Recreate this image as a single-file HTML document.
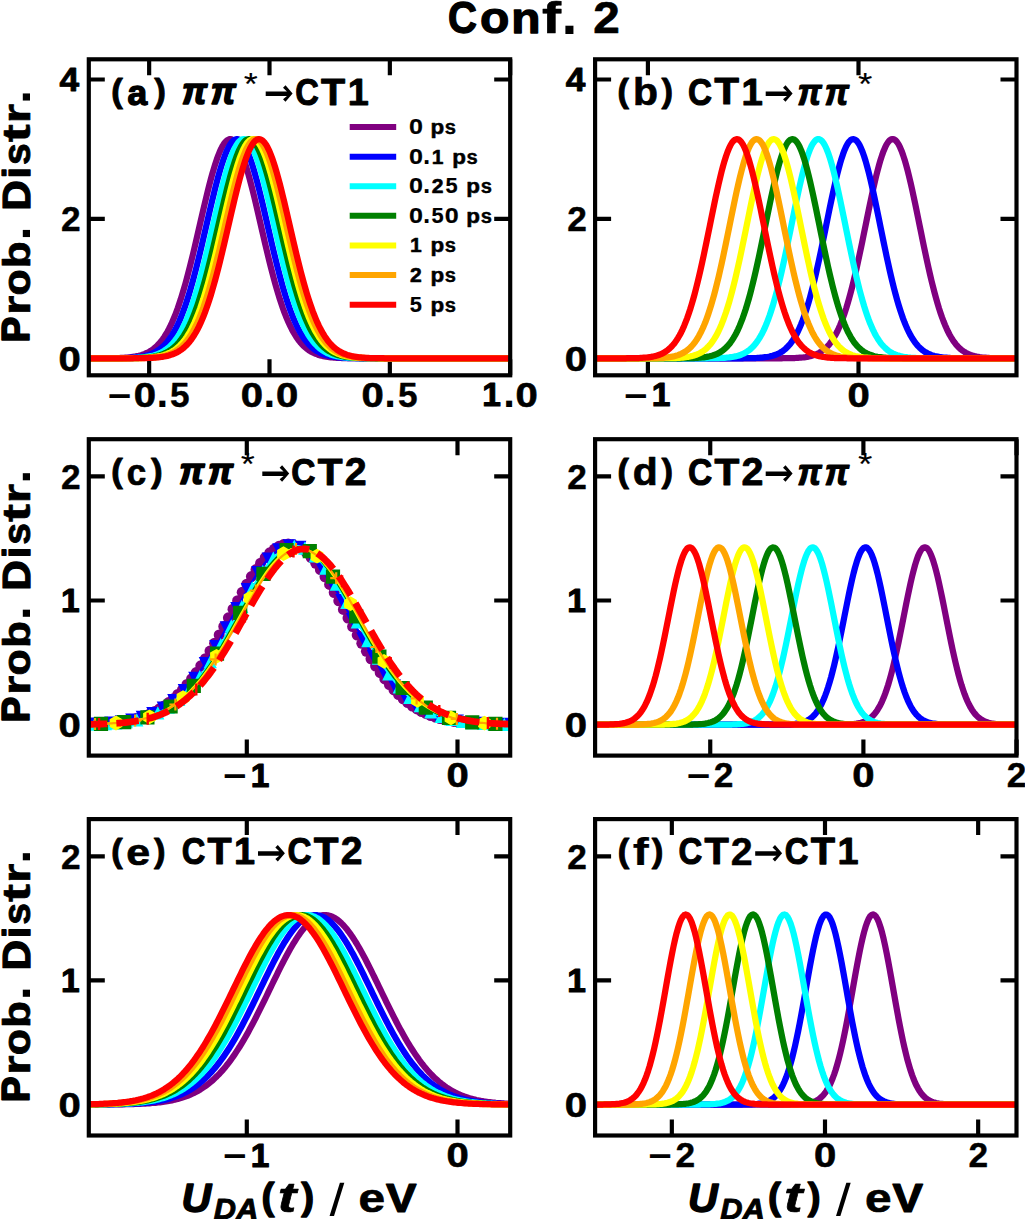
<!DOCTYPE html>
<html><head><meta charset="utf-8"><style>
html,body{margin:0;padding:0;background:#fff;}
svg{display:block;}
text{font-family:"Liberation Sans",sans-serif;font-weight:bold;fill:#000;}
</style></head><body>
<svg width="1025" height="1219" viewBox="0 0 1025 1219">
<defs><clipPath id="clipa"><rect x="88.8" y="59.3" width="421.40" height="316.00"/></clipPath><clipPath id="clipb"><rect x="595.1" y="59.3" width="421.40" height="316.00"/></clipPath><clipPath id="clipc"><rect x="88.8" y="439.2" width="421.40" height="316.40"/></clipPath><clipPath id="clipd"><rect x="595.1" y="439.2" width="421.40" height="316.40"/></clipPath><clipPath id="clipe"><rect x="88.8" y="819.1" width="421.40" height="316.40"/></clipPath><clipPath id="clipf"><rect x="595.1" y="819.1" width="421.40" height="316.40"/></clipPath></defs>
<rect width="1025" height="1219" fill="#fff"/>
<path d="M149.15,375.3 v-16 M149.15,59.3 v16 M269.50,375.3 v-16 M269.50,59.3 v16 M389.85,375.3 v-16 M389.85,59.3 v16 M510.20,375.3 v-16 M510.20,59.3 v16 M88.8,358.30 h16 M510.2,358.30 h-16 M88.8,218.90 h16 M510.2,218.90 h-16 M88.8,79.50 h16 M510.2,79.50 h-16" stroke="#000" stroke-width="4.17" fill="none"/>
<g clip-path="url(#clipa)" fill="none" stroke-linejoin="round">
<path d="M84.8,358.3 L90.8,358.3 L96.8,358.3 L98.3,358.3 L99.8,358.3 L101.3,358.3 L102.8,358.3 L104.3,358.3 L105.8,358.2 L107.3,358.2 L108.8,358.2 L110.3,358.2 L111.8,358.2 L113.3,358.2 L114.8,358.1 L116.3,358.1 L117.8,358.0 L119.3,358.0 L120.8,357.9 L122.3,357.9 L123.8,357.8 L125.3,357.7 L126.8,357.6 L128.3,357.5 L129.8,357.3 L131.3,357.1 L132.8,356.9 L134.3,356.7 L135.8,356.4 L137.3,356.1 L138.8,355.8 L140.3,355.4 L141.8,355.0 L143.3,354.4 L144.8,353.9 L146.3,353.2 L147.8,352.5 L149.3,351.7 L150.8,350.8 L152.3,349.8 L153.8,348.7 L155.3,347.4 L156.8,346.1 L158.3,344.5 L159.8,342.9 L161.3,341.1 L162.8,339.1 L164.3,336.9 L165.8,334.5 L167.3,332.0 L168.8,329.2 L170.3,326.2 L171.8,323.0 L173.3,319.6 L174.8,316.0 L176.3,312.1 L177.8,308.0 L179.3,303.6 L180.8,299.1 L182.3,294.2 L183.8,289.2 L185.3,284.0 L186.8,278.5 L188.3,272.8 L189.8,267.0 L191.3,261.0 L192.8,254.9 L194.3,248.6 L195.8,242.2 L197.3,235.8 L198.8,229.3 L200.3,222.7 L201.8,216.2 L203.3,209.8 L204.8,203.4 L206.3,197.1 L207.8,191.0 L209.3,185.1 L210.8,179.4 L212.3,173.9 L213.8,168.8 L215.3,163.9 L216.8,159.4 L218.3,155.3 L219.8,151.6 L221.3,148.4 L222.8,145.6 L224.3,143.3 L225.8,141.5 L227.3,140.2 L228.8,139.4 L230.3,139.1 L231.8,139.4 L233.3,140.2 L234.8,141.5 L236.3,143.3 L237.8,145.6 L239.3,148.4 L240.8,151.6 L242.3,155.3 L243.8,159.4 L245.3,163.9 L246.8,168.8 L248.3,173.9 L249.8,179.4 L251.3,185.1 L252.8,191.0 L254.3,197.1 L255.8,203.4 L257.3,209.8 L258.8,216.2 L260.3,222.7 L261.8,229.3 L263.3,235.8 L264.8,242.2 L266.3,248.6 L267.8,254.9 L269.3,261.0 L270.8,267.0 L272.3,272.8 L273.8,278.5 L275.3,284.0 L276.8,289.2 L278.3,294.2 L279.8,299.1 L281.3,303.6 L282.8,308.0 L284.3,312.1 L285.8,316.0 L287.3,319.6 L288.8,323.0 L290.3,326.2 L291.8,329.2 L293.3,332.0 L294.8,334.5 L296.3,336.9 L297.8,339.1 L299.3,341.1 L300.8,342.9 L302.3,344.5 L303.8,346.1 L305.3,347.4 L306.8,348.7 L308.3,349.8 L309.8,350.8 L311.3,351.7 L312.8,352.5 L314.3,353.2 L315.8,353.9 L317.3,354.4 L318.8,355.0 L320.3,355.4 L321.8,355.8 L323.3,356.1 L324.8,356.4 L326.3,356.7 L327.8,356.9 L329.3,357.1 L330.8,357.3 L332.3,357.5 L333.8,357.6 L335.3,357.7 L336.8,357.8 L338.3,357.9 L339.8,357.9 L341.3,358.0 L342.8,358.0 L344.3,358.1 L345.8,358.1 L347.3,358.2 L348.8,358.2 L350.3,358.2 L351.8,358.2 L353.3,358.2 L354.8,358.2 L356.3,358.3 L357.8,358.3 L359.3,358.3 L360.8,358.3 L362.3,358.3 L363.8,358.3 L365.3,358.3 L366.8,358.3 L368.3,358.3 L374.3,358.3 L380.3,358.3 L386.3,358.3 L392.3,358.3 L398.3,358.3 L404.3,358.3 L410.3,358.3 L416.3,358.3 L422.3,358.3 L428.3,358.3 L434.3,358.3 L440.3,358.3 L446.3,358.3 L452.3,358.3 L458.3,358.3 L464.3,358.3 L470.3,358.3 L476.3,358.3 L482.3,358.3 L488.3,358.3 L494.3,358.3 L500.3,358.3 L506.3,358.3 L512.3,358.3" stroke="#800080" stroke-width="6.25"/>
<path d="M84.8,358.3 L90.8,358.3 L96.8,358.3 L102.8,358.3 L104.3,358.3 L105.8,358.3 L107.3,358.3 L108.8,358.3 L110.3,358.3 L111.8,358.2 L113.3,358.2 L114.8,358.2 L116.3,358.2 L117.8,358.2 L119.3,358.2 L120.8,358.1 L122.3,358.1 L123.8,358.1 L125.3,358.0 L126.8,358.0 L128.3,357.9 L129.8,357.8 L131.3,357.7 L132.8,357.6 L134.3,357.5 L135.8,357.4 L137.3,357.2 L138.8,357.0 L140.3,356.8 L141.8,356.6 L143.3,356.3 L144.8,356.0 L146.3,355.6 L147.8,355.2 L149.3,354.7 L150.8,354.2 L152.3,353.5 L153.8,352.9 L155.3,352.1 L156.8,351.2 L158.3,350.3 L159.8,349.2 L161.3,348.0 L162.8,346.7 L164.3,345.3 L165.8,343.7 L167.3,341.9 L168.8,340.0 L170.3,337.9 L171.8,335.7 L173.3,333.2 L174.8,330.5 L176.3,327.7 L177.8,324.6 L179.3,321.3 L180.8,317.7 L182.3,313.9 L183.8,309.9 L185.3,305.7 L186.8,301.2 L188.3,296.5 L189.8,291.6 L191.3,286.4 L192.8,281.1 L194.3,275.5 L195.8,269.7 L197.3,263.8 L198.8,257.7 L200.3,251.5 L201.8,245.2 L203.3,238.8 L204.8,232.3 L206.3,225.8 L207.8,219.3 L209.3,212.8 L210.8,206.4 L212.3,200.0 L213.8,193.9 L215.3,187.8 L216.8,182.0 L218.3,176.4 L219.8,171.1 L221.3,166.1 L222.8,161.5 L224.3,157.2 L225.8,153.3 L227.3,149.8 L228.8,146.8 L230.3,144.3 L231.8,142.2 L233.3,140.7 L234.8,139.7 L236.3,139.2 L237.8,139.2 L239.3,139.7 L240.8,140.8 L242.3,142.4 L243.8,144.4 L245.3,147.0 L246.8,150.1 L248.3,153.5 L249.8,157.5 L251.3,161.8 L252.8,166.5 L254.3,171.5 L255.8,176.8 L257.3,182.4 L258.8,188.2 L260.3,194.3 L261.8,200.5 L263.3,206.8 L264.8,213.2 L266.3,219.7 L267.8,226.2 L269.3,232.7 L270.8,239.2 L272.3,245.6 L273.8,251.9 L275.3,258.1 L276.8,264.2 L278.3,270.1 L279.8,275.9 L281.3,281.4 L282.8,286.8 L284.3,291.9 L285.8,296.8 L287.3,301.5 L288.8,306.0 L290.3,310.2 L291.8,314.2 L293.3,318.0 L294.8,321.5 L296.3,324.8 L297.8,327.9 L299.3,330.7 L300.8,333.4 L302.3,335.8 L303.8,338.1 L305.3,340.1 L306.8,342.0 L308.3,343.8 L309.8,345.4 L311.3,346.8 L312.8,348.1 L314.3,349.3 L315.8,350.3 L317.3,351.3 L318.8,352.1 L320.3,352.9 L321.8,353.6 L323.3,354.2 L324.8,354.7 L326.3,355.2 L327.8,355.6 L329.3,356.0 L330.8,356.3 L332.3,356.6 L333.8,356.8 L335.3,357.0 L336.8,357.2 L338.3,357.4 L339.8,357.5 L341.3,357.6 L342.8,357.7 L344.3,357.8 L345.8,357.9 L347.3,358.0 L348.8,358.0 L350.3,358.1 L351.8,358.1 L353.3,358.1 L354.8,358.2 L356.3,358.2 L357.8,358.2 L359.3,358.2 L360.8,358.2 L362.3,358.2 L363.8,358.3 L365.3,358.3 L366.8,358.3 L368.3,358.3 L369.8,358.3 L371.3,358.3 L372.8,358.3 L374.3,358.3 L375.8,358.3 L381.8,358.3 L387.8,358.3 L393.8,358.3 L399.8,358.3 L405.8,358.3 L411.8,358.3 L417.8,358.3 L423.8,358.3 L429.8,358.3 L435.8,358.3 L441.8,358.3 L447.8,358.3 L453.8,358.3 L459.8,358.3 L465.8,358.3 L471.8,358.3 L477.8,358.3 L483.8,358.3 L489.8,358.3 L495.8,358.3 L501.8,358.3 L507.8,358.3 L513.8,358.3" stroke="#0000ff" stroke-width="6.25"/>
<path d="M84.8,358.3 L90.8,358.3 L96.8,358.3 L102.8,358.3 L108.8,358.3 L110.3,358.3 L111.8,358.3 L113.3,358.3 L114.8,358.3 L116.3,358.3 L117.8,358.3 L119.3,358.2 L120.8,358.2 L122.3,358.2 L123.8,358.2 L125.3,358.2 L126.8,358.2 L128.3,358.1 L129.8,358.1 L131.3,358.0 L132.8,358.0 L134.3,357.9 L135.8,357.9 L137.3,357.8 L138.8,357.7 L140.3,357.6 L141.8,357.4 L143.3,357.3 L144.8,357.1 L146.3,356.9 L147.8,356.7 L149.3,356.4 L150.8,356.1 L152.3,355.8 L153.8,355.4 L155.3,354.9 L156.8,354.4 L158.3,353.8 L159.8,353.2 L161.3,352.5 L162.8,351.6 L164.3,350.7 L165.8,349.7 L167.3,348.6 L168.8,347.3 L170.3,346.0 L171.8,344.4 L173.3,342.8 L174.8,340.9 L176.3,338.9 L177.8,336.7 L179.3,334.4 L180.8,331.8 L182.3,329.0 L183.8,326.0 L185.3,322.8 L186.8,319.4 L188.3,315.7 L189.8,311.8 L191.3,307.7 L192.8,303.3 L194.3,298.7 L195.8,293.9 L197.3,288.9 L198.8,283.6 L200.3,278.1 L201.8,272.5 L203.3,266.6 L204.8,260.6 L206.3,254.4 L207.8,248.2 L209.3,241.8 L210.8,235.3 L212.3,228.8 L213.8,222.3 L215.3,215.8 L216.8,209.4 L218.3,203.0 L219.8,196.7 L221.3,190.6 L222.8,184.7 L224.3,179.0 L225.8,173.6 L227.3,168.4 L228.8,163.6 L230.3,159.1 L231.8,155.1 L233.3,151.4 L234.8,148.2 L236.3,145.4 L237.8,143.1 L239.3,141.4 L240.8,140.1 L242.3,139.3 L243.8,139.1 L245.3,139.4 L246.8,140.2 L248.3,141.6 L249.8,143.4 L251.3,145.8 L252.8,148.6 L254.3,151.9 L255.8,155.6 L257.3,159.7 L258.8,164.2 L260.3,169.1 L261.8,174.3 L263.3,179.8 L264.8,185.5 L266.3,191.4 L267.8,197.6 L269.3,203.8 L270.8,210.2 L272.3,216.7 L273.8,223.2 L275.3,229.7 L276.8,236.2 L278.3,242.6 L279.8,249.0 L281.3,255.3 L282.8,261.4 L284.3,267.4 L285.8,273.2 L287.3,278.9 L288.8,284.3 L290.3,289.6 L291.8,294.6 L293.3,299.4 L294.8,303.9 L296.3,308.3 L297.8,312.4 L299.3,316.2 L300.8,319.9 L302.3,323.3 L303.8,326.4 L305.3,329.4 L306.8,332.1 L308.3,334.7 L309.8,337.0 L311.3,339.2 L312.8,341.2 L314.3,343.0 L315.8,344.6 L317.3,346.1 L318.8,347.5 L320.3,348.7 L321.8,349.9 L323.3,350.9 L324.8,351.8 L326.3,352.6 L327.8,353.3 L329.3,353.9 L330.8,354.5 L332.3,355.0 L333.8,355.4 L335.3,355.8 L336.8,356.2 L338.3,356.5 L339.8,356.7 L341.3,356.9 L342.8,357.1 L344.3,357.3 L345.8,357.5 L347.3,357.6 L348.8,357.7 L350.3,357.8 L351.8,357.9 L353.3,357.9 L354.8,358.0 L356.3,358.0 L357.8,358.1 L359.3,358.1 L360.8,358.2 L362.3,358.2 L363.8,358.2 L365.3,358.2 L366.8,358.2 L368.3,358.2 L369.8,358.3 L371.3,358.3 L372.8,358.3 L374.3,358.3 L375.8,358.3 L377.3,358.3 L378.8,358.3 L380.3,358.3 L381.8,358.3 L387.8,358.3 L393.8,358.3 L399.8,358.3 L405.8,358.3 L411.8,358.3 L417.8,358.3 L423.8,358.3 L429.8,358.3 L435.8,358.3 L441.8,358.3 L447.8,358.3 L453.8,358.3 L459.8,358.3 L465.8,358.3 L471.8,358.3 L477.8,358.3 L483.8,358.3 L489.8,358.3 L495.8,358.3 L501.8,358.3 L507.8,358.3 L513.8,358.3" stroke="#00ffff" stroke-width="6.25"/>
<path d="M84.8,358.3 L90.8,358.3 L96.8,358.3 L102.8,358.3 L108.8,358.3 L114.8,358.3 L116.3,358.3 L117.8,358.3 L119.3,358.3 L120.8,358.3 L122.3,358.3 L123.8,358.2 L125.3,358.2 L126.8,358.2 L128.3,358.2 L129.8,358.2 L131.3,358.2 L132.8,358.1 L134.3,358.1 L135.8,358.1 L137.3,358.0 L138.8,358.0 L140.3,357.9 L141.8,357.8 L143.3,357.7 L144.8,357.6 L146.3,357.5 L147.8,357.4 L149.3,357.2 L150.8,357.0 L152.3,356.8 L153.8,356.6 L155.3,356.3 L156.8,356.0 L158.3,355.6 L159.8,355.2 L161.3,354.7 L162.8,354.2 L164.3,353.5 L165.8,352.9 L167.3,352.1 L168.8,351.2 L170.3,350.3 L171.8,349.2 L173.3,348.0 L174.8,346.7 L176.3,345.3 L177.8,343.7 L179.3,341.9 L180.8,340.0 L182.3,337.9 L183.8,335.7 L185.3,333.2 L186.8,330.5 L188.3,327.7 L189.8,324.6 L191.3,321.3 L192.8,317.7 L194.3,313.9 L195.8,309.9 L197.3,305.7 L198.8,301.2 L200.3,296.5 L201.8,291.6 L203.3,286.4 L204.8,281.1 L206.3,275.5 L207.8,269.7 L209.3,263.8 L210.8,257.7 L212.3,251.5 L213.8,245.2 L215.3,238.8 L216.8,232.3 L218.3,225.8 L219.8,219.3 L221.3,212.8 L222.8,206.4 L224.3,200.0 L225.8,193.9 L227.3,187.8 L228.8,182.0 L230.3,176.4 L231.8,171.1 L233.3,166.1 L234.8,161.5 L236.3,157.2 L237.8,153.3 L239.3,149.8 L240.8,146.8 L242.3,144.3 L243.8,142.2 L245.3,140.7 L246.8,139.7 L248.3,139.2 L249.8,139.2 L251.3,139.7 L252.8,140.8 L254.3,142.4 L255.8,144.4 L257.3,147.0 L258.8,150.1 L260.3,153.5 L261.8,157.5 L263.3,161.8 L264.8,166.5 L266.3,171.5 L267.8,176.8 L269.3,182.4 L270.8,188.2 L272.3,194.3 L273.8,200.5 L275.3,206.8 L276.8,213.2 L278.3,219.7 L279.8,226.2 L281.3,232.7 L282.8,239.2 L284.3,245.6 L285.8,251.9 L287.3,258.1 L288.8,264.2 L290.3,270.1 L291.8,275.9 L293.3,281.4 L294.8,286.8 L296.3,291.9 L297.8,296.8 L299.3,301.5 L300.8,306.0 L302.3,310.2 L303.8,314.2 L305.3,318.0 L306.8,321.5 L308.3,324.8 L309.8,327.9 L311.3,330.7 L312.8,333.4 L314.3,335.8 L315.8,338.1 L317.3,340.1 L318.8,342.0 L320.3,343.8 L321.8,345.4 L323.3,346.8 L324.8,348.1 L326.3,349.3 L327.8,350.3 L329.3,351.3 L330.8,352.1 L332.3,352.9 L333.8,353.6 L335.3,354.2 L336.8,354.7 L338.3,355.2 L339.8,355.6 L341.3,356.0 L342.8,356.3 L344.3,356.6 L345.8,356.8 L347.3,357.0 L348.8,357.2 L350.3,357.4 L351.8,357.5 L353.3,357.6 L354.8,357.7 L356.3,357.8 L357.8,357.9 L359.3,358.0 L360.8,358.0 L362.3,358.1 L363.8,358.1 L365.3,358.1 L366.8,358.2 L368.3,358.2 L369.8,358.2 L371.3,358.2 L372.8,358.2 L374.3,358.2 L375.8,358.3 L377.3,358.3 L378.8,358.3 L380.3,358.3 L381.8,358.3 L383.3,358.3 L384.8,358.3 L386.3,358.3 L387.8,358.3 L393.8,358.3 L399.8,358.3 L405.8,358.3 L411.8,358.3 L417.8,358.3 L423.8,358.3 L429.8,358.3 L435.8,358.3 L441.8,358.3 L447.8,358.3 L453.8,358.3 L459.8,358.3 L465.8,358.3 L471.8,358.3 L477.8,358.3 L483.8,358.3 L489.8,358.3 L495.8,358.3 L501.8,358.3 L507.8,358.3 L513.8,358.3" stroke="#008000" stroke-width="6.25"/>
<path d="M84.8,358.3 L90.8,358.3 L96.8,358.3 L102.8,358.3 L108.8,358.3 L114.8,358.3 L120.8,358.3 L122.3,358.3 L123.8,358.3 L125.3,358.3 L126.8,358.3 L128.3,358.2 L129.8,358.2 L131.3,358.2 L132.8,358.2 L134.3,358.2 L135.8,358.2 L137.3,358.1 L138.8,358.1 L140.3,358.0 L141.8,358.0 L143.3,357.9 L144.8,357.9 L146.3,357.8 L147.8,357.7 L149.3,357.6 L150.8,357.5 L152.3,357.3 L153.8,357.1 L155.3,356.9 L156.8,356.7 L158.3,356.4 L159.8,356.1 L161.3,355.8 L162.8,355.4 L164.3,355.0 L165.8,354.4 L167.3,353.9 L168.8,353.2 L170.3,352.5 L171.8,351.7 L173.3,350.8 L174.8,349.8 L176.3,348.7 L177.8,347.4 L179.3,346.1 L180.8,344.5 L182.3,342.9 L183.8,341.1 L185.3,339.1 L186.8,336.9 L188.3,334.5 L189.8,332.0 L191.3,329.2 L192.8,326.2 L194.3,323.0 L195.8,319.6 L197.3,316.0 L198.8,312.1 L200.3,308.0 L201.8,303.6 L203.3,299.1 L204.8,294.2 L206.3,289.2 L207.8,284.0 L209.3,278.5 L210.8,272.8 L212.3,267.0 L213.8,261.0 L215.3,254.9 L216.8,248.6 L218.3,242.2 L219.8,235.8 L221.3,229.3 L222.8,222.7 L224.3,216.2 L225.8,209.8 L227.3,203.4 L228.8,197.1 L230.3,191.0 L231.8,185.1 L233.3,179.4 L234.8,173.9 L236.3,168.8 L237.8,163.9 L239.3,159.4 L240.8,155.3 L242.3,151.6 L243.8,148.4 L245.3,145.6 L246.8,143.3 L248.3,141.5 L249.8,140.2 L251.3,139.4 L252.8,139.1 L254.3,139.4 L255.8,140.2 L257.3,141.5 L258.8,143.3 L260.3,145.6 L261.8,148.4 L263.3,151.6 L264.8,155.3 L266.3,159.4 L267.8,163.9 L269.3,168.8 L270.8,173.9 L272.3,179.4 L273.8,185.1 L275.3,191.0 L276.8,197.1 L278.3,203.4 L279.8,209.8 L281.3,216.2 L282.8,222.7 L284.3,229.3 L285.8,235.8 L287.3,242.2 L288.8,248.6 L290.3,254.9 L291.8,261.0 L293.3,267.0 L294.8,272.8 L296.3,278.5 L297.8,284.0 L299.3,289.2 L300.8,294.2 L302.3,299.1 L303.8,303.6 L305.3,308.0 L306.8,312.1 L308.3,316.0 L309.8,319.6 L311.3,323.0 L312.8,326.2 L314.3,329.2 L315.8,332.0 L317.3,334.5 L318.8,336.9 L320.3,339.1 L321.8,341.1 L323.3,342.9 L324.8,344.5 L326.3,346.1 L327.8,347.4 L329.3,348.7 L330.8,349.8 L332.3,350.8 L333.8,351.7 L335.3,352.5 L336.8,353.2 L338.3,353.9 L339.8,354.4 L341.3,355.0 L342.8,355.4 L344.3,355.8 L345.8,356.1 L347.3,356.4 L348.8,356.7 L350.3,356.9 L351.8,357.1 L353.3,357.3 L354.8,357.5 L356.3,357.6 L357.8,357.7 L359.3,357.8 L360.8,357.9 L362.3,357.9 L363.8,358.0 L365.3,358.0 L366.8,358.1 L368.3,358.1 L369.8,358.2 L371.3,358.2 L372.8,358.2 L374.3,358.2 L375.8,358.2 L377.3,358.2 L378.8,358.3 L380.3,358.3 L381.8,358.3 L383.3,358.3 L384.8,358.3 L386.3,358.3 L387.8,358.3 L389.3,358.3 L390.8,358.3 L396.8,358.3 L402.8,358.3 L408.8,358.3 L414.8,358.3 L420.8,358.3 L426.8,358.3 L432.8,358.3 L438.8,358.3 L444.8,358.3 L450.8,358.3 L456.8,358.3 L462.8,358.3 L468.8,358.3 L474.8,358.3 L480.8,358.3 L486.8,358.3 L492.8,358.3 L498.8,358.3 L504.8,358.3 L510.8,358.3" stroke="#ffff00" stroke-width="6.25"/>
<path d="M84.8,358.3 L90.8,358.3 L96.8,358.3 L102.8,358.3 L108.8,358.3 L114.8,358.3 L120.8,358.3 L122.3,358.3 L123.8,358.3 L125.3,358.3 L126.8,358.3 L128.3,358.3 L129.8,358.3 L131.3,358.2 L132.8,358.2 L134.3,358.2 L135.8,358.2 L137.3,358.2 L138.8,358.2 L140.3,358.1 L141.8,358.1 L143.3,358.0 L144.8,358.0 L146.3,357.9 L147.8,357.9 L149.3,357.8 L150.8,357.7 L152.3,357.6 L153.8,357.4 L155.3,357.3 L156.8,357.1 L158.3,356.9 L159.8,356.7 L161.3,356.4 L162.8,356.1 L164.3,355.8 L165.8,355.4 L167.3,354.9 L168.8,354.4 L170.3,353.8 L171.8,353.2 L173.3,352.5 L174.8,351.6 L176.3,350.7 L177.8,349.7 L179.3,348.6 L180.8,347.3 L182.3,346.0 L183.8,344.4 L185.3,342.8 L186.8,340.9 L188.3,338.9 L189.8,336.7 L191.3,334.4 L192.8,331.8 L194.3,329.0 L195.8,326.0 L197.3,322.8 L198.8,319.4 L200.3,315.7 L201.8,311.8 L203.3,307.7 L204.8,303.3 L206.3,298.7 L207.8,293.9 L209.3,288.9 L210.8,283.6 L212.3,278.1 L213.8,272.5 L215.3,266.6 L216.8,260.6 L218.3,254.4 L219.8,248.2 L221.3,241.8 L222.8,235.3 L224.3,228.8 L225.8,222.3 L227.3,215.8 L228.8,209.4 L230.3,203.0 L231.8,196.7 L233.3,190.6 L234.8,184.7 L236.3,179.0 L237.8,173.6 L239.3,168.4 L240.8,163.6 L242.3,159.1 L243.8,155.1 L245.3,151.4 L246.8,148.2 L248.3,145.4 L249.8,143.1 L251.3,141.4 L252.8,140.1 L254.3,139.3 L255.8,139.1 L257.3,139.4 L258.8,140.2 L260.3,141.6 L261.8,143.4 L263.3,145.8 L264.8,148.6 L266.3,151.9 L267.8,155.6 L269.3,159.7 L270.8,164.2 L272.3,169.1 L273.8,174.3 L275.3,179.8 L276.8,185.5 L278.3,191.4 L279.8,197.6 L281.3,203.8 L282.8,210.2 L284.3,216.7 L285.8,223.2 L287.3,229.7 L288.8,236.2 L290.3,242.6 L291.8,249.0 L293.3,255.3 L294.8,261.4 L296.3,267.4 L297.8,273.2 L299.3,278.9 L300.8,284.3 L302.3,289.6 L303.8,294.6 L305.3,299.4 L306.8,303.9 L308.3,308.3 L309.8,312.4 L311.3,316.2 L312.8,319.9 L314.3,323.3 L315.8,326.4 L317.3,329.4 L318.8,332.1 L320.3,334.7 L321.8,337.0 L323.3,339.2 L324.8,341.2 L326.3,343.0 L327.8,344.6 L329.3,346.1 L330.8,347.5 L332.3,348.7 L333.8,349.9 L335.3,350.9 L336.8,351.8 L338.3,352.6 L339.8,353.3 L341.3,353.9 L342.8,354.5 L344.3,355.0 L345.8,355.4 L347.3,355.8 L348.8,356.2 L350.3,356.5 L351.8,356.7 L353.3,356.9 L354.8,357.1 L356.3,357.3 L357.8,357.5 L359.3,357.6 L360.8,357.7 L362.3,357.8 L363.8,357.9 L365.3,357.9 L366.8,358.0 L368.3,358.0 L369.8,358.1 L371.3,358.1 L372.8,358.2 L374.3,358.2 L375.8,358.2 L377.3,358.2 L378.8,358.2 L380.3,358.2 L381.8,358.3 L383.3,358.3 L384.8,358.3 L386.3,358.3 L387.8,358.3 L389.3,358.3 L390.8,358.3 L392.3,358.3 L393.8,358.3 L399.8,358.3 L405.8,358.3 L411.8,358.3 L417.8,358.3 L423.8,358.3 L429.8,358.3 L435.8,358.3 L441.8,358.3 L447.8,358.3 L453.8,358.3 L459.8,358.3 L465.8,358.3 L471.8,358.3 L477.8,358.3 L483.8,358.3 L489.8,358.3 L495.8,358.3 L501.8,358.3 L507.8,358.3 L513.8,358.3" stroke="#ffa500" stroke-width="6.25"/>
<path d="M84.8,358.3 L90.8,358.3 L96.8,358.3 L102.8,358.3 L108.8,358.3 L114.8,358.3 L120.8,358.3 L126.8,358.3 L128.3,358.3 L129.8,358.3 L131.3,358.3 L132.8,358.3 L134.3,358.2 L135.8,358.2 L137.3,358.2 L138.8,358.2 L140.3,358.2 L141.8,358.2 L143.3,358.1 L144.8,358.1 L146.3,358.1 L147.8,358.0 L149.3,357.9 L150.8,357.9 L152.3,357.8 L153.8,357.7 L155.3,357.6 L156.8,357.5 L158.3,357.3 L159.8,357.2 L161.3,357.0 L162.8,356.8 L164.3,356.5 L165.8,356.2 L167.3,355.9 L168.8,355.5 L170.3,355.0 L171.8,354.6 L173.3,354.0 L174.8,353.4 L176.3,352.7 L177.8,351.9 L179.3,351.0 L180.8,350.0 L182.3,348.9 L183.8,347.7 L185.3,346.3 L186.8,344.9 L188.3,343.2 L189.8,341.4 L191.3,339.5 L192.8,337.3 L194.3,335.0 L195.8,332.5 L197.3,329.8 L198.8,326.9 L200.3,323.7 L201.8,320.3 L203.3,316.7 L204.8,312.9 L206.3,308.8 L207.8,304.5 L209.3,300.0 L210.8,295.2 L212.3,290.2 L213.8,285.0 L215.3,279.6 L216.8,274.0 L218.3,268.2 L219.8,262.2 L221.3,256.1 L222.8,249.8 L224.3,243.5 L225.8,237.0 L227.3,230.6 L228.8,224.0 L230.3,217.5 L231.8,211.1 L233.3,204.7 L234.8,198.4 L236.3,192.2 L237.8,186.3 L239.3,180.5 L240.8,175.0 L242.3,169.8 L243.8,164.9 L245.3,160.3 L246.8,156.1 L248.3,152.3 L249.8,149.0 L251.3,146.1 L252.8,143.7 L254.3,141.8 L255.8,140.4 L257.3,139.5 L258.8,139.1 L260.3,139.3 L261.8,140.0 L263.3,141.2 L264.8,142.9 L266.3,145.1 L267.8,147.8 L269.3,150.9 L270.8,154.6 L272.3,158.6 L273.8,163.0 L275.3,167.8 L276.8,172.9 L278.3,178.3 L279.8,183.9 L281.3,189.8 L282.8,195.9 L284.3,202.1 L285.8,208.5 L287.3,214.9 L288.8,221.4 L290.3,228.0 L291.8,234.5 L293.3,240.9 L294.8,247.3 L296.3,253.6 L297.8,259.8 L299.3,265.8 L300.8,271.7 L302.3,277.4 L303.8,282.9 L305.3,288.2 L306.8,293.3 L308.3,298.1 L309.8,302.7 L311.3,307.1 L312.8,311.3 L314.3,315.2 L315.8,318.9 L317.3,322.4 L318.8,325.6 L320.3,328.6 L321.8,331.4 L323.3,334.0 L324.8,336.4 L326.3,338.6 L327.8,340.7 L329.3,342.5 L330.8,344.2 L332.3,345.8 L333.8,347.2 L335.3,348.4 L336.8,349.6 L338.3,350.6 L339.8,351.5 L341.3,352.4 L342.8,353.1 L344.3,353.8 L345.8,354.3 L347.3,354.9 L348.8,355.3 L350.3,355.7 L351.8,356.1 L353.3,356.4 L354.8,356.7 L356.3,356.9 L357.8,357.1 L359.3,357.3 L360.8,357.4 L362.3,357.6 L363.8,357.7 L365.3,357.8 L366.8,357.9 L368.3,357.9 L369.8,358.0 L371.3,358.0 L372.8,358.1 L374.3,358.1 L375.8,358.1 L377.3,358.2 L378.8,358.2 L380.3,358.2 L381.8,358.2 L383.3,358.2 L384.8,358.3 L386.3,358.3 L387.8,358.3 L389.3,358.3 L390.8,358.3 L392.3,358.3 L393.8,358.3 L395.3,358.3 L396.8,358.3 L398.3,358.3 L404.3,358.3 L410.3,358.3 L416.3,358.3 L422.3,358.3 L428.3,358.3 L434.3,358.3 L440.3,358.3 L446.3,358.3 L452.3,358.3 L458.3,358.3 L464.3,358.3 L470.3,358.3 L476.3,358.3 L482.3,358.3 L488.3,358.3 L494.3,358.3 L500.3,358.3 L506.3,358.3 L512.3,358.3" stroke="#ff0000" stroke-width="6.25"/>
</g>
<rect x="88.8" y="59.3" width="421.40" height="316.00" stroke="#000" stroke-width="4.17" fill="none"/>
<text transform="translate(107.74,408.10) scale(1.1590,1)" font-size="34.92" style="">−</text><text transform="translate(133.66,406.87) scale(1.1549,1)" font-size="34.67" style="stroke:#000;stroke-width:0.60px;stroke-linejoin:round;">0</text><text transform="translate(156.41,407.02) scale(0.9938,1)" font-size="42.31" style="">.</text><text transform="translate(170.10,406.97) scale(1.0056,1)" font-size="34.98" style="stroke:#000;stroke-width:0.40px;stroke-linejoin:round;">5</text>
<text transform="translate(240.80,406.87) scale(1.1549,1)" font-size="34.67" style="stroke:#000;stroke-width:0.60px;stroke-linejoin:round;">0</text><text transform="translate(263.55,407.02) scale(0.9938,1)" font-size="42.31" style="">.</text><text transform="translate(275.98,406.87) scale(1.1549,1)" font-size="34.67" style="stroke:#000;stroke-width:0.60px;stroke-linejoin:round;">0</text>
<text transform="translate(361.56,406.87) scale(1.1549,1)" font-size="34.67" style="stroke:#000;stroke-width:0.60px;stroke-linejoin:round;">0</text><text transform="translate(384.31,407.02) scale(0.9938,1)" font-size="42.31" style="">.</text><text transform="translate(398.00,406.97) scale(1.0056,1)" font-size="34.98" style="stroke:#000;stroke-width:0.40px;stroke-linejoin:round;">5</text>
<text transform="translate(482.24,406.47) scale(0.9928,1)" font-size="33.74" style="stroke:#000;stroke-width:1.10px;stroke-linejoin:round;">1</text><text transform="translate(503.18,407.02) scale(0.9938,1)" font-size="42.31" style="">.</text><text transform="translate(515.61,406.87) scale(1.1549,1)" font-size="34.67" style="stroke:#000;stroke-width:0.60px;stroke-linejoin:round;">0</text>
<text transform="translate(58.38,370.56) scale(1.1549,1)" font-size="34.67" style="stroke:#000;stroke-width:0.60px;stroke-linejoin:round;">0</text>
<text transform="translate(60.93,231.11) scale(1.0154,1)" font-size="34.74" style="stroke:#000;stroke-width:0.40px;stroke-linejoin:round;">2</text>
<text transform="translate(59.44,91.46) scale(1.0372,1)" font-size="34.03" style="stroke:#000;stroke-width:0.90px;stroke-linejoin:round;">4</text>
<path d="M647.90,375.3 v-16 M647.90,59.3 v16 M858.50,375.3 v-16 M858.50,59.3 v16 M595.1,358.30 h16 M1016.5,358.30 h-16 M595.1,218.90 h16 M1016.5,218.90 h-16 M595.1,79.50 h16 M1016.5,79.50 h-16" stroke="#000" stroke-width="4.17" fill="none"/>
<g clip-path="url(#clipb)" fill="none" stroke-linejoin="round">
<path d="M591.1,358.3 L597.1,358.3 L603.1,358.3 L609.1,358.3 L615.1,358.3 L621.1,358.3 L627.1,358.3 L633.1,358.3 L639.1,358.3 L645.1,358.3 L651.1,358.3 L657.1,358.3 L663.1,358.3 L669.1,358.3 L675.1,358.3 L681.1,358.3 L687.1,358.3 L693.1,358.3 L699.1,358.3 L705.1,358.3 L711.1,358.3 L717.1,358.3 L723.1,358.3 L729.1,358.3 L735.1,358.3 L741.1,358.3 L747.1,358.3 L753.1,358.3 L759.1,358.3 L765.1,358.3 L771.1,358.3 L772.6,358.3 L774.1,358.3 L775.6,358.3 L777.1,358.3 L778.6,358.3 L780.1,358.3 L781.6,358.3 L783.1,358.2 L784.6,358.2 L786.1,358.2 L787.6,358.2 L789.1,358.2 L790.6,358.1 L792.1,358.1 L793.6,358.0 L795.1,358.0 L796.6,357.9 L798.1,357.8 L799.6,357.7 L801.1,357.6 L802.6,357.5 L804.1,357.3 L805.6,357.1 L807.1,356.8 L808.6,356.6 L810.1,356.2 L811.6,355.9 L813.1,355.4 L814.6,354.9 L816.1,354.3 L817.6,353.7 L819.1,352.9 L820.6,352.0 L822.1,351.0 L823.6,349.9 L825.1,348.7 L826.6,347.3 L828.1,345.7 L829.6,343.9 L831.1,341.9 L832.6,339.7 L834.1,337.3 L835.6,334.7 L837.1,331.8 L838.6,328.6 L840.1,325.2 L841.6,321.5 L843.1,317.5 L844.6,313.2 L846.1,308.6 L847.6,303.6 L849.1,298.4 L850.6,292.9 L852.1,287.1 L853.6,281.1 L855.1,274.7 L856.6,268.2 L858.1,261.4 L859.6,254.4 L861.1,247.3 L862.6,240.1 L864.1,232.7 L865.6,225.3 L867.1,218.0 L868.6,210.6 L870.1,203.4 L871.6,196.3 L873.1,189.4 L874.6,182.8 L876.1,176.4 L877.6,170.4 L879.1,164.9 L880.6,159.7 L882.1,155.1 L883.6,150.9 L885.1,147.4 L886.6,144.4 L888.1,142.1 L889.6,140.4 L891.1,139.4 L892.6,139.1 L894.1,139.4 L895.6,140.4 L897.1,142.1 L898.6,144.4 L900.1,147.4 L901.6,150.9 L903.1,155.1 L904.6,159.7 L906.1,164.9 L907.6,170.4 L909.1,176.4 L910.6,182.8 L912.1,189.4 L913.6,196.3 L915.1,203.4 L916.6,210.6 L918.1,218.0 L919.6,225.3 L921.1,232.7 L922.6,240.1 L924.1,247.3 L925.6,254.4 L927.1,261.4 L928.6,268.2 L930.1,274.7 L931.6,281.1 L933.1,287.1 L934.6,292.9 L936.1,298.4 L937.6,303.6 L939.1,308.6 L940.6,313.2 L942.1,317.5 L943.6,321.5 L945.1,325.2 L946.6,328.6 L948.1,331.8 L949.6,334.7 L951.1,337.3 L952.6,339.7 L954.1,341.9 L955.6,343.9 L957.1,345.7 L958.6,347.3 L960.1,348.7 L961.6,349.9 L963.1,351.0 L964.6,352.0 L966.1,352.9 L967.6,353.7 L969.1,354.3 L970.6,354.9 L972.1,355.4 L973.6,355.9 L975.1,356.2 L976.6,356.6 L978.1,356.8 L979.6,357.1 L981.1,357.3 L982.6,357.5 L984.1,357.6 L985.6,357.7 L987.1,357.8 L988.6,357.9 L990.1,358.0 L991.6,358.0 L993.1,358.1 L994.6,358.1 L996.1,358.2 L997.6,358.2 L999.1,358.2 L1000.6,358.2 L1002.1,358.2 L1003.6,358.3 L1005.1,358.3 L1006.6,358.3 L1008.1,358.3 L1009.6,358.3 L1011.1,358.3 L1012.6,358.3 L1014.1,358.3 L1015.6,358.3" stroke="#800080" stroke-width="6.25"/>
<path d="M591.1,358.3 L597.1,358.3 L603.1,358.3 L609.1,358.3 L615.1,358.3 L621.1,358.3 L627.1,358.3 L633.1,358.3 L639.1,358.3 L645.1,358.3 L651.1,358.3 L657.1,358.3 L663.1,358.3 L669.1,358.3 L675.1,358.3 L681.1,358.3 L687.1,358.3 L693.1,358.3 L699.1,358.3 L705.1,358.3 L711.1,358.3 L717.1,358.3 L723.1,358.3 L729.1,358.3 L735.1,358.3 L736.6,358.3 L738.1,358.3 L739.6,358.3 L741.1,358.3 L742.6,358.3 L744.1,358.2 L745.6,358.2 L747.1,358.2 L748.6,358.2 L750.1,358.2 L751.6,358.1 L753.1,358.1 L754.6,358.0 L756.1,358.0 L757.6,357.9 L759.1,357.8 L760.6,357.7 L762.1,357.6 L763.6,357.4 L765.1,357.2 L766.6,357.0 L768.1,356.8 L769.6,356.5 L771.1,356.1 L772.6,355.8 L774.1,355.3 L775.6,354.8 L777.1,354.2 L778.6,353.5 L780.1,352.7 L781.6,351.8 L783.1,350.8 L784.6,349.6 L786.1,348.3 L787.6,346.8 L789.1,345.2 L790.6,343.4 L792.1,341.4 L793.6,339.1 L795.1,336.7 L796.6,333.9 L798.1,331.0 L799.6,327.7 L801.1,324.2 L802.6,320.4 L804.1,316.3 L805.6,312.0 L807.1,307.3 L808.6,302.3 L810.1,297.0 L811.6,291.4 L813.1,285.5 L814.6,279.4 L816.1,273.0 L817.6,266.4 L819.1,259.6 L820.6,252.6 L822.1,245.4 L823.6,238.1 L825.1,230.8 L826.6,223.4 L828.1,216.0 L829.6,208.7 L831.1,201.5 L832.6,194.5 L834.1,187.6 L835.6,181.1 L837.1,174.8 L838.6,168.9 L840.1,163.4 L841.6,158.4 L843.1,153.9 L844.6,149.9 L846.1,146.5 L847.6,143.8 L849.1,141.6 L850.6,140.1 L852.1,139.3 L853.6,139.1 L855.1,139.6 L856.6,140.8 L858.1,142.7 L859.6,145.2 L861.1,148.3 L862.6,152.0 L864.1,156.3 L865.6,161.0 L867.1,166.3 L868.6,172.0 L870.1,178.1 L871.6,184.5 L873.1,191.2 L874.6,198.2 L876.1,205.3 L877.6,212.6 L879.1,219.9 L880.6,227.3 L882.1,234.7 L883.6,242.0 L885.1,249.2 L886.6,256.3 L888.1,263.2 L889.6,270.0 L891.1,276.5 L892.6,282.7 L894.1,288.7 L895.6,294.4 L897.1,299.9 L898.6,305.0 L900.1,309.8 L901.6,314.3 L903.1,318.6 L904.6,322.5 L906.1,326.1 L907.6,329.5 L909.1,332.6 L910.6,335.4 L912.1,338.0 L913.6,340.3 L915.1,342.5 L916.6,344.4 L918.1,346.1 L919.6,347.6 L921.1,349.0 L922.6,350.2 L924.1,351.3 L925.6,352.3 L927.1,353.1 L928.6,353.9 L930.1,354.5 L931.6,355.1 L933.1,355.6 L934.6,356.0 L936.1,356.3 L937.6,356.6 L939.1,356.9 L940.6,357.1 L942.1,357.3 L943.6,357.5 L945.1,357.6 L946.6,357.7 L948.1,357.8 L949.6,357.9 L951.1,358.0 L952.6,358.1 L954.1,358.1 L955.6,358.1 L957.1,358.2 L958.6,358.2 L960.1,358.2 L961.6,358.2 L963.1,358.2 L964.6,358.3 L966.1,358.3 L967.6,358.3 L969.1,358.3 L970.6,358.3 L972.1,358.3 L973.6,358.3 L975.1,358.3 L981.1,358.3 L987.1,358.3 L993.1,358.3 L999.1,358.3 L1005.1,358.3 L1011.1,358.3 L1017.1,358.3" stroke="#0000ff" stroke-width="6.25"/>
<path d="M591.1,358.3 L597.1,358.3 L603.1,358.3 L609.1,358.3 L615.1,358.3 L621.1,358.3 L627.1,358.3 L633.1,358.3 L639.1,358.3 L645.1,358.3 L651.1,358.3 L657.1,358.3 L663.1,358.3 L669.1,358.3 L675.1,358.3 L681.1,358.3 L687.1,358.3 L693.1,358.3 L699.1,358.3 L700.6,358.3 L702.1,358.3 L703.6,358.3 L705.1,358.3 L706.6,358.3 L708.1,358.2 L709.6,358.2 L711.1,358.2 L712.6,358.2 L714.1,358.2 L715.6,358.1 L717.1,358.1 L718.6,358.1 L720.1,358.0 L721.6,357.9 L723.1,357.9 L724.6,357.8 L726.1,357.7 L727.6,357.5 L729.1,357.4 L730.6,357.2 L732.1,357.0 L733.6,356.7 L735.1,356.4 L736.6,356.1 L738.1,355.7 L739.6,355.2 L741.1,354.7 L742.6,354.0 L744.1,353.3 L745.6,352.5 L747.1,351.6 L748.6,350.5 L750.1,349.4 L751.6,348.0 L753.1,346.5 L754.6,344.9 L756.1,343.0 L757.6,340.9 L759.1,338.6 L760.6,336.1 L762.1,333.4 L763.6,330.4 L765.1,327.1 L766.6,323.5 L768.1,319.6 L769.6,315.5 L771.1,311.0 L772.6,306.3 L774.1,301.2 L775.6,295.9 L777.1,290.3 L778.6,284.3 L780.1,278.2 L781.6,271.7 L783.1,265.0 L784.6,258.2 L786.1,251.1 L787.6,243.9 L789.1,236.6 L790.6,229.3 L792.1,221.9 L793.6,214.5 L795.1,207.2 L796.6,200.1 L798.1,193.1 L799.6,186.3 L801.1,179.8 L802.6,173.6 L804.1,167.8 L805.6,162.4 L807.1,157.5 L808.6,153.1 L810.1,149.2 L811.6,145.9 L813.1,143.3 L814.6,141.3 L816.1,139.9 L817.6,139.2 L819.1,139.2 L820.6,139.8 L822.1,141.1 L823.6,143.1 L825.1,145.7 L826.6,149.0 L828.1,152.8 L829.6,157.2 L831.1,162.1 L832.6,167.4 L834.1,173.2 L835.6,179.4 L837.1,185.8 L838.6,192.6 L840.1,199.6 L841.6,206.8 L843.1,214.1 L844.6,221.4 L846.1,228.8 L847.6,236.2 L849.1,243.5 L850.6,250.7 L852.1,257.7 L853.6,264.6 L855.1,271.3 L856.6,277.7 L858.1,283.9 L859.6,289.9 L861.1,295.5 L862.6,300.9 L864.1,306.0 L865.6,310.7 L867.1,315.2 L868.6,319.4 L870.1,323.3 L871.6,326.8 L873.1,330.1 L874.6,333.2 L876.1,336.0 L877.6,338.5 L879.1,340.8 L880.6,342.9 L882.1,344.7 L883.6,346.4 L885.1,347.9 L886.6,349.3 L888.1,350.5 L889.6,351.5 L891.1,352.5 L892.6,353.3 L894.1,354.0 L895.6,354.6 L897.1,355.2 L898.6,355.6 L900.1,356.0 L901.6,356.4 L903.1,356.7 L904.6,357.0 L906.1,357.2 L907.6,357.4 L909.1,357.5 L910.6,357.7 L912.1,357.8 L913.6,357.9 L915.1,357.9 L916.6,358.0 L918.1,358.1 L919.6,358.1 L921.1,358.1 L922.6,358.2 L924.1,358.2 L925.6,358.2 L927.1,358.2 L928.6,358.2 L930.1,358.3 L931.6,358.3 L933.1,358.3 L934.6,358.3 L936.1,358.3 L937.6,358.3 L939.1,358.3 L940.6,358.3 L946.6,358.3 L952.6,358.3 L958.6,358.3 L964.6,358.3 L970.6,358.3 L976.6,358.3 L982.6,358.3 L988.6,358.3 L994.6,358.3 L1000.6,358.3 L1006.6,358.3 L1012.6,358.3 L1018.6,358.3" stroke="#00ffff" stroke-width="6.25"/>
<path d="M591.1,358.3 L597.1,358.3 L603.1,358.3 L609.1,358.3 L615.1,358.3 L621.1,358.3 L627.1,358.3 L633.1,358.3 L639.1,358.3 L645.1,358.3 L651.1,358.3 L657.1,358.3 L663.1,358.3 L669.1,358.3 L675.1,358.3 L676.6,358.3 L678.1,358.3 L679.6,358.3 L681.1,358.3 L682.6,358.2 L684.1,358.2 L685.6,358.2 L687.1,358.2 L688.6,358.2 L690.1,358.1 L691.6,358.1 L693.1,358.0 L694.6,358.0 L696.1,357.9 L697.6,357.8 L699.1,357.7 L700.6,357.6 L702.1,357.5 L703.6,357.3 L705.1,357.1 L706.6,356.9 L708.1,356.6 L709.6,356.3 L711.1,355.9 L712.6,355.5 L714.1,355.0 L715.6,354.5 L717.1,353.8 L718.6,353.1 L720.1,352.2 L721.6,351.3 L723.1,350.2 L724.6,348.9 L726.1,347.5 L727.6,346.0 L729.1,344.3 L730.6,342.3 L732.1,340.2 L733.6,337.8 L735.1,335.2 L736.6,332.4 L738.1,329.3 L739.6,325.9 L741.1,322.2 L742.6,318.3 L744.1,314.0 L745.6,309.5 L747.1,304.6 L748.6,299.5 L750.1,294.1 L751.6,288.3 L753.1,282.3 L754.6,276.0 L756.1,269.5 L757.6,262.8 L759.1,255.8 L760.6,248.7 L762.1,241.5 L763.6,234.2 L765.1,226.8 L766.6,219.4 L768.1,212.1 L769.6,204.8 L771.1,197.7 L772.6,190.8 L774.1,184.1 L775.6,177.7 L777.1,171.6 L778.6,165.9 L780.1,160.7 L781.6,156.0 L783.1,151.7 L784.6,148.1 L786.1,145.0 L787.6,142.5 L789.1,140.7 L790.6,139.6 L792.1,139.1 L793.6,139.3 L795.1,140.2 L796.6,141.7 L798.1,143.9 L799.6,146.8 L801.1,150.2 L802.6,154.2 L804.1,158.7 L805.6,163.8 L807.1,169.3 L808.6,175.2 L810.1,181.5 L811.6,188.1 L813.1,194.9 L814.6,202.0 L816.1,209.2 L817.6,216.5 L819.1,223.9 L820.6,231.3 L822.1,238.6 L823.6,245.9 L825.1,253.0 L826.6,260.0 L828.1,266.8 L829.6,273.5 L831.1,279.8 L832.6,285.9 L834.1,291.8 L835.6,297.4 L837.1,302.6 L838.6,307.6 L840.1,312.3 L841.6,316.6 L843.1,320.7 L844.6,324.5 L846.1,328.0 L847.6,331.2 L849.1,334.1 L850.6,336.8 L852.1,339.3 L853.6,341.5 L855.1,343.5 L856.6,345.3 L858.1,346.9 L859.6,348.4 L861.1,349.7 L862.6,350.8 L864.1,351.9 L865.6,352.7 L867.1,353.5 L868.6,354.2 L870.1,354.8 L871.6,355.3 L873.1,355.8 L874.6,356.2 L876.1,356.5 L877.6,356.8 L879.1,357.0 L880.6,357.2 L882.1,357.4 L883.6,357.6 L885.1,357.7 L886.6,357.8 L888.1,357.9 L889.6,358.0 L891.1,358.0 L892.6,358.1 L894.1,358.1 L895.6,358.2 L897.1,358.2 L898.6,358.2 L900.1,358.2 L901.6,358.2 L903.1,358.3 L904.6,358.3 L906.1,358.3 L907.6,358.3 L909.1,358.3 L910.6,358.3 L912.1,358.3 L913.6,358.3 L915.1,358.3 L921.1,358.3 L927.1,358.3 L933.1,358.3 L939.1,358.3 L945.1,358.3 L951.1,358.3 L957.1,358.3 L963.1,358.3 L969.1,358.3 L975.1,358.3 L981.1,358.3 L987.1,358.3 L993.1,358.3 L999.1,358.3 L1005.1,358.3 L1011.1,358.3 L1017.1,358.3" stroke="#008000" stroke-width="6.25"/>
<path d="M591.1,358.3 L597.1,358.3 L603.1,358.3 L609.1,358.3 L615.1,358.3 L621.1,358.3 L627.1,358.3 L633.1,358.3 L639.1,358.3 L645.1,358.3 L651.1,358.3 L657.1,358.3 L658.6,358.3 L660.1,358.3 L661.6,358.3 L663.1,358.3 L664.6,358.2 L666.1,358.2 L667.6,358.2 L669.1,358.2 L670.6,358.2 L672.1,358.1 L673.6,358.1 L675.1,358.0 L676.6,358.0 L678.1,357.9 L679.6,357.8 L681.1,357.7 L682.6,357.6 L684.1,357.4 L685.6,357.2 L687.1,357.0 L688.6,356.8 L690.1,356.5 L691.6,356.1 L693.1,355.8 L694.6,355.3 L696.1,354.8 L697.6,354.2 L699.1,353.5 L700.6,352.7 L702.1,351.8 L703.6,350.8 L705.1,349.6 L706.6,348.3 L708.1,346.8 L709.6,345.2 L711.1,343.4 L712.6,341.4 L714.1,339.1 L715.6,336.7 L717.1,333.9 L718.6,331.0 L720.1,327.7 L721.6,324.2 L723.1,320.4 L724.6,316.3 L726.1,312.0 L727.6,307.3 L729.1,302.3 L730.6,297.0 L732.1,291.4 L733.6,285.5 L735.1,279.4 L736.6,273.0 L738.1,266.4 L739.6,259.6 L741.1,252.6 L742.6,245.4 L744.1,238.1 L745.6,230.8 L747.1,223.4 L748.6,216.0 L750.1,208.7 L751.6,201.5 L753.1,194.5 L754.6,187.6 L756.1,181.1 L757.6,174.8 L759.1,168.9 L760.6,163.4 L762.1,158.4 L763.6,153.9 L765.1,149.9 L766.6,146.5 L768.1,143.8 L769.6,141.6 L771.1,140.1 L772.6,139.3 L774.1,139.1 L775.6,139.6 L777.1,140.8 L778.6,142.7 L780.1,145.2 L781.6,148.3 L783.1,152.0 L784.6,156.3 L786.1,161.0 L787.6,166.3 L789.1,172.0 L790.6,178.1 L792.1,184.5 L793.6,191.2 L795.1,198.2 L796.6,205.3 L798.1,212.6 L799.6,219.9 L801.1,227.3 L802.6,234.7 L804.1,242.0 L805.6,249.2 L807.1,256.3 L808.6,263.2 L810.1,270.0 L811.6,276.5 L813.1,282.7 L814.6,288.7 L816.1,294.4 L817.6,299.9 L819.1,305.0 L820.6,309.8 L822.1,314.3 L823.6,318.6 L825.1,322.5 L826.6,326.1 L828.1,329.5 L829.6,332.6 L831.1,335.4 L832.6,338.0 L834.1,340.3 L835.6,342.5 L837.1,344.4 L838.6,346.1 L840.1,347.6 L841.6,349.0 L843.1,350.2 L844.6,351.3 L846.1,352.3 L847.6,353.1 L849.1,353.9 L850.6,354.5 L852.1,355.1 L853.6,355.6 L855.1,356.0 L856.6,356.3 L858.1,356.6 L859.6,356.9 L861.1,357.1 L862.6,357.3 L864.1,357.5 L865.6,357.6 L867.1,357.7 L868.6,357.8 L870.1,357.9 L871.6,358.0 L873.1,358.1 L874.6,358.1 L876.1,358.1 L877.6,358.2 L879.1,358.2 L880.6,358.2 L882.1,358.2 L883.6,358.2 L885.1,358.3 L886.6,358.3 L888.1,358.3 L889.6,358.3 L891.1,358.3 L892.6,358.3 L894.1,358.3 L895.6,358.3 L901.6,358.3 L907.6,358.3 L913.6,358.3 L919.6,358.3 L925.6,358.3 L931.6,358.3 L937.6,358.3 L943.6,358.3 L949.6,358.3 L955.6,358.3 L961.6,358.3 L967.6,358.3 L973.6,358.3 L979.6,358.3 L985.6,358.3 L991.6,358.3 L997.6,358.3 L1003.6,358.3 L1009.6,358.3 L1015.6,358.3" stroke="#ffff00" stroke-width="6.25"/>
<path d="M591.1,358.3 L597.1,358.3 L603.1,358.3 L609.1,358.3 L615.1,358.3 L621.1,358.3 L627.1,358.3 L633.1,358.3 L639.1,358.3 L640.6,358.3 L642.1,358.3 L643.6,358.3 L645.1,358.3 L646.6,358.2 L648.1,358.2 L649.6,358.2 L651.1,358.2 L652.6,358.2 L654.1,358.1 L655.6,358.1 L657.1,358.1 L658.6,358.0 L660.1,357.9 L661.6,357.9 L663.1,357.8 L664.6,357.6 L666.1,357.5 L667.6,357.3 L669.1,357.2 L670.6,356.9 L672.1,356.7 L673.6,356.4 L675.1,356.0 L676.6,355.6 L678.1,355.1 L679.6,354.5 L681.1,353.9 L682.6,353.2 L684.1,352.3 L685.6,351.4 L687.1,350.3 L688.6,349.1 L690.1,347.7 L691.6,346.2 L693.1,344.5 L694.6,342.6 L696.1,340.5 L697.6,338.2 L699.1,335.6 L700.6,332.8 L702.1,329.7 L703.6,326.4 L705.1,322.8 L706.6,318.8 L708.1,314.6 L709.6,310.1 L711.1,305.3 L712.6,300.2 L714.1,294.8 L715.6,289.1 L717.1,283.1 L718.6,276.9 L720.1,270.4 L721.6,263.7 L723.1,256.8 L724.6,249.7 L726.1,242.5 L727.6,235.2 L729.1,227.8 L730.6,220.4 L732.1,213.1 L733.6,205.8 L735.1,198.7 L736.6,191.7 L738.1,185.0 L739.6,178.5 L741.1,172.4 L742.6,166.7 L744.1,161.4 L745.6,156.6 L747.1,152.3 L748.6,148.5 L750.1,145.4 L751.6,142.8 L753.1,140.9 L754.6,139.7 L756.1,139.1 L757.6,139.3 L759.1,140.0 L760.6,141.5 L762.1,143.6 L763.6,146.3 L765.1,149.7 L766.6,153.6 L768.1,158.1 L769.6,163.1 L771.1,168.5 L772.6,174.4 L774.1,180.6 L775.6,187.2 L777.1,194.0 L778.6,201.0 L780.1,208.2 L781.6,215.5 L783.1,222.9 L784.6,230.3 L786.1,237.6 L787.6,244.9 L789.1,252.1 L790.6,259.1 L792.1,265.9 L793.6,272.6 L795.1,279.0 L796.6,285.1 L798.1,291.0 L799.6,296.6 L801.1,301.9 L802.6,306.9 L804.1,311.7 L805.6,316.1 L807.1,320.2 L808.6,324.0 L810.1,327.5 L811.6,330.8 L813.1,333.8 L814.6,336.5 L816.1,339.0 L817.6,341.2 L819.1,343.3 L820.6,345.1 L822.1,346.7 L823.6,348.2 L825.1,349.5 L826.6,350.7 L828.1,351.7 L829.6,352.6 L831.1,353.4 L832.6,354.1 L834.1,354.7 L835.6,355.3 L837.1,355.7 L838.6,356.1 L840.1,356.5 L841.6,356.8 L843.1,357.0 L844.6,357.2 L846.1,357.4 L847.6,357.6 L849.1,357.7 L850.6,357.8 L852.1,357.9 L853.6,358.0 L855.1,358.0 L856.6,358.1 L858.1,358.1 L859.6,358.1 L861.1,358.2 L862.6,358.2 L864.1,358.2 L865.6,358.2 L867.1,358.2 L868.6,358.3 L870.1,358.3 L871.6,358.3 L873.1,358.3 L874.6,358.3 L876.1,358.3 L877.6,358.3 L879.1,358.3 L885.1,358.3 L891.1,358.3 L897.1,358.3 L903.1,358.3 L909.1,358.3 L915.1,358.3 L921.1,358.3 L927.1,358.3 L933.1,358.3 L939.1,358.3 L945.1,358.3 L951.1,358.3 L957.1,358.3 L963.1,358.3 L969.1,358.3 L975.1,358.3 L981.1,358.3 L987.1,358.3 L993.1,358.3 L999.1,358.3 L1005.1,358.3 L1011.1,358.3 L1017.1,358.3" stroke="#ffa500" stroke-width="6.25"/>
<path d="M591.1,358.3 L597.1,358.3 L603.1,358.3 L609.1,358.3 L615.1,358.3 L621.1,358.3 L622.6,358.3 L624.1,358.3 L625.6,358.3 L627.1,358.2 L628.6,358.2 L630.1,358.2 L631.6,358.2 L633.1,358.2 L634.6,358.1 L636.1,358.1 L637.6,358.0 L639.1,358.0 L640.6,357.9 L642.1,357.8 L643.6,357.7 L645.1,357.6 L646.6,357.5 L648.1,357.3 L649.6,357.1 L651.1,356.9 L652.6,356.6 L654.1,356.3 L655.6,355.9 L657.1,355.5 L658.6,355.0 L660.1,354.5 L661.6,353.8 L663.1,353.1 L664.6,352.2 L666.1,351.3 L667.6,350.2 L669.1,348.9 L670.6,347.5 L672.1,346.0 L673.6,344.3 L675.1,342.3 L676.6,340.2 L678.1,337.8 L679.6,335.2 L681.1,332.4 L682.6,329.3 L684.1,325.9 L685.6,322.2 L687.1,318.3 L688.6,314.0 L690.1,309.5 L691.6,304.6 L693.1,299.5 L694.6,294.1 L696.1,288.3 L697.6,282.3 L699.1,276.0 L700.6,269.5 L702.1,262.8 L703.6,255.8 L705.1,248.7 L706.6,241.5 L708.1,234.2 L709.6,226.8 L711.1,219.4 L712.6,212.1 L714.1,204.8 L715.6,197.7 L717.1,190.8 L718.6,184.1 L720.1,177.7 L721.6,171.6 L723.1,165.9 L724.6,160.7 L726.1,156.0 L727.6,151.7 L729.1,148.1 L730.6,145.0 L732.1,142.5 L733.6,140.7 L735.1,139.6 L736.6,139.1 L738.1,139.3 L739.6,140.2 L741.1,141.7 L742.6,143.9 L744.1,146.8 L745.6,150.2 L747.1,154.2 L748.6,158.7 L750.1,163.8 L751.6,169.3 L753.1,175.2 L754.6,181.5 L756.1,188.1 L757.6,194.9 L759.1,202.0 L760.6,209.2 L762.1,216.5 L763.6,223.9 L765.1,231.3 L766.6,238.6 L768.1,245.9 L769.6,253.0 L771.1,260.0 L772.6,266.8 L774.1,273.5 L775.6,279.8 L777.1,285.9 L778.6,291.8 L780.1,297.4 L781.6,302.6 L783.1,307.6 L784.6,312.3 L786.1,316.6 L787.6,320.7 L789.1,324.5 L790.6,328.0 L792.1,331.2 L793.6,334.1 L795.1,336.8 L796.6,339.3 L798.1,341.5 L799.6,343.5 L801.1,345.3 L802.6,346.9 L804.1,348.4 L805.6,349.7 L807.1,350.8 L808.6,351.9 L810.1,352.7 L811.6,353.5 L813.1,354.2 L814.6,354.8 L816.1,355.3 L817.6,355.8 L819.1,356.2 L820.6,356.5 L822.1,356.8 L823.6,357.0 L825.1,357.2 L826.6,357.4 L828.1,357.6 L829.6,357.7 L831.1,357.8 L832.6,357.9 L834.1,358.0 L835.6,358.0 L837.1,358.1 L838.6,358.1 L840.1,358.2 L841.6,358.2 L843.1,358.2 L844.6,358.2 L846.1,358.2 L847.6,358.3 L849.1,358.3 L850.6,358.3 L852.1,358.3 L853.6,358.3 L855.1,358.3 L856.6,358.3 L858.1,358.3 L859.6,358.3 L865.6,358.3 L871.6,358.3 L877.6,358.3 L883.6,358.3 L889.6,358.3 L895.6,358.3 L901.6,358.3 L907.6,358.3 L913.6,358.3 L919.6,358.3 L925.6,358.3 L931.6,358.3 L937.6,358.3 L943.6,358.3 L949.6,358.3 L955.6,358.3 L961.6,358.3 L967.6,358.3 L973.6,358.3 L979.6,358.3 L985.6,358.3 L991.6,358.3 L997.6,358.3 L1003.6,358.3 L1009.6,358.3 L1015.6,358.3" stroke="#ff0000" stroke-width="6.25"/>
</g>
<rect x="595.1" y="59.3" width="421.40" height="316.00" stroke="#000" stroke-width="4.17" fill="none"/>
<text transform="translate(624.08,408.10) scale(1.1590,1)" font-size="34.92" style="">−</text><text transform="translate(651.80,406.47) scale(0.9928,1)" font-size="33.74" style="stroke:#000;stroke-width:1.10px;stroke-linejoin:round;">1</text>
<text transform="translate(847.39,406.87) scale(1.1549,1)" font-size="34.67" style="stroke:#000;stroke-width:0.60px;stroke-linejoin:round;">0</text>
<text transform="translate(564.68,370.56) scale(1.1549,1)" font-size="34.67" style="stroke:#000;stroke-width:0.60px;stroke-linejoin:round;">0</text>
<text transform="translate(567.23,231.11) scale(1.0154,1)" font-size="34.74" style="stroke:#000;stroke-width:0.40px;stroke-linejoin:round;">2</text>
<text transform="translate(565.74,91.46) scale(1.0372,1)" font-size="34.03" style="stroke:#000;stroke-width:0.90px;stroke-linejoin:round;">4</text>
<path d="M246.80,755.6 v-16 M246.80,439.2 v16 M457.50,755.6 v-16 M457.50,439.2 v16 M88.8,724.60 h16 M510.2,724.60 h-16 M88.8,600.50 h16 M510.2,600.50 h-16 M88.8,476.40 h16 M510.2,476.40 h-16" stroke="#000" stroke-width="4.17" fill="none"/>
<g clip-path="url(#clipc)" fill="none" stroke-linejoin="round">
<path d="M84.8,724.2 L86.3,724.1 L87.8,724.1 L89.3,724.1 L90.8,724.0 L92.3,724.0 L93.8,723.9 L95.3,723.8 L96.8,723.8 L98.3,723.7 L99.8,723.6 L101.3,723.5 L102.8,723.4 L104.3,723.3 L105.8,723.2 L107.3,723.1 L108.8,723.0 L110.3,722.9 L111.8,722.7 L113.3,722.6 L114.8,722.4 L116.3,722.3 L117.8,722.1 L119.3,721.9 L120.8,721.7 L122.3,721.4 L123.8,721.2 L125.3,721.0 L126.8,720.7 L128.3,720.4 L129.8,720.1 L131.3,719.8 L132.8,719.4 L134.3,719.1 L135.8,718.7 L137.3,718.3 L138.8,717.8 L140.3,717.4 L141.8,716.9 L143.3,716.4 L144.8,715.8 L146.3,715.2 L147.8,714.6 L149.3,714.0 L150.8,713.3 L152.3,712.6 L153.8,711.9 L155.3,711.1 L156.8,710.3 L158.3,709.5 L159.8,708.6 L161.3,707.7 L162.8,706.7 L164.3,705.7 L165.8,704.6 L167.3,703.5 L168.8,702.4 L170.3,701.2 L171.8,700.0 L173.3,698.7 L174.8,697.3 L176.3,695.9 L177.8,694.5 L179.3,693.0 L180.8,691.5 L182.3,689.9 L183.8,688.2 L185.3,686.5 L186.8,684.8 L188.3,683.0 L189.8,681.1 L191.3,679.2 L192.8,677.2 L194.3,675.2 L195.8,673.1 L197.3,671.0 L198.8,668.8 L200.3,666.6 L201.8,664.3 L203.3,662.0 L204.8,659.6 L206.3,657.2 L207.8,654.8 L209.3,652.3 L210.8,649.7 L212.3,647.2 L213.8,644.6 L215.3,641.9 L216.8,639.2 L218.3,636.5 L219.8,633.8 L221.3,631.1 L222.8,628.3 L224.3,625.5 L225.8,622.7 L227.3,619.9 L228.8,617.1 L230.3,614.3 L231.8,611.5 L233.3,608.7 L234.8,605.8 L236.3,603.1 L237.8,600.3 L239.3,597.5 L240.8,594.8 L242.3,592.1 L243.8,589.5 L245.3,586.8 L246.8,584.2 L248.3,581.7 L249.8,579.2 L251.3,576.8 L252.8,574.4 L254.3,572.1 L255.8,569.9 L257.3,567.7 L258.8,565.6 L260.3,563.6 L261.8,561.6 L263.3,559.8 L264.8,558.0 L266.3,556.3 L267.8,554.8 L269.3,553.3 L270.8,551.9 L272.3,550.6 L273.8,549.5 L275.3,548.4 L276.8,547.5 L278.3,546.7 L279.8,545.9 L281.3,545.3 L282.8,544.9 L284.3,544.5 L285.8,544.2 L287.3,544.1 L288.8,544.1 L290.3,544.2 L291.8,544.5 L293.3,544.8 L294.8,545.3 L296.3,545.9 L297.8,546.6 L299.3,547.4 L300.8,548.3 L302.3,549.3 L303.8,550.5 L305.3,551.7 L306.8,553.1 L308.3,554.6 L309.8,556.1 L311.3,557.8 L312.8,559.5 L314.3,561.4 L315.8,563.3 L317.3,565.3 L318.8,567.4 L320.3,569.6 L321.8,571.8 L323.3,574.1 L324.8,576.5 L326.3,578.9 L327.8,581.4 L329.3,583.9 L330.8,586.5 L332.3,589.1 L333.8,591.8 L335.3,594.4 L336.8,597.2 L338.3,599.9 L339.8,602.7 L341.3,605.5 L342.8,608.3 L344.3,611.1 L345.8,613.9 L347.3,616.7 L348.8,619.5 L350.3,622.3 L351.8,625.1 L353.3,627.9 L354.8,630.7 L356.3,633.5 L357.8,636.2 L359.3,638.9 L360.8,641.6 L362.3,644.2 L363.8,646.8 L365.3,649.4 L366.8,651.9 L368.3,654.4 L369.8,656.9 L371.3,659.3 L372.8,661.7 L374.3,664.0 L375.8,666.3 L377.3,668.5 L378.8,670.7 L380.3,672.8 L381.8,674.9 L383.3,676.9 L384.8,678.9 L386.3,680.8 L387.8,682.7 L389.3,684.5 L390.8,686.3 L392.3,688.0 L393.8,689.7 L395.3,691.3 L396.8,692.8 L398.3,694.3 L399.8,695.8 L401.3,697.2 L402.8,698.5 L404.3,699.8 L405.8,701.0 L407.3,702.2 L408.8,703.4 L410.3,704.5 L411.8,705.6 L413.3,706.6 L414.8,707.6 L416.3,708.5 L417.8,709.4 L419.3,710.2 L420.8,711.0 L422.3,711.8 L423.8,712.6 L425.3,713.3 L426.8,713.9 L428.3,714.6 L429.8,715.2 L431.3,715.7 L432.8,716.3 L434.3,716.8 L435.8,717.3 L437.3,717.8 L438.8,718.2 L440.3,718.6 L441.8,719.0 L443.3,719.4 L444.8,719.7 L446.3,720.0 L447.8,720.4 L449.3,720.6 L450.8,720.9 L452.3,721.2 L453.8,721.4 L455.3,721.6 L456.8,721.9 L458.3,722.0 L459.8,722.2 L461.3,722.4 L462.8,722.6 L464.3,722.7 L465.8,722.9 L467.3,723.0 L468.8,723.1 L470.3,723.2 L471.8,723.3 L473.3,723.4 L474.8,723.5 L476.3,723.6 L477.8,723.7 L479.3,723.8 L480.8,723.8 L482.3,723.9 L483.8,724.0 L485.3,724.0 L486.8,724.1 L488.3,724.1 L489.8,724.1 L491.3,724.2 L492.8,724.2 L494.3,724.3 L495.8,724.3 L497.3,724.3 L498.8,724.3 L500.3,724.4 L501.8,724.4 L503.3,724.4 L504.8,724.4 L506.3,724.4 L507.8,724.5 L509.3,724.5 L510.8,724.5 L512.3,724.5 L513.8,724.5" stroke="#800080" stroke-width="2.2"/>
<g fill="#800080" stroke="none"><circle cx="85.8" cy="724.2" r="5.5"/><circle cx="90.4" cy="724.0" r="5.5"/><circle cx="95.0" cy="723.9" r="5.5"/><circle cx="99.6" cy="723.6" r="5.5"/><circle cx="104.2" cy="723.4" r="5.5"/><circle cx="108.8" cy="723.0" r="5.5"/><circle cx="113.4" cy="722.6" r="5.5"/><circle cx="118.0" cy="722.0" r="5.5"/><circle cx="122.6" cy="721.4" r="5.5"/><circle cx="127.2" cy="720.6" r="5.5"/><circle cx="131.8" cy="719.6" r="5.5"/><circle cx="136.4" cy="718.5" r="5.5"/><circle cx="141.0" cy="717.1" r="5.5"/><circle cx="145.6" cy="715.5" r="5.5"/><circle cx="150.2" cy="713.6" r="5.5"/><circle cx="154.8" cy="711.4" r="5.5"/><circle cx="159.4" cy="708.8" r="5.5"/><circle cx="164.0" cy="705.9" r="5.5"/><circle cx="168.6" cy="702.6" r="5.5"/><circle cx="173.2" cy="698.8" r="5.5"/><circle cx="177.8" cy="694.5" r="5.5"/><circle cx="182.4" cy="689.8" r="5.5"/><circle cx="187.0" cy="684.5" r="5.5"/><circle cx="191.6" cy="678.8" r="5.5"/><circle cx="196.2" cy="672.6" r="5.5"/><circle cx="200.8" cy="665.8" r="5.5"/><circle cx="205.4" cy="658.7" r="5.5"/><circle cx="210.0" cy="651.1" r="5.5"/><circle cx="214.6" cy="643.2" r="5.5"/><circle cx="219.2" cy="634.9" r="5.5"/><circle cx="223.8" cy="626.4" r="5.5"/><circle cx="228.4" cy="617.8" r="5.5"/><circle cx="233.0" cy="609.2" r="5.5"/><circle cx="237.6" cy="600.7" r="5.5"/><circle cx="242.2" cy="592.3" r="5.5"/><circle cx="246.8" cy="584.2" r="5.5"/><circle cx="251.4" cy="576.6" r="5.5"/><circle cx="256.0" cy="569.6" r="5.5"/><circle cx="260.6" cy="563.2" r="5.5"/><circle cx="265.2" cy="557.6" r="5.5"/><circle cx="269.8" cy="552.8" r="5.5"/><circle cx="274.4" cy="549.1" r="5.5"/><circle cx="279.0" cy="546.3" r="5.5"/><circle cx="283.6" cy="544.6" r="5.5"/><circle cx="288.2" cy="544.1" r="5.5"/><circle cx="292.8" cy="544.7" r="5.5"/><circle cx="297.4" cy="546.4" r="5.5"/><circle cx="302.0" cy="549.1" r="5.5"/><circle cx="306.6" cy="552.9" r="5.5"/><circle cx="311.2" cy="557.7" r="5.5"/><circle cx="315.8" cy="563.3" r="5.5"/><circle cx="320.4" cy="569.7" r="5.5"/><circle cx="325.0" cy="576.8" r="5.5"/><circle cx="329.6" cy="584.4" r="5.5"/><circle cx="334.2" cy="592.5" r="5.5"/><circle cx="338.8" cy="600.8" r="5.5"/><circle cx="343.4" cy="609.4" r="5.5"/><circle cx="348.0" cy="618.0" r="5.5"/><circle cx="352.6" cy="626.6" r="5.5"/><circle cx="357.2" cy="635.1" r="5.5"/><circle cx="361.8" cy="643.3" r="5.5"/><circle cx="366.4" cy="651.3" r="5.5"/><circle cx="371.0" cy="658.8" r="5.5"/><circle cx="375.6" cy="666.0" r="5.5"/><circle cx="380.2" cy="672.7" r="5.5"/><circle cx="384.8" cy="678.9" r="5.5"/><circle cx="389.4" cy="684.6" r="5.5"/><circle cx="394.0" cy="689.9" r="5.5"/><circle cx="398.6" cy="694.6" r="5.5"/><circle cx="403.2" cy="698.8" r="5.5"/><circle cx="407.8" cy="702.6" r="5.5"/><circle cx="412.4" cy="706.0" r="5.5"/><circle cx="417.0" cy="708.9" r="5.5"/><circle cx="421.6" cy="711.5" r="5.5"/><circle cx="426.2" cy="713.7" r="5.5"/><circle cx="430.8" cy="715.6" r="5.5"/><circle cx="435.4" cy="717.2" r="5.5"/><circle cx="440.0" cy="718.5" r="5.5"/><circle cx="444.6" cy="719.7" r="5.5"/><circle cx="449.2" cy="720.6" r="5.5"/><circle cx="453.8" cy="721.4" r="5.5"/><circle cx="458.4" cy="722.1" r="5.5"/><circle cx="463.0" cy="722.6" r="5.5"/><circle cx="467.6" cy="723.0" r="5.5"/><circle cx="472.2" cy="723.4" r="5.5"/><circle cx="476.8" cy="723.6" r="5.5"/><circle cx="481.4" cy="723.9" r="5.5"/><circle cx="486.0" cy="724.0" r="5.5"/><circle cx="490.6" cy="724.2" r="5.5"/><circle cx="495.2" cy="724.3" r="5.5"/><circle cx="499.8" cy="724.4" r="5.5"/><circle cx="504.4" cy="724.4" r="5.5"/><circle cx="509.0" cy="724.5" r="5.5"/><circle cx="513.6" cy="724.5" r="5.5"/></g>
<path d="M84.8,724.2 L86.3,724.2 L87.8,724.2 L89.3,724.1 L90.8,724.1 L92.3,724.0 L93.8,724.0 L95.3,723.9 L96.8,723.9 L98.3,723.8 L99.8,723.7 L101.3,723.6 L102.8,723.6 L104.3,723.5 L105.8,723.4 L107.3,723.3 L108.8,723.2 L110.3,723.0 L111.8,722.9 L113.3,722.8 L114.8,722.6 L116.3,722.5 L117.8,722.3 L119.3,722.1 L120.8,722.0 L122.3,721.8 L123.8,721.5 L125.3,721.3 L126.8,721.1 L128.3,720.8 L129.8,720.5 L131.3,720.2 L132.8,719.9 L134.3,719.6 L135.8,719.2 L137.3,718.9 L138.8,718.5 L140.3,718.0 L141.8,717.6 L143.3,717.1 L144.8,716.6 L146.3,716.1 L147.8,715.6 L149.3,715.0 L150.8,714.4 L152.3,713.7 L153.8,713.1 L155.3,712.4 L156.8,711.6 L158.3,710.8 L159.8,710.0 L161.3,709.2 L162.8,708.3 L164.3,707.4 L165.8,706.4 L167.3,705.4 L168.8,704.3 L170.3,703.2 L171.8,702.1 L173.3,700.9 L174.8,699.6 L176.3,698.3 L177.8,697.0 L179.3,695.6 L180.8,694.2 L182.3,692.7 L183.8,691.2 L185.3,689.6 L186.8,687.9 L188.3,686.2 L189.8,684.5 L191.3,682.7 L192.8,680.9 L194.3,679.0 L195.8,677.0 L197.3,675.0 L198.8,673.0 L200.3,670.8 L201.8,668.7 L203.3,666.5 L204.8,664.3 L206.3,662.0 L207.8,659.6 L209.3,657.2 L210.8,654.8 L212.3,652.4 L213.8,649.9 L215.3,647.3 L216.8,644.7 L218.3,642.1 L219.8,639.5 L221.3,636.8 L222.8,634.2 L224.3,631.5 L225.8,628.7 L227.3,626.0 L228.8,623.2 L230.3,620.5 L231.8,617.7 L233.3,614.9 L234.8,612.2 L236.3,609.4 L237.8,606.7 L239.3,603.9 L240.8,601.2 L242.3,598.5 L243.8,595.8 L245.3,593.2 L246.8,590.5 L248.3,588.0 L249.8,585.4 L251.3,582.9 L252.8,580.5 L254.3,578.1 L255.8,575.8 L257.3,573.5 L258.8,571.3 L260.3,569.1 L261.8,567.1 L263.3,565.1 L264.8,563.2 L266.3,561.3 L267.8,559.6 L269.3,557.9 L270.8,556.4 L272.3,554.9 L273.8,553.6 L275.3,552.3 L276.8,551.1 L278.3,550.1 L279.8,549.1 L281.3,548.3 L282.8,547.6 L284.3,547.0 L285.8,546.5 L287.3,546.1 L288.8,545.8 L290.3,545.7 L291.8,545.6 L293.3,545.7 L294.8,545.9 L296.3,546.2 L297.8,546.7 L299.3,547.2 L300.8,547.9 L302.3,548.6 L303.8,549.5 L305.3,550.5 L306.8,551.6 L308.3,552.8 L309.8,554.1 L311.3,555.5 L312.8,557.0 L314.3,558.6 L315.8,560.3 L317.3,562.1 L318.8,563.9 L320.3,565.9 L321.8,567.9 L323.3,570.0 L324.8,572.2 L326.3,574.4 L327.8,576.7 L329.3,579.0 L330.8,581.5 L332.3,583.9 L333.8,586.4 L335.3,589.0 L336.8,591.6 L338.3,594.2 L339.8,596.9 L341.3,599.6 L342.8,602.3 L344.3,605.0 L345.8,607.8 L347.3,610.5 L348.8,613.3 L350.3,616.1 L351.8,618.8 L353.3,621.6 L354.8,624.3 L356.3,627.1 L357.8,629.8 L359.3,632.5 L360.8,635.2 L362.3,637.9 L363.8,640.6 L365.3,643.2 L366.8,645.8 L368.3,648.3 L369.8,650.9 L371.3,653.3 L372.8,655.8 L374.3,658.2 L375.8,660.6 L377.3,662.9 L378.8,665.2 L380.3,667.4 L381.8,669.6 L383.3,671.7 L384.8,673.8 L386.3,675.8 L387.8,677.8 L389.3,679.7 L390.8,681.6 L392.3,683.4 L393.8,685.2 L395.3,686.9 L396.8,688.6 L398.3,690.2 L399.8,691.8 L401.3,693.3 L402.8,694.8 L404.3,696.2 L405.8,697.5 L407.3,698.9 L408.8,700.1 L410.3,701.4 L411.8,702.5 L413.3,703.7 L414.8,704.7 L416.3,705.8 L417.8,706.8 L419.3,707.7 L420.8,708.7 L422.3,709.5 L423.8,710.4 L425.3,711.2 L426.8,711.9 L428.3,712.6 L429.8,713.3 L431.3,714.0 L432.8,714.6 L434.3,715.2 L435.8,715.8 L437.3,716.3 L438.8,716.8 L440.3,717.3 L441.8,717.8 L443.3,718.2 L444.8,718.6 L446.3,719.0 L447.8,719.4 L449.3,719.7 L450.8,720.0 L452.3,720.3 L453.8,720.6 L455.3,720.9 L456.8,721.2 L458.3,721.4 L459.8,721.6 L461.3,721.8 L462.8,722.0 L464.3,722.2 L465.8,722.4 L467.3,722.6 L468.8,722.7 L470.3,722.8 L471.8,723.0 L473.3,723.1 L474.8,723.2 L476.3,723.3 L477.8,723.4 L479.3,723.5 L480.8,723.6 L482.3,723.7 L483.8,723.7 L485.3,723.8 L486.8,723.9 L488.3,723.9 L489.8,724.0 L491.3,724.0 L492.8,724.1 L494.3,724.1 L495.8,724.2 L497.3,724.2 L498.8,724.2 L500.3,724.3 L501.8,724.3 L503.3,724.3 L504.8,724.4 L506.3,724.4 L507.8,724.4 L509.3,724.4 L510.8,724.4 L512.3,724.4 L513.8,724.5" stroke="#0000ff" stroke-width="2.2"/>
<path fill="#0000ff" stroke="none" d="M83.2,717.5 h13.2 l-6.6,13.2z M93.7,717.1 h13.2 l-6.6,13.2z M104.2,716.4 h13.2 l-6.6,13.2z M114.7,715.3 h13.2 l-6.6,13.2z M125.2,713.5 h13.2 l-6.6,13.2z M135.7,710.8 h13.2 l-6.6,13.2z M146.2,706.9 h13.2 l-6.6,13.2z M156.7,701.4 h13.2 l-6.6,13.2z M167.2,693.9 h13.2 l-6.6,13.2z M177.7,684.0 h13.2 l-6.6,13.2z M188.2,671.7 h13.2 l-6.6,13.2z M198.7,656.9 h13.2 l-6.6,13.2z M209.2,639.9 h13.2 l-6.6,13.2z M219.7,621.2 h13.2 l-6.6,13.2z M230.2,601.9 h13.2 l-6.6,13.2z M240.7,583.1 h13.2 l-6.6,13.2z M251.2,566.1 h13.2 l-6.6,13.2z M261.7,552.4 h13.2 l-6.6,13.2z M272.2,543.2 h13.2 l-6.6,13.2z M282.7,539.2 h13.2 l-6.6,13.2z M293.2,540.8 h13.2 l-6.6,13.2z M303.7,548.0 h13.2 l-6.6,13.2z M314.2,559.9 h13.2 l-6.6,13.2z M324.7,575.7 h13.2 l-6.6,13.2z M335.2,593.9 h13.2 l-6.6,13.2z M345.7,613.1 h13.2 l-6.6,13.2z M356.2,632.2 h13.2 l-6.6,13.2z M366.7,650.0 h13.2 l-6.6,13.2z M377.2,665.8 h13.2 l-6.6,13.2z M387.7,679.2 h13.2 l-6.6,13.2z M398.2,690.0 h13.2 l-6.6,13.2z M408.7,698.5 h13.2 l-6.6,13.2z M419.2,704.8 h13.2 l-6.6,13.2z M429.7,709.4 h13.2 l-6.6,13.2z M440.2,712.5 h13.2 l-6.6,13.2z M450.7,714.6 h13.2 l-6.6,13.2z M461.2,716.0 h13.2 l-6.6,13.2z M471.7,716.8 h13.2 l-6.6,13.2z M482.2,717.4 h13.2 l-6.6,13.2z M492.7,717.7 h13.2 l-6.6,13.2z M503.2,717.8 h13.2 l-6.6,13.2z"/>
<path d="M84.8,724.3 L86.3,724.3 L87.8,724.2 L89.3,724.2 L90.8,724.2 L92.3,724.1 L93.8,724.1 L95.3,724.0 L96.8,724.0 L98.3,723.9 L99.8,723.9 L101.3,723.8 L102.8,723.7 L104.3,723.7 L105.8,723.6 L107.3,723.5 L108.8,723.4 L110.3,723.3 L111.8,723.2 L113.3,723.1 L114.8,723.0 L116.3,722.8 L117.8,722.7 L119.3,722.6 L120.8,722.4 L122.3,722.2 L123.8,722.0 L125.3,721.8 L126.8,721.6 L128.3,721.4 L129.8,721.2 L131.3,720.9 L132.8,720.6 L134.3,720.4 L135.8,720.1 L137.3,719.7 L138.8,719.4 L140.3,719.0 L141.8,718.6 L143.3,718.2 L144.8,717.8 L146.3,717.3 L147.8,716.9 L149.3,716.4 L150.8,715.8 L152.3,715.3 L153.8,714.7 L155.3,714.0 L156.8,713.4 L158.3,712.7 L159.8,712.0 L161.3,711.2 L162.8,710.4 L164.3,709.6 L165.8,708.7 L167.3,707.8 L168.8,706.9 L170.3,705.9 L171.8,704.8 L173.3,703.8 L174.8,702.6 L176.3,701.5 L177.8,700.3 L179.3,699.0 L180.8,697.7 L182.3,696.3 L183.8,694.9 L185.3,693.5 L186.8,692.0 L188.3,690.4 L189.8,688.8 L191.3,687.1 L192.8,685.4 L194.3,683.6 L195.8,681.8 L197.3,680.0 L198.8,678.0 L200.3,676.1 L201.8,674.1 L203.3,672.0 L204.8,669.9 L206.3,667.7 L207.8,665.5 L209.3,663.2 L210.8,660.9 L212.3,658.6 L213.8,656.2 L215.3,653.7 L216.8,651.3 L218.3,648.8 L219.8,646.2 L221.3,643.6 L222.8,641.0 L224.3,638.4 L225.8,635.7 L227.3,633.0 L228.8,630.3 L230.3,627.6 L231.8,624.9 L233.3,622.1 L234.8,619.4 L236.3,616.6 L237.8,613.8 L239.3,611.1 L240.8,608.3 L242.3,605.6 L243.8,602.9 L245.3,600.2 L246.8,597.5 L248.3,594.8 L249.8,592.2 L251.3,589.6 L252.8,587.1 L254.3,584.5 L255.8,582.1 L257.3,579.7 L258.8,577.3 L260.3,575.0 L261.8,572.8 L263.3,570.6 L264.8,568.5 L266.3,566.5 L267.8,564.5 L269.3,562.6 L270.8,560.9 L272.3,559.2 L273.8,557.6 L275.3,556.0 L276.8,554.6 L278.3,553.3 L279.8,552.1 L281.3,551.0 L282.8,550.0 L284.3,549.1 L285.8,548.3 L287.3,547.6 L288.8,547.1 L290.3,546.6 L291.8,546.3 L293.3,546.1 L294.8,545.9 L296.3,546.0 L297.8,546.1 L299.3,546.3 L300.8,546.7 L302.3,547.2 L303.8,547.7 L305.3,548.4 L306.8,549.3 L308.3,550.2 L309.8,551.2 L311.3,552.3 L312.8,553.6 L314.3,554.9 L315.8,556.3 L317.3,557.9 L318.8,559.5 L320.3,561.2 L321.8,563.0 L323.3,564.9 L324.8,566.9 L326.3,568.9 L327.8,571.0 L329.3,573.2 L330.8,575.5 L332.3,577.8 L333.8,580.1 L335.3,582.6 L336.8,585.0 L338.3,587.6 L339.8,590.1 L341.3,592.7 L342.8,595.4 L344.3,598.0 L345.8,600.7 L347.3,603.4 L348.8,606.1 L350.3,608.9 L351.8,611.6 L353.3,614.4 L354.8,617.2 L356.3,619.9 L357.8,622.7 L359.3,625.4 L360.8,628.1 L362.3,630.9 L363.8,633.6 L365.3,636.3 L366.8,638.9 L368.3,641.5 L369.8,644.1 L371.3,646.7 L372.8,649.3 L374.3,651.8 L375.8,654.2 L377.3,656.7 L378.8,659.0 L380.3,661.4 L381.8,663.7 L383.3,665.9 L384.8,668.1 L386.3,670.3 L387.8,672.4 L389.3,674.5 L390.8,676.5 L392.3,678.4 L393.8,680.3 L395.3,682.2 L396.8,684.0 L398.3,685.8 L399.8,687.5 L401.3,689.1 L402.8,690.7 L404.3,692.3 L405.8,693.8 L407.3,695.2 L408.8,696.6 L410.3,698.0 L411.8,699.3 L413.3,700.5 L414.8,701.7 L416.3,702.9 L417.8,704.0 L419.3,705.0 L420.8,706.1 L422.3,707.1 L423.8,708.0 L425.3,708.9 L426.8,709.8 L428.3,710.6 L429.8,711.4 L431.3,712.1 L432.8,712.8 L434.3,713.5 L435.8,714.2 L437.3,714.8 L438.8,715.4 L440.3,715.9 L441.8,716.5 L443.3,717.0 L444.8,717.4 L446.3,717.9 L447.8,718.3 L449.3,718.7 L450.8,719.1 L452.3,719.5 L453.8,719.8 L455.3,720.1 L456.8,720.4 L458.3,720.7 L459.8,721.0 L461.3,721.2 L462.8,721.5 L464.3,721.7 L465.8,721.9 L467.3,722.1 L468.8,722.3 L470.3,722.4 L471.8,722.6 L473.3,722.7 L474.8,722.9 L476.3,723.0 L477.8,723.1 L479.3,723.2 L480.8,723.3 L482.3,723.4 L483.8,723.5 L485.3,723.6 L486.8,723.7 L488.3,723.8 L489.8,723.8 L491.3,723.9 L492.8,723.9 L494.3,724.0 L495.8,724.1 L497.3,724.1 L498.8,724.1 L500.3,724.2 L501.8,724.2 L503.3,724.2 L504.8,724.3 L506.3,724.3 L507.8,724.3 L509.3,724.4 L510.8,724.4 L512.3,724.4 L513.8,724.4" stroke="#00ffff" stroke-width="2.2"/>
<path fill="#00ffff" stroke="none" d="M88.2,730.7 h13.2 l-6.6,-13.2z M98.7,730.2 h13.2 l-6.6,-13.2z M109.2,729.5 h13.2 l-6.6,-13.2z M119.7,728.3 h13.2 l-6.6,-13.2z M130.2,726.4 h13.2 l-6.6,-13.2z M140.7,723.6 h13.2 l-6.6,-13.2z M151.2,719.5 h13.2 l-6.6,-13.2z M161.7,713.8 h13.2 l-6.6,-13.2z M172.2,706.0 h13.2 l-6.6,-13.2z M182.7,695.9 h13.2 l-6.6,-13.2z M193.2,683.3 h13.2 l-6.6,-13.2z M203.7,668.3 h13.2 l-6.6,-13.2z M214.2,651.1 h13.2 l-6.6,-13.2z M224.7,632.4 h13.2 l-6.6,-13.2z M235.2,613.1 h13.2 l-6.6,-13.2z M245.7,594.5 h13.2 l-6.6,-13.2z M256.2,577.9 h13.2 l-6.6,-13.2z M266.7,564.7 h13.2 l-6.6,-13.2z M277.2,556.0 h13.2 l-6.6,-13.2z M287.7,552.6 h13.2 l-6.6,-13.2z M298.2,554.8 h13.2 l-6.6,-13.2z M308.7,562.5 h13.2 l-6.6,-13.2z M319.2,574.8 h13.2 l-6.6,-13.2z M329.7,590.8 h13.2 l-6.6,-13.2z M340.2,609.1 h13.2 l-6.6,-13.2z M350.7,628.4 h13.2 l-6.6,-13.2z M361.2,647.3 h13.2 l-6.6,-13.2z M371.7,664.8 h13.2 l-6.6,-13.2z M382.2,680.4 h13.2 l-6.6,-13.2z M392.7,693.5 h13.2 l-6.6,-13.2z M403.2,704.1 h13.2 l-6.6,-13.2z M413.7,712.3 h13.2 l-6.6,-13.2z M424.2,718.5 h13.2 l-6.6,-13.2z M434.7,722.9 h13.2 l-6.6,-13.2z M445.2,725.9 h13.2 l-6.6,-13.2z M455.7,728.0 h13.2 l-6.6,-13.2z M466.2,729.3 h13.2 l-6.6,-13.2z M476.7,730.1 h13.2 l-6.6,-13.2z M487.2,730.6 h13.2 l-6.6,-13.2z M497.7,730.9 h13.2 l-6.6,-13.2z M508.2,731.0 h13.2 l-6.6,-13.2z"/>
<path d="M84.8,724.3 L86.3,724.3 L87.8,724.3 L89.3,724.2 L90.8,724.2 L92.3,724.1 L93.8,724.1 L95.3,724.1 L96.8,724.0 L98.3,724.0 L99.8,723.9 L101.3,723.8 L102.8,723.8 L104.3,723.7 L105.8,723.6 L107.3,723.6 L108.8,723.5 L110.3,723.4 L111.8,723.3 L113.3,723.2 L114.8,723.0 L116.3,722.9 L117.8,722.8 L119.3,722.6 L120.8,722.5 L122.3,722.3 L123.8,722.1 L125.3,721.9 L126.8,721.7 L128.3,721.5 L129.8,721.3 L131.3,721.1 L132.8,720.8 L134.3,720.5 L135.8,720.2 L137.3,719.9 L138.8,719.6 L140.3,719.3 L141.8,718.9 L143.3,718.5 L144.8,718.1 L146.3,717.6 L147.8,717.2 L149.3,716.7 L150.8,716.2 L152.3,715.7 L153.8,715.1 L155.3,714.5 L156.8,713.9 L158.3,713.2 L159.8,712.5 L161.3,711.8 L162.8,711.0 L164.3,710.2 L165.8,709.4 L167.3,708.5 L168.8,707.6 L170.3,706.7 L171.8,705.7 L173.3,704.6 L174.8,703.6 L176.3,702.4 L177.8,701.3 L179.3,700.1 L180.8,698.8 L182.3,697.5 L183.8,696.1 L185.3,694.7 L186.8,693.3 L188.3,691.8 L189.8,690.2 L191.3,688.6 L192.8,687.0 L194.3,685.3 L195.8,683.5 L197.3,681.7 L198.8,679.9 L200.3,678.0 L201.8,676.0 L203.3,674.0 L204.8,672.0 L206.3,669.9 L207.8,667.7 L209.3,665.5 L210.8,663.3 L212.3,661.0 L213.8,658.7 L215.3,656.3 L216.8,653.9 L218.3,651.5 L219.8,649.0 L221.3,646.5 L222.8,643.9 L224.3,641.3 L225.8,638.7 L227.3,636.1 L228.8,633.4 L230.3,630.8 L231.8,628.1 L233.3,625.4 L234.8,622.7 L236.3,620.0 L237.8,617.2 L239.3,614.5 L240.8,611.8 L242.3,609.1 L243.8,606.4 L245.3,603.7 L246.8,601.0 L248.3,598.4 L249.8,595.8 L251.3,593.2 L252.8,590.6 L254.3,588.1 L255.8,585.6 L257.3,583.2 L258.8,580.8 L260.3,578.5 L261.8,576.2 L263.3,574.0 L264.8,571.8 L266.3,569.7 L267.8,567.7 L269.3,565.8 L270.8,563.9 L272.3,562.2 L273.8,560.5 L275.3,558.9 L276.8,557.4 L278.3,556.0 L279.8,554.7 L281.3,553.4 L282.8,552.3 L284.3,551.3 L285.8,550.4 L287.3,549.6 L288.8,548.9 L290.3,548.4 L291.8,547.9 L293.3,547.5 L294.8,547.3 L296.3,547.2 L297.8,547.2 L299.3,547.2 L300.8,547.5 L302.3,547.8 L303.8,548.2 L305.3,548.8 L306.8,549.4 L308.3,550.2 L309.8,551.1 L311.3,552.1 L312.8,553.1 L314.3,554.3 L315.8,555.6 L317.3,557.0 L318.8,558.5 L320.3,560.1 L321.8,561.7 L323.3,563.5 L324.8,565.3 L326.3,567.2 L327.8,569.2 L329.3,571.3 L330.8,573.4 L332.3,575.6 L333.8,577.8 L335.3,580.2 L336.8,582.5 L338.3,585.0 L339.8,587.4 L341.3,589.9 L342.8,592.5 L344.3,595.1 L345.8,597.7 L347.3,600.3 L348.8,603.0 L350.3,605.7 L351.8,608.4 L353.3,611.1 L354.8,613.8 L356.3,616.5 L357.8,619.2 L359.3,622.0 L360.8,624.7 L362.3,627.4 L363.8,630.1 L365.3,632.7 L366.8,635.4 L368.3,638.0 L369.8,640.6 L371.3,643.2 L372.8,645.8 L374.3,648.3 L375.8,650.8 L377.3,653.3 L378.8,655.7 L380.3,658.0 L381.8,660.4 L383.3,662.7 L384.8,664.9 L386.3,667.1 L387.8,669.3 L389.3,671.4 L390.8,673.5 L392.3,675.5 L393.8,677.5 L395.3,679.4 L396.8,681.2 L398.3,683.1 L399.8,684.8 L401.3,686.5 L402.8,688.2 L404.3,689.8 L405.8,691.4 L407.3,692.9 L408.8,694.4 L410.3,695.8 L411.8,697.1 L413.3,698.5 L414.8,699.7 L416.3,700.9 L417.8,702.1 L419.3,703.3 L420.8,704.3 L422.3,705.4 L423.8,706.4 L425.3,707.4 L426.8,708.3 L428.3,709.2 L429.8,710.0 L431.3,710.8 L432.8,711.6 L434.3,712.3 L435.8,713.0 L437.3,713.7 L438.8,714.3 L440.3,714.9 L441.8,715.5 L443.3,716.1 L444.8,716.6 L446.3,717.1 L447.8,717.5 L449.3,718.0 L450.8,718.4 L452.3,718.8 L453.8,719.2 L455.3,719.5 L456.8,719.8 L458.3,720.2 L459.8,720.5 L461.3,720.7 L462.8,721.0 L464.3,721.2 L465.8,721.5 L467.3,721.7 L468.8,721.9 L470.3,722.1 L471.8,722.3 L473.3,722.4 L474.8,722.6 L476.3,722.7 L477.8,722.9 L479.3,723.0 L480.8,723.1 L482.3,723.2 L483.8,723.3 L485.3,723.4 L486.8,723.5 L488.3,723.6 L489.8,723.7 L491.3,723.8 L492.8,723.8 L494.3,723.9 L495.8,723.9 L497.3,724.0 L498.8,724.0 L500.3,724.1 L501.8,724.1 L503.3,724.2 L504.8,724.2 L506.3,724.2 L507.8,724.3 L509.3,724.3 L510.8,724.3 L512.3,724.4 L513.8,724.4" stroke="#008000" stroke-width="2.2"/>
<path fill="#008000" stroke="none" d="M93.9,716.8 h14.2 v14.2 h-14.2z M117.1,715.0 h14.2 v14.2 h-14.2z M140.3,710.2 h14.2 v14.2 h-14.2z M163.5,699.4 h14.2 v14.2 h-14.2z M186.7,678.8 h14.2 v14.2 h-14.2z M209.9,646.5 h14.2 v14.2 h-14.2z M233.1,605.8 h14.2 v14.2 h-14.2z M256.3,566.7 h14.2 v14.2 h-14.2z M279.5,542.9 h14.2 v14.2 h-14.2z M302.7,544.0 h14.2 v14.2 h-14.2z M325.9,569.5 h14.2 v14.2 h-14.2z M349.1,609.2 h14.2 v14.2 h-14.2z M372.3,649.5 h14.2 v14.2 h-14.2z M395.5,680.9 h14.2 v14.2 h-14.2z M418.7,700.6 h14.2 v14.2 h-14.2z M441.9,710.8 h14.2 v14.2 h-14.2z M465.1,715.2 h14.2 v14.2 h-14.2z M488.3,716.8 h14.2 v14.2 h-14.2z"/>
<path d="M84.8,724.3 L86.3,724.3 L87.8,724.3 L89.3,724.2 L90.8,724.2 L92.3,724.2 L93.8,724.1 L95.3,724.1 L96.8,724.0 L98.3,724.0 L99.8,723.9 L101.3,723.9 L102.8,723.8 L104.3,723.7 L105.8,723.7 L107.3,723.6 L108.8,723.5 L110.3,723.4 L111.8,723.3 L113.3,723.2 L114.8,723.1 L116.3,723.0 L117.8,722.8 L119.3,722.7 L120.8,722.5 L122.3,722.4 L123.8,722.2 L125.3,722.0 L126.8,721.8 L128.3,721.6 L129.8,721.4 L131.3,721.2 L132.8,720.9 L134.3,720.7 L135.8,720.4 L137.3,720.1 L138.8,719.8 L140.3,719.4 L141.8,719.1 L143.3,718.7 L144.8,718.3 L146.3,717.9 L147.8,717.4 L149.3,717.0 L150.8,716.5 L152.3,715.9 L153.8,715.4 L155.3,714.8 L156.8,714.2 L158.3,713.6 L159.8,712.9 L161.3,712.2 L162.8,711.5 L164.3,710.7 L165.8,709.9 L167.3,709.0 L168.8,708.1 L170.3,707.2 L171.8,706.3 L173.3,705.3 L174.8,704.2 L176.3,703.1 L177.8,702.0 L179.3,700.8 L180.8,699.6 L182.3,698.3 L183.8,697.0 L185.3,695.7 L186.8,694.3 L188.3,692.8 L189.8,691.3 L191.3,689.7 L192.8,688.1 L194.3,686.5 L195.8,684.8 L197.3,683.0 L198.8,681.2 L200.3,679.4 L201.8,677.4 L203.3,675.5 L204.8,673.5 L206.3,671.4 L207.8,669.3 L209.3,667.2 L210.8,665.0 L212.3,662.8 L213.8,660.5 L215.3,658.2 L216.8,655.8 L218.3,653.4 L219.8,651.0 L221.3,648.5 L222.8,646.0 L224.3,643.5 L225.8,640.9 L227.3,638.4 L228.8,635.8 L230.3,633.1 L231.8,630.5 L233.3,627.8 L234.8,625.1 L236.3,622.4 L237.8,619.8 L239.3,617.1 L240.8,614.4 L242.3,611.7 L243.8,609.0 L245.3,606.3 L246.8,603.7 L248.3,601.0 L249.8,598.4 L251.3,595.8 L252.8,593.3 L254.3,590.7 L255.8,588.2 L257.3,585.8 L258.8,583.4 L260.3,581.1 L261.8,578.8 L263.3,576.5 L264.8,574.3 L266.3,572.2 L267.8,570.2 L269.3,568.2 L270.8,566.3 L272.3,564.5 L273.8,562.7 L275.3,561.1 L276.8,559.5 L278.3,558.0 L279.8,556.7 L281.3,555.4 L282.8,554.2 L284.3,553.1 L285.8,552.1 L287.3,551.2 L288.8,550.4 L290.3,549.8 L291.8,549.2 L293.3,548.7 L294.8,548.4 L296.3,548.2 L297.8,548.1 L299.3,548.0 L300.8,548.2 L302.3,548.4 L303.8,548.7 L305.3,549.1 L306.8,549.7 L308.3,550.3 L309.8,551.1 L311.3,552.0 L312.8,552.9 L314.3,554.0 L315.8,555.2 L317.3,556.5 L318.8,557.8 L320.3,559.3 L321.8,560.9 L323.3,562.5 L324.8,564.2 L326.3,566.1 L327.8,567.9 L329.3,569.9 L330.8,571.9 L332.3,574.1 L333.8,576.2 L335.3,578.5 L336.8,580.7 L338.3,583.1 L339.8,585.5 L341.3,587.9 L342.8,590.4 L344.3,592.9 L345.8,595.5 L347.3,598.1 L348.8,600.7 L350.3,603.3 L351.8,606.0 L353.3,608.6 L354.8,611.3 L356.3,614.0 L357.8,616.7 L359.3,619.4 L360.8,622.1 L362.3,624.8 L363.8,627.5 L365.3,630.1 L366.8,632.8 L368.3,635.4 L369.8,638.0 L371.3,640.6 L372.8,643.2 L374.3,645.7 L375.8,648.2 L377.3,650.7 L378.8,653.1 L380.3,655.5 L381.8,657.9 L383.3,660.2 L384.8,662.5 L386.3,664.7 L387.8,666.9 L389.3,669.1 L390.8,671.2 L392.3,673.2 L393.8,675.2 L395.3,677.2 L396.8,679.1 L398.3,681.0 L399.8,682.8 L401.3,684.5 L402.8,686.2 L404.3,687.9 L405.8,689.5 L407.3,691.1 L408.8,692.6 L410.3,694.1 L411.8,695.5 L413.3,696.8 L414.8,698.2 L416.3,699.4 L417.8,700.7 L419.3,701.8 L420.8,703.0 L422.3,704.1 L423.8,705.1 L425.3,706.1 L426.8,707.1 L428.3,708.0 L429.8,708.9 L431.3,709.8 L432.8,710.6 L434.3,711.4 L435.8,712.1 L437.3,712.8 L438.8,713.5 L440.3,714.1 L441.8,714.7 L443.3,715.3 L444.8,715.9 L446.3,716.4 L447.8,716.9 L449.3,717.4 L450.8,717.8 L452.3,718.2 L453.8,718.6 L455.3,719.0 L456.8,719.4 L458.3,719.7 L459.8,720.0 L461.3,720.3 L462.8,720.6 L464.3,720.9 L465.8,721.1 L467.3,721.4 L468.8,721.6 L470.3,721.8 L471.8,722.0 L473.3,722.2 L474.8,722.4 L476.3,722.5 L477.8,722.7 L479.3,722.8 L480.8,722.9 L482.3,723.1 L483.8,723.2 L485.3,723.3 L486.8,723.4 L488.3,723.5 L489.8,723.6 L491.3,723.6 L492.8,723.7 L494.3,723.8 L495.8,723.9 L497.3,723.9 L498.8,724.0 L500.3,724.0 L501.8,724.1 L503.3,724.1 L504.8,724.2 L506.3,724.2 L507.8,724.2 L509.3,724.3 L510.8,724.3 L512.3,724.3 L513.8,724.3" stroke="#ffff00" stroke-width="2.2"/>
<path fill="#ffff00" stroke="none" d="M116.0,715.6 122.4,719.3 122.4,726.7 116.0,730.4 109.6,726.7 109.6,719.3z M149.5,709.5 155.9,713.2 155.9,720.6 149.5,724.3 143.1,720.6 143.1,713.2z M183.0,690.3 189.4,694.0 189.4,701.4 183.0,705.1 176.6,701.4 176.6,694.0z M216.5,648.9 222.9,652.6 222.9,660.0 216.5,663.7 210.1,660.0 210.1,652.6z M250.0,590.7 256.4,594.4 256.4,601.8 250.0,605.5 243.6,601.8 243.6,594.4z M283.5,546.3 289.9,550.0 289.9,557.4 283.5,561.1 277.1,557.4 277.1,550.0z M317.0,548.8 323.4,552.5 323.4,559.9 317.0,563.6 310.6,559.9 310.6,552.5z M350.5,596.3 356.9,600.0 356.9,607.4 350.5,611.1 344.1,607.4 344.1,600.0z M384.0,653.9 390.4,657.6 390.4,665.0 384.0,668.7 377.6,665.0 377.6,657.6z M417.5,693.0 423.9,696.7 423.9,704.1 417.5,707.8 411.1,704.1 411.1,696.7z M451.0,710.5 457.4,714.2 457.4,721.6 451.0,725.3 444.6,721.6 444.6,714.2z M484.5,715.8 490.9,719.5 490.9,726.9 484.5,730.6 478.1,726.9 478.1,719.5z M518.0,717.0 524.4,720.7 524.4,728.1 518.0,731.8 511.6,728.1 511.6,720.7z"/>
<path d="M84.8,724.3 L86.3,724.3 L87.8,724.3 L89.3,724.2 L90.8,724.2 L92.3,724.2 L93.8,724.1 L95.3,724.1 L96.8,724.0 L98.3,724.0 L99.8,723.9 L101.3,723.9 L102.8,723.8 L104.3,723.8 L105.8,723.7 L107.3,723.6 L108.8,723.5 L110.3,723.4 L111.8,723.3 L113.3,723.2 L114.8,723.1 L116.3,723.0 L117.8,722.9 L119.3,722.8 L120.8,722.6 L122.3,722.5 L123.8,722.3 L125.3,722.1 L126.8,721.9 L128.3,721.7 L129.8,721.5 L131.3,721.3 L132.8,721.1 L134.3,720.8 L135.8,720.5 L137.3,720.2 L138.8,719.9 L140.3,719.6 L141.8,719.3 L143.3,718.9 L144.8,718.5 L146.3,718.1 L147.8,717.7 L149.3,717.2 L150.8,716.7 L152.3,716.2 L153.8,715.7 L155.3,715.1 L156.8,714.6 L158.3,713.9 L159.8,713.3 L161.3,712.6 L162.8,711.9 L164.3,711.1 L165.8,710.4 L167.3,709.5 L168.8,708.7 L170.3,707.8 L171.8,706.9 L173.3,705.9 L174.8,704.9 L176.3,703.8 L177.8,702.7 L179.3,701.6 L180.8,700.4 L182.3,699.2 L183.8,697.9 L185.3,696.5 L186.8,695.2 L188.3,693.8 L189.8,692.3 L191.3,690.8 L192.8,689.2 L194.3,687.6 L195.8,685.9 L197.3,684.2 L198.8,682.5 L200.3,680.6 L201.8,678.8 L203.3,676.9 L204.8,674.9 L206.3,672.9 L207.8,670.9 L209.3,668.8 L210.8,666.6 L212.3,664.4 L213.8,662.2 L215.3,659.9 L216.8,657.6 L218.3,655.2 L219.8,652.8 L221.3,650.4 L222.8,648.0 L224.3,645.5 L225.8,642.9 L227.3,640.4 L228.8,637.8 L230.3,635.2 L231.8,632.6 L233.3,630.0 L234.8,627.3 L236.3,624.6 L237.8,622.0 L239.3,619.3 L240.8,616.6 L242.3,613.9 L243.8,611.3 L245.3,608.6 L246.8,606.0 L248.3,603.3 L249.8,600.7 L251.3,598.1 L252.8,595.6 L254.3,593.0 L255.8,590.5 L257.3,588.1 L258.8,585.6 L260.3,583.3 L261.8,581.0 L263.3,578.7 L264.8,576.5 L266.3,574.3 L267.8,572.2 L269.3,570.2 L270.8,568.3 L272.3,566.4 L273.8,564.6 L275.3,562.9 L276.8,561.3 L278.3,559.7 L279.8,558.3 L281.3,556.9 L282.8,555.7 L284.3,554.5 L285.8,553.5 L287.3,552.5 L288.8,551.6 L290.3,550.9 L291.8,550.2 L293.3,549.7 L294.8,549.3 L296.3,548.9 L297.8,548.7 L299.3,548.6 L300.8,548.6 L302.3,548.8 L303.8,549.0 L305.3,549.3 L306.8,549.8 L308.3,550.4 L309.8,551.0 L311.3,551.8 L312.8,552.7 L314.3,553.7 L315.8,554.7 L317.3,555.9 L318.8,557.2 L320.3,558.6 L321.8,560.0 L323.3,561.6 L324.8,563.2 L326.3,565.0 L327.8,566.8 L329.3,568.7 L330.8,570.6 L332.3,572.7 L333.8,574.7 L335.3,576.9 L336.8,579.1 L338.3,581.4 L339.8,583.7 L341.3,586.1 L342.8,588.6 L344.3,591.0 L345.8,593.5 L347.3,596.1 L348.8,598.6 L350.3,601.2 L351.8,603.9 L353.3,606.5 L354.8,609.1 L356.3,611.8 L357.8,614.5 L359.3,617.2 L360.8,619.8 L362.3,622.5 L363.8,625.2 L365.3,627.8 L366.8,630.5 L368.3,633.1 L369.8,635.7 L371.3,638.3 L372.8,640.9 L374.3,643.4 L375.8,646.0 L377.3,648.5 L378.8,650.9 L380.3,653.3 L381.8,655.7 L383.3,658.1 L384.8,660.4 L386.3,662.6 L387.8,664.9 L389.3,667.0 L390.8,669.2 L392.3,671.3 L393.8,673.3 L395.3,675.3 L396.8,677.3 L398.3,679.2 L399.8,681.0 L401.3,682.8 L402.8,684.6 L404.3,686.3 L405.8,687.9 L407.3,689.5 L408.8,691.1 L410.3,692.6 L411.8,694.0 L413.3,695.5 L414.8,696.8 L416.3,698.1 L417.8,699.4 L419.3,700.6 L420.8,701.8 L422.3,702.9 L423.8,704.0 L425.3,705.1 L426.8,706.1 L428.3,707.0 L429.8,708.0 L431.3,708.9 L432.8,709.7 L434.3,710.5 L435.8,711.3 L437.3,712.0 L438.8,712.7 L440.3,713.4 L441.8,714.1 L443.3,714.7 L444.8,715.3 L446.3,715.8 L447.8,716.3 L449.3,716.8 L450.8,717.3 L452.3,717.8 L453.8,718.2 L455.3,718.6 L456.8,719.0 L458.3,719.3 L459.8,719.7 L461.3,720.0 L462.8,720.3 L464.3,720.6 L465.8,720.8 L467.3,721.1 L468.8,721.3 L470.3,721.6 L471.8,721.8 L473.3,722.0 L474.8,722.2 L476.3,722.3 L477.8,722.5 L479.3,722.6 L480.8,722.8 L482.3,722.9 L483.8,723.0 L485.3,723.2 L486.8,723.3 L488.3,723.4 L489.8,723.5 L491.3,723.6 L492.8,723.6 L494.3,723.7 L495.8,723.8 L497.3,723.8 L498.8,723.9 L500.3,724.0 L501.8,724.0 L503.3,724.1 L504.8,724.1 L506.3,724.1 L507.8,724.2 L509.3,724.2 L510.8,724.2 L512.3,724.3 L513.8,724.3" stroke="#ffa500" stroke-width="2.2"/>
<path stroke="#ffa500" stroke-width="2.2" d="M89.0,724.1 h12 M95.0,718.1 v12 M129.2,720.6 h12 M135.2,714.6 v12 M169.4,704.5 h12 M175.4,698.5 v12 M209.6,659.4 h12 M215.6,653.4 v12 M249.8,590.5 h12 M255.8,584.5 v12 M290.0,549.0 h12 M296.0,543.0 v12 M330.2,578.2 h12 M336.2,572.2 v12 M370.4,647.0 h12 M376.4,641.0 v12 M410.6,698.4 h12 M416.6,692.4 v12 M450.8,719.0 h12 M456.8,713.0 v12 M491.0,723.8 h12 M497.0,717.8 v12"/>
<path d="M84.8,724.4 L86.3,724.4 L87.8,724.3 L89.3,724.3 L90.8,724.3 L92.3,724.3 L93.8,724.2 L95.3,724.2 L96.8,724.2 L98.3,724.1 L99.8,724.1 L101.3,724.0 L102.8,724.0 L104.3,723.9 L105.8,723.9 L107.3,723.8 L108.8,723.7 L110.3,723.7 L111.8,723.6 L113.3,723.5 L114.8,723.4 L116.3,723.3 L117.8,723.2 L119.3,723.1 L120.8,723.0 L122.3,722.8 L123.8,722.7 L125.3,722.5 L126.8,722.4 L128.3,722.2 L129.8,722.0 L131.3,721.8 L132.8,721.6 L134.3,721.4 L135.8,721.2 L137.3,720.9 L138.8,720.7 L140.3,720.4 L141.8,720.1 L143.3,719.8 L144.8,719.4 L146.3,719.1 L147.8,718.7 L149.3,718.3 L150.8,717.9 L152.3,717.5 L153.8,717.0 L155.3,716.5 L156.8,716.0 L158.3,715.4 L159.8,714.9 L161.3,714.3 L162.8,713.6 L164.3,713.0 L165.8,712.3 L167.3,711.6 L168.8,710.8 L170.3,710.0 L171.8,709.2 L173.3,708.3 L174.8,707.4 L176.3,706.4 L177.8,705.4 L179.3,704.4 L180.8,703.3 L182.3,702.2 L183.8,701.1 L185.3,699.9 L186.8,698.6 L188.3,697.3 L189.8,696.0 L191.3,694.6 L192.8,693.1 L194.3,691.7 L195.8,690.1 L197.3,688.5 L198.8,686.9 L200.3,685.2 L201.8,683.5 L203.3,681.7 L204.8,679.9 L206.3,678.0 L207.8,676.1 L209.3,674.1 L210.8,672.1 L212.3,670.0 L213.8,667.9 L215.3,665.8 L216.8,663.6 L218.3,661.3 L219.8,659.0 L221.3,656.7 L222.8,654.3 L224.3,651.9 L225.8,649.5 L227.3,647.0 L228.8,644.5 L230.3,642.0 L231.8,639.5 L233.3,636.9 L234.8,634.3 L236.3,631.7 L237.8,629.0 L239.3,626.4 L240.8,623.7 L242.3,621.1 L243.8,618.4 L245.3,615.7 L246.8,613.1 L248.3,610.4 L249.8,607.8 L251.3,605.1 L252.8,602.5 L254.3,599.9 L255.8,597.3 L257.3,594.8 L258.8,592.3 L260.3,589.8 L261.8,587.4 L263.3,585.0 L264.8,582.6 L266.3,580.3 L267.8,578.1 L269.3,575.9 L270.8,573.8 L272.3,571.7 L273.8,569.8 L275.3,567.8 L276.8,566.0 L278.3,564.3 L279.8,562.6 L281.3,561.0 L282.8,559.5 L284.3,558.1 L285.8,556.8 L287.3,555.5 L288.8,554.4 L290.3,553.4 L291.8,552.5 L293.3,551.7 L294.8,550.9 L296.3,550.3 L297.8,549.8 L299.3,549.4 L300.8,549.2 L302.3,549.0 L303.8,548.9 L305.3,549.0 L306.8,549.1 L308.3,549.4 L309.8,549.8 L311.3,550.3 L312.8,550.8 L314.3,551.5 L315.8,552.4 L317.3,553.3 L318.8,554.3 L320.3,555.4 L321.8,556.6 L323.3,557.9 L324.8,559.3 L326.3,560.8 L327.8,562.4 L329.3,564.0 L330.8,565.8 L332.3,567.6 L333.8,569.5 L335.3,571.5 L336.8,573.5 L338.3,575.6 L339.8,577.8 L341.3,580.0 L342.8,582.3 L344.3,584.7 L345.8,587.0 L347.3,589.5 L348.8,591.9 L350.3,594.5 L351.8,597.0 L353.3,599.6 L354.8,602.2 L356.3,604.8 L357.8,607.4 L359.3,610.1 L360.8,612.7 L362.3,615.4 L363.8,618.0 L365.3,620.7 L366.8,623.4 L368.3,626.0 L369.8,628.7 L371.3,631.3 L372.8,633.9 L374.3,636.5 L375.8,639.1 L377.3,641.7 L378.8,644.2 L380.3,646.7 L381.8,649.2 L383.3,651.6 L384.8,654.0 L386.3,656.4 L387.8,658.7 L389.3,661.0 L390.8,663.3 L392.3,665.5 L393.8,667.6 L395.3,669.8 L396.8,671.8 L398.3,673.9 L399.8,675.8 L401.3,677.8 L402.8,679.6 L404.3,681.5 L405.8,683.3 L407.3,685.0 L408.8,686.7 L410.3,688.3 L411.8,689.9 L413.3,691.5 L414.8,692.9 L416.3,694.4 L417.8,695.8 L419.3,697.1 L420.8,698.4 L422.3,699.7 L423.8,700.9 L425.3,702.1 L426.8,703.2 L428.3,704.3 L429.8,705.3 L431.3,706.3 L432.8,707.3 L434.3,708.2 L435.8,709.0 L437.3,709.9 L438.8,710.7 L440.3,711.5 L441.8,712.2 L443.3,712.9 L444.8,713.6 L446.3,714.2 L447.8,714.8 L449.3,715.4 L450.8,715.9 L452.3,716.4 L453.8,716.9 L455.3,717.4 L456.8,717.8 L458.3,718.3 L459.8,718.7 L461.3,719.0 L462.8,719.4 L464.3,719.7 L465.8,720.0 L467.3,720.3 L468.8,720.6 L470.3,720.9 L471.8,721.1 L473.3,721.4 L474.8,721.6 L476.3,721.8 L477.8,722.0 L479.3,722.2 L480.8,722.4 L482.3,722.5 L483.8,722.7 L485.3,722.8 L486.8,722.9 L488.3,723.1 L489.8,723.2 L491.3,723.3 L492.8,723.4 L494.3,723.5 L495.8,723.6 L497.3,723.6 L498.8,723.7 L500.3,723.8 L501.8,723.9 L503.3,723.9 L504.8,724.0 L506.3,724.0 L507.8,724.1 L509.3,724.1 L510.8,724.1 L512.3,724.2 L513.8,724.2" stroke="#ff0000" stroke-width="6.8" stroke-dasharray="22.5 9.1" stroke-linecap="butt"/>
<path stroke="#ff0000" stroke-width="2.4" d="M99.1,718.1 v12 M147.7,712.7 v12 M196.3,683.6 v12 M244.9,610.4 v12 M293.5,545.5 v12 M342.1,575.2 v12 M390.7,657.1 v12 M439.3,704.9 v12 M487.9,717.0 v12"/>
</g>
<rect x="88.8" y="439.2" width="421.40" height="316.40" stroke="#000" stroke-width="4.17" fill="none"/>
<text transform="translate(222.98,788.40) scale(1.1590,1)" font-size="34.92" style="">−</text><text transform="translate(250.70,786.77) scale(0.9928,1)" font-size="33.74" style="stroke:#000;stroke-width:1.10px;stroke-linejoin:round;">1</text>
<text transform="translate(446.39,787.17) scale(1.1549,1)" font-size="34.67" style="stroke:#000;stroke-width:0.60px;stroke-linejoin:round;">0</text>
<text transform="translate(58.38,736.86) scale(1.1549,1)" font-size="34.67" style="stroke:#000;stroke-width:0.60px;stroke-linejoin:round;">0</text>
<text transform="translate(61.00,612.36) scale(0.9928,1)" font-size="33.74" style="stroke:#000;stroke-width:1.10px;stroke-linejoin:round;">1</text>
<text transform="translate(60.93,488.61) scale(1.0154,1)" font-size="34.74" style="stroke:#000;stroke-width:0.40px;stroke-linejoin:round;">2</text>
<path d="M710.24,755.6 v-16 M710.24,439.2 v16 M863.40,755.6 v-16 M863.40,439.2 v16 M1016.56,755.6 v-16 M1016.56,439.2 v16 M595.1,724.60 h16 M1016.5,724.60 h-16 M595.1,600.50 h16 M1016.5,600.50 h-16 M595.1,476.40 h16 M1016.5,476.40 h-16" stroke="#000" stroke-width="4.17" fill="none"/>
<g clip-path="url(#clipd)" fill="none" stroke-linejoin="round">
<path d="M591.1,724.6 L597.1,724.6 L603.1,724.6 L609.1,724.6 L615.1,724.6 L621.1,724.6 L627.1,724.6 L633.1,724.6 L639.1,724.6 L645.1,724.6 L651.1,724.6 L657.1,724.6 L663.1,724.6 L669.1,724.6 L675.1,724.6 L681.1,724.6 L687.1,724.6 L693.1,724.6 L699.1,724.6 L705.1,724.6 L711.1,724.6 L717.1,724.6 L723.1,724.6 L729.1,724.6 L735.1,724.6 L741.1,724.6 L747.1,724.6 L753.1,724.6 L759.1,724.6 L765.1,724.6 L771.1,724.6 L777.1,724.6 L783.1,724.6 L789.1,724.6 L795.1,724.6 L801.1,724.6 L807.1,724.6 L813.1,724.6 L819.1,724.6 L825.1,724.6 L831.1,724.6 L832.6,724.6 L834.1,724.6 L835.6,724.6 L837.1,724.6 L838.6,724.6 L840.1,724.5 L841.6,724.5 L843.1,724.5 L844.6,724.5 L846.1,724.4 L847.6,724.4 L849.1,724.3 L850.6,724.2 L852.1,724.1 L853.6,724.0 L855.1,723.8 L856.6,723.6 L858.1,723.3 L859.6,723.0 L861.1,722.7 L862.6,722.2 L864.1,721.7 L865.6,721.0 L867.1,720.2 L868.6,719.3 L870.1,718.2 L871.6,717.0 L873.1,715.5 L874.6,713.9 L876.1,711.9 L877.6,709.7 L879.1,707.2 L880.6,704.4 L882.1,701.3 L883.6,697.8 L885.1,693.9 L886.6,689.6 L888.1,685.0 L889.6,679.9 L891.1,674.5 L892.6,668.7 L894.1,662.5 L895.6,655.9 L897.1,649.1 L898.6,642.0 L900.1,634.7 L901.6,627.2 L903.1,619.6 L904.6,612.0 L906.1,604.4 L907.6,597.0 L909.1,589.8 L910.6,582.9 L912.1,576.4 L913.6,570.4 L915.1,564.9 L916.6,560.1 L918.1,555.9 L919.6,552.6 L921.1,550.0 L922.6,548.3 L924.1,547.4 L925.6,547.4 L927.1,548.3 L928.6,550.1 L930.1,552.8 L931.6,556.2 L933.1,560.4 L934.6,565.3 L936.1,570.8 L937.6,576.8 L939.1,583.4 L940.6,590.3 L942.1,597.5 L943.6,604.9 L945.1,612.5 L946.6,620.1 L948.1,627.7 L949.6,635.2 L951.1,642.5 L952.6,649.6 L954.1,656.4 L955.6,662.9 L957.1,669.1 L958.6,674.9 L960.1,680.3 L961.6,685.3 L963.1,689.9 L964.6,694.2 L966.1,698.0 L967.6,701.5 L969.1,704.6 L970.6,707.4 L972.1,709.9 L973.6,712.1 L975.1,714.0 L976.6,715.6 L978.1,717.1 L979.6,718.3 L981.1,719.4 L982.6,720.3 L984.1,721.1 L985.6,721.7 L987.1,722.2 L988.6,722.7 L990.1,723.1 L991.6,723.4 L993.1,723.6 L994.6,723.8 L996.1,724.0 L997.6,724.1 L999.1,724.2 L1000.6,724.3 L1002.1,724.4 L1003.6,724.4 L1005.1,724.5 L1006.6,724.5 L1008.1,724.5 L1009.6,724.5 L1011.1,724.6 L1012.6,724.6 L1014.1,724.6 L1015.6,724.6 L1017.1,724.6 L1018.6,724.6 L1020.1,724.6" stroke="#800080" stroke-width="6.25"/>
<path d="M591.1,724.6 L597.1,724.6 L603.1,724.6 L609.1,724.6 L615.1,724.6 L621.1,724.6 L627.1,724.6 L633.1,724.6 L639.1,724.6 L645.1,724.6 L651.1,724.6 L657.1,724.6 L663.1,724.6 L669.1,724.6 L675.1,724.6 L681.1,724.6 L687.1,724.6 L693.1,724.6 L699.1,724.6 L705.1,724.6 L711.1,724.6 L717.1,724.6 L723.1,724.6 L729.1,724.6 L735.1,724.6 L741.1,724.6 L747.1,724.6 L753.1,724.6 L759.1,724.6 L765.1,724.6 L771.1,724.6 L772.6,724.6 L774.1,724.6 L775.6,724.6 L777.1,724.6 L778.6,724.6 L780.1,724.5 L781.6,724.5 L783.1,724.5 L784.6,724.5 L786.1,724.4 L787.6,724.4 L789.1,724.3 L790.6,724.3 L792.1,724.2 L793.6,724.0 L795.1,723.9 L796.6,723.7 L798.1,723.5 L799.6,723.2 L801.1,722.8 L802.6,722.4 L804.1,721.9 L805.6,721.3 L807.1,720.6 L808.6,719.8 L810.1,718.8 L811.6,717.6 L813.1,716.2 L814.6,714.7 L816.1,712.9 L817.6,710.8 L819.1,708.4 L820.6,705.8 L822.1,702.8 L823.6,699.5 L825.1,695.8 L826.6,691.7 L828.1,687.2 L829.6,682.3 L831.1,677.1 L832.6,671.4 L834.1,665.4 L835.6,659.0 L837.1,652.3 L838.6,645.3 L840.1,638.1 L841.6,630.7 L843.1,623.1 L844.6,615.5 L846.1,608.0 L847.6,600.5 L849.1,593.2 L850.6,586.1 L852.1,579.4 L853.6,573.1 L855.1,567.4 L856.6,562.3 L858.1,557.8 L859.6,554.0 L861.1,551.1 L862.6,549.0 L864.1,547.7 L865.6,547.3 L867.1,547.8 L868.6,549.2 L870.1,551.4 L871.6,554.5 L873.1,558.3 L874.6,562.9 L876.1,568.1 L877.6,573.9 L879.1,580.3 L880.6,587.0 L882.1,594.1 L883.6,601.5 L885.1,609.0 L886.6,616.6 L888.1,624.2 L889.6,631.7 L891.1,639.1 L892.6,646.3 L894.1,653.2 L895.6,659.9 L897.1,666.2 L898.6,672.2 L900.1,677.8 L901.6,683.0 L903.1,687.8 L904.6,692.2 L906.1,696.3 L907.6,699.9 L909.1,703.2 L910.6,706.2 L912.1,708.8 L913.6,711.1 L915.1,713.1 L916.6,714.9 L918.1,716.4 L919.6,717.8 L921.1,718.9 L922.6,719.9 L924.1,720.7 L925.6,721.4 L927.1,722.0 L928.6,722.5 L930.1,722.9 L931.6,723.2 L933.1,723.5 L934.6,723.7 L936.1,723.9 L937.6,724.1 L939.1,724.2 L940.6,724.3 L942.1,724.3 L943.6,724.4 L945.1,724.4 L946.6,724.5 L948.1,724.5 L949.6,724.5 L951.1,724.5 L952.6,724.6 L954.1,724.6 L955.6,724.6 L957.1,724.6 L958.6,724.6 L960.1,724.6 L961.6,724.6 L967.6,724.6 L973.6,724.6 L979.6,724.6 L985.6,724.6 L991.6,724.6 L997.6,724.6 L1003.6,724.6 L1009.6,724.6 L1015.6,724.6" stroke="#0000ff" stroke-width="6.25"/>
<path d="M591.1,724.6 L597.1,724.6 L603.1,724.6 L609.1,724.6 L615.1,724.6 L621.1,724.6 L627.1,724.6 L633.1,724.6 L639.1,724.6 L645.1,724.6 L651.1,724.6 L657.1,724.6 L663.1,724.6 L669.1,724.6 L675.1,724.6 L681.1,724.6 L687.1,724.6 L693.1,724.6 L699.1,724.6 L705.1,724.6 L711.1,724.6 L717.1,724.6 L723.1,724.6 L724.6,724.6 L726.1,724.6 L727.6,724.5 L729.1,724.5 L730.6,724.5 L732.1,724.5 L733.6,724.4 L735.1,724.4 L736.6,724.3 L738.1,724.2 L739.6,724.1 L741.1,724.0 L742.6,723.9 L744.1,723.7 L745.6,723.4 L747.1,723.1 L748.6,722.8 L750.1,722.3 L751.6,721.8 L753.1,721.2 L754.6,720.5 L756.1,719.6 L757.6,718.5 L759.1,717.3 L760.6,715.9 L762.1,714.3 L763.6,712.5 L765.1,710.3 L766.6,707.9 L768.1,705.2 L769.6,702.2 L771.1,698.7 L772.6,695.0 L774.1,690.8 L775.6,686.3 L777.1,681.3 L778.6,676.0 L780.1,670.2 L781.6,664.1 L783.1,657.7 L784.6,650.9 L786.1,643.9 L787.6,636.6 L789.1,629.2 L790.6,621.6 L792.1,614.0 L793.6,606.4 L795.1,599.0 L796.6,591.7 L798.1,584.7 L799.6,578.1 L801.1,572.0 L802.6,566.3 L804.1,561.3 L805.6,557.0 L807.1,553.4 L808.6,550.6 L810.1,548.6 L811.6,547.5 L813.1,547.3 L814.6,548.0 L816.1,549.6 L817.6,552.0 L819.1,555.2 L820.6,559.2 L822.1,563.9 L823.6,569.3 L825.1,575.2 L826.6,581.6 L828.1,588.4 L829.6,595.6 L831.1,602.9 L832.6,610.5 L834.1,618.1 L835.6,625.7 L837.1,633.2 L838.6,640.5 L840.1,647.7 L841.6,654.6 L843.1,661.2 L844.6,667.4 L846.1,673.3 L847.6,678.9 L849.1,684.0 L850.6,688.7 L852.1,693.1 L853.6,697.0 L855.1,700.6 L856.6,703.8 L858.1,706.7 L859.6,709.3 L861.1,711.5 L862.6,713.5 L864.1,715.2 L865.6,716.7 L867.1,718.0 L868.6,719.1 L870.1,720.1 L871.6,720.9 L873.1,721.5 L874.6,722.1 L876.1,722.6 L877.6,723.0 L879.1,723.3 L880.6,723.6 L882.1,723.8 L883.6,723.9 L885.1,724.1 L886.6,724.2 L888.1,724.3 L889.6,724.4 L891.1,724.4 L892.6,724.5 L894.1,724.5 L895.6,724.5 L897.1,724.5 L898.6,724.6 L900.1,724.6 L901.6,724.6 L903.1,724.6 L904.6,724.6 L906.1,724.6 L907.6,724.6 L909.1,724.6 L915.1,724.6 L921.1,724.6 L927.1,724.6 L933.1,724.6 L939.1,724.6 L945.1,724.6 L951.1,724.6 L957.1,724.6 L963.1,724.6 L969.1,724.6 L975.1,724.6 L981.1,724.6 L987.1,724.6 L993.1,724.6 L999.1,724.6 L1005.1,724.6 L1011.1,724.6 L1017.1,724.6" stroke="#00ffff" stroke-width="6.25"/>
<path d="M591.1,724.6 L597.1,724.6 L603.1,724.6 L609.1,724.6 L615.1,724.6 L621.1,724.6 L627.1,724.6 L633.1,724.6 L639.1,724.6 L645.1,724.6 L651.1,724.6 L657.1,724.6 L663.1,724.6 L669.1,724.6 L675.1,724.6 L681.1,724.6 L682.6,724.6 L684.1,724.6 L685.6,724.6 L687.1,724.6 L688.6,724.5 L690.1,724.5 L691.6,724.5 L693.1,724.5 L694.6,724.4 L696.1,724.4 L697.6,724.3 L699.1,724.2 L700.6,724.1 L702.1,724.0 L703.6,723.8 L705.1,723.6 L706.6,723.3 L708.1,723.0 L709.6,722.6 L711.1,722.2 L712.6,721.6 L714.1,721.0 L715.6,720.2 L717.1,719.3 L718.6,718.2 L720.1,716.9 L721.6,715.4 L723.1,713.7 L724.6,711.8 L726.1,709.6 L727.6,707.1 L729.1,704.2 L730.6,701.1 L732.1,697.5 L733.6,693.6 L735.1,689.3 L736.6,684.7 L738.1,679.6 L739.6,674.1 L741.1,668.3 L742.6,662.0 L744.1,655.5 L745.6,648.6 L747.1,641.5 L748.6,634.2 L750.1,626.7 L751.6,619.1 L753.1,611.5 L754.6,603.9 L756.1,596.5 L757.6,589.4 L759.1,582.5 L760.6,576.0 L762.1,570.0 L763.6,564.6 L765.1,559.8 L766.6,555.7 L768.1,552.4 L769.6,549.8 L771.1,548.2 L772.6,547.4 L774.1,547.5 L775.6,548.4 L777.1,550.3 L778.6,553.0 L780.1,556.4 L781.6,560.7 L783.1,565.6 L784.6,571.2 L786.1,577.3 L787.6,583.8 L789.1,590.8 L790.6,598.0 L792.1,605.4 L793.6,613.0 L795.1,620.6 L796.6,628.2 L798.1,635.6 L799.6,642.9 L801.1,650.0 L802.6,656.8 L804.1,663.3 L805.6,669.5 L807.1,675.2 L808.6,680.6 L810.1,685.6 L811.6,690.2 L813.1,694.4 L814.6,698.3 L816.1,701.7 L817.6,704.8 L819.1,707.6 L820.6,710.0 L822.1,712.2 L823.6,714.1 L825.1,715.7 L826.6,717.2 L828.1,718.4 L829.6,719.4 L831.1,720.3 L832.6,721.1 L834.1,721.7 L835.6,722.3 L837.1,722.7 L838.6,723.1 L840.1,723.4 L841.6,723.6 L843.1,723.8 L844.6,724.0 L846.1,724.1 L847.6,724.2 L849.1,724.3 L850.6,724.4 L852.1,724.4 L853.6,724.5 L855.1,724.5 L856.6,724.5 L858.1,724.5 L859.6,724.6 L861.1,724.6 L862.6,724.6 L864.1,724.6 L865.6,724.6 L867.1,724.6 L868.6,724.6 L870.1,724.6 L876.1,724.6 L882.1,724.6 L888.1,724.6 L894.1,724.6 L900.1,724.6 L906.1,724.6 L912.1,724.6 L918.1,724.6 L924.1,724.6 L930.1,724.6 L936.1,724.6 L942.1,724.6 L948.1,724.6 L954.1,724.6 L960.1,724.6 L966.1,724.6 L972.1,724.6 L978.1,724.6 L984.1,724.6 L990.1,724.6 L996.1,724.6 L1002.1,724.6 L1008.1,724.6 L1014.1,724.6 L1020.1,724.6" stroke="#008000" stroke-width="6.25"/>
<path d="M591.1,724.6 L597.1,724.6 L603.1,724.6 L609.1,724.6 L615.1,724.6 L621.1,724.6 L627.1,724.6 L633.1,724.6 L639.1,724.6 L645.1,724.6 L651.1,724.6 L652.6,724.6 L654.1,724.6 L655.6,724.6 L657.1,724.6 L658.6,724.6 L660.1,724.5 L661.6,724.5 L663.1,724.5 L664.6,724.5 L666.1,724.4 L667.6,724.4 L669.1,724.3 L670.6,724.2 L672.1,724.1 L673.6,723.9 L675.1,723.8 L676.6,723.6 L678.1,723.3 L679.6,723.0 L681.1,722.6 L682.6,722.1 L684.1,721.6 L685.6,720.9 L687.1,720.1 L688.6,719.2 L690.1,718.1 L691.6,716.8 L693.1,715.3 L694.6,713.6 L696.1,711.7 L697.6,709.4 L699.1,706.9 L700.6,704.0 L702.1,700.8 L703.6,697.3 L705.1,693.3 L706.6,689.0 L708.1,684.3 L709.6,679.2 L711.1,673.7 L712.6,667.9 L714.1,661.6 L715.6,655.0 L717.1,648.2 L718.6,641.0 L720.1,633.7 L721.6,626.2 L723.1,618.6 L724.6,611.0 L726.1,603.4 L727.6,596.0 L729.1,588.9 L730.6,582.0 L732.1,575.6 L733.6,569.6 L735.1,564.2 L736.6,559.5 L738.1,555.4 L739.6,552.2 L741.1,549.7 L742.6,548.1 L744.1,547.3 L745.6,547.5 L747.1,548.5 L748.6,550.4 L750.1,553.2 L751.6,556.7 L753.1,561.0 L754.6,566.0 L756.1,571.6 L757.6,577.7 L759.1,584.3 L760.6,591.2 L762.1,598.5 L763.6,605.9 L765.1,613.5 L766.6,621.1 L768.1,628.7 L769.6,636.1 L771.1,643.4 L772.6,650.5 L774.1,657.3 L775.6,663.7 L777.1,669.9 L778.6,675.6 L780.1,681.0 L781.6,685.9 L783.1,690.5 L784.6,694.7 L786.1,698.5 L787.6,701.9 L789.1,705.0 L790.6,707.8 L792.1,710.2 L793.6,712.3 L795.1,714.2 L796.6,715.8 L798.1,717.3 L799.6,718.5 L801.1,719.5 L802.6,720.4 L804.1,721.1 L805.6,721.8 L807.1,722.3 L808.6,722.7 L810.1,723.1 L811.6,723.4 L813.1,723.6 L814.6,723.8 L816.1,724.0 L817.6,724.1 L819.1,724.2 L820.6,724.3 L822.1,724.4 L823.6,724.4 L825.1,724.5 L826.6,724.5 L828.1,724.5 L829.6,724.5 L831.1,724.6 L832.6,724.6 L834.1,724.6 L835.6,724.6 L837.1,724.6 L838.6,724.6 L840.1,724.6 L846.1,724.6 L852.1,724.6 L858.1,724.6 L864.1,724.6 L870.1,724.6 L876.1,724.6 L882.1,724.6 L888.1,724.6 L894.1,724.6 L900.1,724.6 L906.1,724.6 L912.1,724.6 L918.1,724.6 L924.1,724.6 L930.1,724.6 L936.1,724.6 L942.1,724.6 L948.1,724.6 L954.1,724.6 L960.1,724.6 L966.1,724.6 L972.1,724.6 L978.1,724.6 L984.1,724.6 L990.1,724.6 L996.1,724.6 L1002.1,724.6 L1008.1,724.6 L1014.1,724.6 L1020.1,724.6" stroke="#ffff00" stroke-width="6.25"/>
<path d="M591.1,724.6 L597.1,724.6 L603.1,724.6 L609.1,724.6 L615.1,724.6 L621.1,724.6 L627.1,724.6 L628.6,724.6 L630.1,724.6 L631.6,724.6 L633.1,724.6 L634.6,724.5 L636.1,724.5 L637.6,724.5 L639.1,724.5 L640.6,724.4 L642.1,724.4 L643.6,724.3 L645.1,724.2 L646.6,724.1 L648.1,723.9 L649.6,723.8 L651.1,723.6 L652.6,723.3 L654.1,723.0 L655.6,722.6 L657.1,722.1 L658.6,721.6 L660.1,720.9 L661.6,720.1 L663.1,719.2 L664.6,718.1 L666.1,716.8 L667.6,715.3 L669.1,713.6 L670.6,711.7 L672.1,709.4 L673.6,706.9 L675.1,704.0 L676.6,700.8 L678.1,697.3 L679.6,693.3 L681.1,689.0 L682.6,684.3 L684.1,679.2 L685.6,673.7 L687.1,667.9 L688.6,661.6 L690.1,655.0 L691.6,648.2 L693.1,641.0 L694.6,633.7 L696.1,626.2 L697.6,618.6 L699.1,611.0 L700.6,603.4 L702.1,596.0 L703.6,588.9 L705.1,582.0 L706.6,575.6 L708.1,569.6 L709.6,564.2 L711.1,559.5 L712.6,555.4 L714.1,552.2 L715.6,549.7 L717.1,548.1 L718.6,547.3 L720.1,547.5 L721.6,548.5 L723.1,550.4 L724.6,553.2 L726.1,556.7 L727.6,561.0 L729.1,566.0 L730.6,571.6 L732.1,577.7 L733.6,584.3 L735.1,591.2 L736.6,598.5 L738.1,605.9 L739.6,613.5 L741.1,621.1 L742.6,628.7 L744.1,636.1 L745.6,643.4 L747.1,650.5 L748.6,657.3 L750.1,663.7 L751.6,669.9 L753.1,675.6 L754.6,681.0 L756.1,685.9 L757.6,690.5 L759.1,694.7 L760.6,698.5 L762.1,701.9 L763.6,705.0 L765.1,707.8 L766.6,710.2 L768.1,712.3 L769.6,714.2 L771.1,715.8 L772.6,717.3 L774.1,718.5 L775.6,719.5 L777.1,720.4 L778.6,721.1 L780.1,721.8 L781.6,722.3 L783.1,722.7 L784.6,723.1 L786.1,723.4 L787.6,723.6 L789.1,723.8 L790.6,724.0 L792.1,724.1 L793.6,724.2 L795.1,724.3 L796.6,724.4 L798.1,724.4 L799.6,724.5 L801.1,724.5 L802.6,724.5 L804.1,724.5 L805.6,724.6 L807.1,724.6 L808.6,724.6 L810.1,724.6 L811.6,724.6 L813.1,724.6 L814.6,724.6 L820.6,724.6 L826.6,724.6 L832.6,724.6 L838.6,724.6 L844.6,724.6 L850.6,724.6 L856.6,724.6 L862.6,724.6 L868.6,724.6 L874.6,724.6 L880.6,724.6 L886.6,724.6 L892.6,724.6 L898.6,724.6 L904.6,724.6 L910.6,724.6 L916.6,724.6 L922.6,724.6 L928.6,724.6 L934.6,724.6 L940.6,724.6 L946.6,724.6 L952.6,724.6 L958.6,724.6 L964.6,724.6 L970.6,724.6 L976.6,724.6 L982.6,724.6 L988.6,724.6 L994.6,724.6 L1000.6,724.6 L1006.6,724.6 L1012.6,724.6 L1018.6,724.6" stroke="#ffa500" stroke-width="6.25"/>
<path d="M591.1,724.6 L597.1,724.6 L598.6,724.6 L600.1,724.6 L601.6,724.6 L603.1,724.6 L604.6,724.5 L606.1,724.5 L607.6,724.5 L609.1,724.5 L610.6,724.4 L612.1,724.4 L613.6,724.3 L615.1,724.2 L616.6,724.1 L618.1,724.0 L619.6,723.9 L621.1,723.7 L622.6,723.4 L624.1,723.1 L625.6,722.8 L627.1,722.3 L628.6,721.8 L630.1,721.2 L631.6,720.5 L633.1,719.6 L634.6,718.5 L636.1,717.3 L637.6,715.9 L639.1,714.3 L640.6,712.5 L642.1,710.3 L643.6,707.9 L645.1,705.2 L646.6,702.2 L648.1,698.7 L649.6,695.0 L651.1,690.8 L652.6,686.3 L654.1,681.3 L655.6,676.0 L657.1,670.2 L658.6,664.1 L660.1,657.7 L661.6,650.9 L663.1,643.9 L664.6,636.6 L666.1,629.2 L667.6,621.6 L669.1,614.0 L670.6,606.4 L672.1,599.0 L673.6,591.7 L675.1,584.7 L676.6,578.1 L678.1,572.0 L679.6,566.3 L681.1,561.3 L682.6,557.0 L684.1,553.4 L685.6,550.6 L687.1,548.6 L688.6,547.5 L690.1,547.3 L691.6,548.0 L693.1,549.6 L694.6,552.0 L696.1,555.2 L697.6,559.2 L699.1,563.9 L700.6,569.3 L702.1,575.2 L703.6,581.6 L705.1,588.4 L706.6,595.6 L708.1,602.9 L709.6,610.5 L711.1,618.1 L712.6,625.7 L714.1,633.2 L715.6,640.5 L717.1,647.7 L718.6,654.6 L720.1,661.2 L721.6,667.4 L723.1,673.3 L724.6,678.9 L726.1,684.0 L727.6,688.7 L729.1,693.1 L730.6,697.0 L732.1,700.6 L733.6,703.8 L735.1,706.7 L736.6,709.3 L738.1,711.5 L739.6,713.5 L741.1,715.2 L742.6,716.7 L744.1,718.0 L745.6,719.1 L747.1,720.1 L748.6,720.9 L750.1,721.5 L751.6,722.1 L753.1,722.6 L754.6,723.0 L756.1,723.3 L757.6,723.6 L759.1,723.8 L760.6,723.9 L762.1,724.1 L763.6,724.2 L765.1,724.3 L766.6,724.4 L768.1,724.4 L769.6,724.5 L771.1,724.5 L772.6,724.5 L774.1,724.5 L775.6,724.6 L777.1,724.6 L778.6,724.6 L780.1,724.6 L781.6,724.6 L783.1,724.6 L784.6,724.6 L786.1,724.6 L792.1,724.6 L798.1,724.6 L804.1,724.6 L810.1,724.6 L816.1,724.6 L822.1,724.6 L828.1,724.6 L834.1,724.6 L840.1,724.6 L846.1,724.6 L852.1,724.6 L858.1,724.6 L864.1,724.6 L870.1,724.6 L876.1,724.6 L882.1,724.6 L888.1,724.6 L894.1,724.6 L900.1,724.6 L906.1,724.6 L912.1,724.6 L918.1,724.6 L924.1,724.6 L930.1,724.6 L936.1,724.6 L942.1,724.6 L948.1,724.6 L954.1,724.6 L960.1,724.6 L966.1,724.6 L972.1,724.6 L978.1,724.6 L984.1,724.6 L990.1,724.6 L996.1,724.6 L1002.1,724.6 L1008.1,724.6 L1014.1,724.6 L1020.1,724.6" stroke="#ff0000" stroke-width="6.25"/>
</g>
<rect x="595.1" y="439.2" width="421.40" height="316.40" stroke="#000" stroke-width="4.17" fill="none"/>
<text transform="translate(686.66,788.40) scale(1.1590,1)" font-size="34.92" style="">−</text><text transform="translate(713.83,787.12) scale(1.0154,1)" font-size="34.74" style="stroke:#000;stroke-width:0.40px;stroke-linejoin:round;">2</text>
<text transform="translate(852.29,787.17) scale(1.1549,1)" font-size="34.67" style="stroke:#000;stroke-width:0.60px;stroke-linejoin:round;">0</text>
<text transform="translate(1006.86,787.12) scale(1.0154,1)" font-size="34.74" style="stroke:#000;stroke-width:0.40px;stroke-linejoin:round;">2</text>
<text transform="translate(564.68,736.86) scale(1.1549,1)" font-size="34.67" style="stroke:#000;stroke-width:0.60px;stroke-linejoin:round;">0</text>
<text transform="translate(567.30,612.36) scale(0.9928,1)" font-size="33.74" style="stroke:#000;stroke-width:1.10px;stroke-linejoin:round;">1</text>
<text transform="translate(567.23,488.61) scale(1.0154,1)" font-size="34.74" style="stroke:#000;stroke-width:0.40px;stroke-linejoin:round;">2</text>
<path d="M246.80,1135.5 v-16 M246.80,819.1 v16 M457.50,1135.5 v-16 M457.50,819.1 v16 M88.8,1104.50 h16 M510.2,1104.50 h-16 M88.8,980.40 h16 M510.2,980.40 h-16 M88.8,856.30 h16 M510.2,856.30 h-16" stroke="#000" stroke-width="4.17" fill="none"/>
<g clip-path="url(#clipe)" fill="none" stroke-linejoin="round">
<path d="M84.8,1104.5 L86.3,1104.5 L87.8,1104.5 L89.3,1104.5 L90.8,1104.5 L92.3,1104.5 L93.8,1104.5 L95.3,1104.5 L96.8,1104.5 L98.3,1104.5 L99.8,1104.5 L101.3,1104.4 L102.8,1104.4 L104.3,1104.4 L105.8,1104.4 L107.3,1104.4 L108.8,1104.4 L110.3,1104.4 L111.8,1104.4 L113.3,1104.4 L114.8,1104.4 L116.3,1104.3 L117.8,1104.3 L119.3,1104.3 L120.8,1104.3 L122.3,1104.3 L123.8,1104.2 L125.3,1104.2 L126.8,1104.2 L128.3,1104.2 L129.8,1104.1 L131.3,1104.1 L132.8,1104.0 L134.3,1104.0 L135.8,1103.9 L137.3,1103.9 L138.8,1103.8 L140.3,1103.8 L141.8,1103.7 L143.3,1103.6 L144.8,1103.5 L146.3,1103.5 L147.8,1103.4 L149.3,1103.3 L150.8,1103.1 L152.3,1103.0 L153.8,1102.9 L155.3,1102.8 L156.8,1102.6 L158.3,1102.5 L159.8,1102.3 L161.3,1102.1 L162.8,1101.9 L164.3,1101.7 L165.8,1101.5 L167.3,1101.2 L168.8,1100.9 L170.3,1100.7 L171.8,1100.4 L173.3,1100.0 L174.8,1099.7 L176.3,1099.3 L177.8,1098.9 L179.3,1098.5 L180.8,1098.1 L182.3,1097.6 L183.8,1097.1 L185.3,1096.6 L186.8,1096.1 L188.3,1095.5 L189.8,1094.9 L191.3,1094.2 L192.8,1093.5 L194.3,1092.8 L195.8,1092.0 L197.3,1091.2 L198.8,1090.4 L200.3,1089.5 L201.8,1088.5 L203.3,1087.5 L204.8,1086.5 L206.3,1085.4 L207.8,1084.3 L209.3,1083.1 L210.8,1081.9 L212.3,1080.6 L213.8,1079.2 L215.3,1077.8 L216.8,1076.4 L218.3,1074.9 L219.8,1073.3 L221.3,1071.6 L222.8,1070.0 L224.3,1068.2 L225.8,1066.4 L227.3,1064.5 L228.8,1062.6 L230.3,1060.6 L231.8,1058.5 L233.3,1056.4 L234.8,1054.2 L236.3,1051.9 L237.8,1049.6 L239.3,1047.3 L240.8,1044.8 L242.3,1042.3 L243.8,1039.8 L245.3,1037.2 L246.8,1034.6 L248.3,1031.9 L249.8,1029.1 L251.3,1026.3 L252.8,1023.5 L254.3,1020.6 L255.8,1017.7 L257.3,1014.7 L258.8,1011.7 L260.3,1008.7 L261.8,1005.7 L263.3,1002.6 L264.8,999.6 L266.3,996.5 L267.8,993.4 L269.3,990.2 L270.8,987.1 L272.3,984.0 L273.8,980.9 L275.3,977.8 L276.8,974.8 L278.3,971.7 L279.8,968.7 L281.3,965.7 L282.8,962.8 L284.3,959.9 L285.8,957.0 L287.3,954.2 L288.8,951.5 L290.3,948.8 L291.8,946.2 L293.3,943.7 L294.8,941.3 L296.3,938.9 L297.8,936.6 L299.3,934.4 L300.8,932.3 L302.3,930.4 L303.8,928.5 L305.3,926.7 L306.8,925.0 L308.3,923.5 L309.8,922.1 L311.3,920.8 L312.8,919.6 L314.3,918.6 L315.8,917.7 L317.3,916.9 L318.8,916.3 L320.3,915.8 L321.8,915.4 L323.3,915.2 L324.8,915.1 L326.3,915.2 L327.8,915.3 L329.3,915.7 L330.8,916.1 L332.3,916.7 L333.8,917.5 L335.3,918.3 L336.8,919.3 L338.3,920.5 L339.8,921.7 L341.3,923.1 L342.8,924.6 L344.3,926.3 L345.8,928.0 L347.3,929.8 L348.8,931.8 L350.3,933.9 L351.8,936.0 L353.3,938.3 L354.8,940.6 L356.3,943.0 L357.8,945.5 L359.3,948.1 L360.8,950.8 L362.3,953.5 L363.8,956.3 L365.3,959.1 L366.8,962.0 L368.3,965.0 L369.8,967.9 L371.3,970.9 L372.8,974.0 L374.3,977.0 L375.8,980.1 L377.3,983.2 L378.8,986.3 L380.3,989.4 L381.8,992.5 L383.3,995.6 L384.8,998.7 L386.3,1001.8 L387.8,1004.9 L389.3,1007.9 L390.8,1010.9 L392.3,1013.9 L393.8,1016.9 L395.3,1019.8 L396.8,1022.7 L398.3,1025.6 L399.8,1028.4 L401.3,1031.1 L402.8,1033.8 L404.3,1036.5 L405.8,1039.1 L407.3,1041.7 L408.8,1044.2 L410.3,1046.6 L411.8,1049.0 L413.3,1051.3 L414.8,1053.6 L416.3,1055.8 L417.8,1057.9 L419.3,1060.0 L420.8,1062.0 L422.3,1064.0 L423.8,1065.9 L425.3,1067.7 L426.8,1069.5 L428.3,1071.2 L429.8,1072.9 L431.3,1074.4 L432.8,1076.0 L434.3,1077.5 L435.8,1078.9 L437.3,1080.2 L438.8,1081.5 L440.3,1082.8 L441.8,1084.0 L443.3,1085.1 L444.8,1086.2 L446.3,1087.3 L447.8,1088.3 L449.3,1089.2 L450.8,1090.1 L452.3,1091.0 L453.8,1091.8 L455.3,1092.6 L456.8,1093.3 L458.3,1094.0 L459.8,1094.7 L461.3,1095.3 L462.8,1095.9 L464.3,1096.5 L465.8,1097.0 L467.3,1097.5 L468.8,1098.0 L470.3,1098.4 L471.8,1098.8 L473.3,1099.2 L474.8,1099.6 L476.3,1100.0 L477.8,1100.3 L479.3,1100.6 L480.8,1100.9 L482.3,1101.1 L483.8,1101.4 L485.3,1101.6 L486.8,1101.8 L488.3,1102.0 L489.8,1102.2 L491.3,1102.4 L492.8,1102.6 L494.3,1102.7 L495.8,1102.9 L497.3,1103.0 L498.8,1103.1 L500.3,1103.2 L501.8,1103.3 L503.3,1103.4 L504.8,1103.5 L506.3,1103.6 L507.8,1103.7 L509.3,1103.8 L510.8,1103.8 L512.3,1103.9 L513.8,1103.9" stroke="#800080" stroke-width="6.25"/>
<path d="M84.8,1104.5 L86.3,1104.5 L87.8,1104.5 L89.3,1104.5 L90.8,1104.4 L92.3,1104.4 L93.8,1104.4 L95.3,1104.4 L96.8,1104.4 L98.3,1104.4 L99.8,1104.4 L101.3,1104.4 L102.8,1104.4 L104.3,1104.4 L105.8,1104.4 L107.3,1104.3 L108.8,1104.3 L110.3,1104.3 L111.8,1104.3 L113.3,1104.3 L114.8,1104.2 L116.3,1104.2 L117.8,1104.2 L119.3,1104.1 L120.8,1104.1 L122.3,1104.1 L123.8,1104.0 L125.3,1104.0 L126.8,1103.9 L128.3,1103.9 L129.8,1103.8 L131.3,1103.7 L132.8,1103.7 L134.3,1103.6 L135.8,1103.5 L137.3,1103.4 L138.8,1103.3 L140.3,1103.2 L141.8,1103.1 L143.3,1103.0 L144.8,1102.8 L146.3,1102.7 L147.8,1102.6 L149.3,1102.4 L150.8,1102.2 L152.3,1102.0 L153.8,1101.8 L155.3,1101.6 L156.8,1101.4 L158.3,1101.1 L159.8,1100.8 L161.3,1100.5 L162.8,1100.2 L164.3,1099.9 L165.8,1099.6 L167.3,1099.2 L168.8,1098.8 L170.3,1098.4 L171.8,1097.9 L173.3,1097.4 L174.8,1096.9 L176.3,1096.4 L177.8,1095.8 L179.3,1095.2 L180.8,1094.6 L182.3,1093.9 L183.8,1093.2 L185.3,1092.5 L186.8,1091.7 L188.3,1090.9 L189.8,1090.0 L191.3,1089.1 L192.8,1088.1 L194.3,1087.1 L195.8,1086.1 L197.3,1085.0 L198.8,1083.8 L200.3,1082.6 L201.8,1081.4 L203.3,1080.0 L204.8,1078.7 L206.3,1077.3 L207.8,1075.8 L209.3,1074.2 L210.8,1072.6 L212.3,1071.0 L213.8,1069.3 L215.3,1067.5 L216.8,1065.6 L218.3,1063.7 L219.8,1061.8 L221.3,1059.7 L222.8,1057.7 L224.3,1055.5 L225.8,1053.3 L227.3,1051.0 L228.8,1048.7 L230.3,1046.3 L231.8,1043.8 L233.3,1041.3 L234.8,1038.8 L236.3,1036.2 L237.8,1033.5 L239.3,1030.8 L240.8,1028.0 L242.3,1025.2 L243.8,1022.3 L245.3,1019.4 L246.8,1016.5 L248.3,1013.5 L249.8,1010.5 L251.3,1007.5 L252.8,1004.5 L254.3,1001.4 L255.8,998.3 L257.3,995.2 L258.8,992.1 L260.3,989.0 L261.8,985.9 L263.3,982.8 L264.8,979.7 L266.3,976.6 L267.8,973.6 L269.3,970.5 L270.8,967.5 L272.3,964.6 L273.8,961.6 L275.3,958.7 L276.8,955.9 L278.3,953.1 L279.8,950.4 L281.3,947.8 L282.8,945.2 L284.3,942.7 L285.8,940.3 L287.3,938.0 L288.8,935.7 L290.3,933.6 L291.8,931.5 L293.3,929.6 L294.8,927.8 L296.3,926.0 L297.8,924.4 L299.3,922.9 L300.8,921.6 L302.3,920.3 L303.8,919.2 L305.3,918.2 L306.8,917.4 L308.3,916.6 L309.8,916.1 L311.3,915.6 L312.8,915.3 L314.3,915.1 L315.8,915.1 L317.3,915.2 L318.8,915.5 L320.3,915.8 L321.8,916.4 L323.3,917.0 L324.8,917.8 L326.3,918.7 L327.8,919.8 L329.3,921.0 L330.8,922.3 L332.3,923.7 L333.8,925.3 L335.3,926.9 L336.8,928.7 L338.3,930.6 L339.8,932.6 L341.3,934.7 L342.8,936.9 L344.3,939.2 L345.8,941.6 L347.3,944.0 L348.8,946.6 L350.3,949.2 L351.8,951.9 L353.3,954.6 L354.8,957.4 L356.3,960.3 L357.8,963.2 L359.3,966.1 L360.8,969.1 L362.3,972.1 L363.8,975.2 L365.3,978.3 L366.8,981.3 L368.3,984.4 L369.8,987.5 L371.3,990.7 L372.8,993.8 L374.3,996.9 L375.8,1000.0 L377.3,1003.0 L378.8,1006.1 L380.3,1009.1 L381.8,1012.1 L383.3,1015.1 L384.8,1018.1 L386.3,1021.0 L387.8,1023.9 L389.3,1026.7 L390.8,1029.5 L392.3,1032.2 L393.8,1034.9 L395.3,1037.6 L396.8,1040.1 L398.3,1042.7 L399.8,1045.2 L401.3,1047.6 L402.8,1049.9 L404.3,1052.2 L405.8,1054.5 L407.3,1056.7 L408.8,1058.8 L410.3,1060.8 L411.8,1062.8 L413.3,1064.8 L414.8,1066.6 L416.3,1068.4 L417.8,1070.2 L419.3,1071.9 L420.8,1073.5 L422.3,1075.1 L423.8,1076.6 L425.3,1078.0 L426.8,1079.4 L428.3,1080.8 L429.8,1082.0 L431.3,1083.3 L432.8,1084.4 L434.3,1085.6 L435.8,1086.6 L437.3,1087.7 L438.8,1088.7 L440.3,1089.6 L441.8,1090.5 L443.3,1091.3 L444.8,1092.1 L446.3,1092.9 L447.8,1093.6 L449.3,1094.3 L450.8,1094.9 L452.3,1095.6 L453.8,1096.1 L455.3,1096.7 L456.8,1097.2 L458.3,1097.7 L459.8,1098.2 L461.3,1098.6 L462.8,1099.0 L464.3,1099.4 L465.8,1099.7 L467.3,1100.1 L468.8,1100.4 L470.3,1100.7 L471.8,1101.0 L473.3,1101.2 L474.8,1101.5 L476.3,1101.7 L477.8,1101.9 L479.3,1102.1 L480.8,1102.3 L482.3,1102.5 L483.8,1102.6 L485.3,1102.8 L486.8,1102.9 L488.3,1103.0 L489.8,1103.2 L491.3,1103.3 L492.8,1103.4 L494.3,1103.5 L495.8,1103.6 L497.3,1103.6 L498.8,1103.7 L500.3,1103.8 L501.8,1103.8 L503.3,1103.9 L504.8,1104.0 L506.3,1104.0 L507.8,1104.0 L509.3,1104.1 L510.8,1104.1 L512.3,1104.2 L513.8,1104.2" stroke="#0000ff" stroke-width="6.25"/>
<path d="M84.8,1104.4 L86.3,1104.4 L87.8,1104.4 L89.3,1104.4 L90.8,1104.4 L92.3,1104.4 L93.8,1104.4 L95.3,1104.4 L96.8,1104.4 L98.3,1104.3 L99.8,1104.3 L101.3,1104.3 L102.8,1104.3 L104.3,1104.3 L105.8,1104.2 L107.3,1104.2 L108.8,1104.2 L110.3,1104.2 L111.8,1104.1 L113.3,1104.1 L114.8,1104.0 L116.3,1104.0 L117.8,1104.0 L119.3,1103.9 L120.8,1103.8 L122.3,1103.8 L123.8,1103.7 L125.3,1103.6 L126.8,1103.6 L128.3,1103.5 L129.8,1103.4 L131.3,1103.3 L132.8,1103.2 L134.3,1103.0 L135.8,1102.9 L137.3,1102.8 L138.8,1102.6 L140.3,1102.5 L141.8,1102.3 L143.3,1102.1 L144.8,1101.9 L146.3,1101.7 L147.8,1101.5 L149.3,1101.2 L150.8,1101.0 L152.3,1100.7 L153.8,1100.4 L155.3,1100.1 L156.8,1099.7 L158.3,1099.4 L159.8,1099.0 L161.3,1098.6 L162.8,1098.2 L164.3,1097.7 L165.8,1097.2 L167.3,1096.7 L168.8,1096.1 L170.3,1095.6 L171.8,1094.9 L173.3,1094.3 L174.8,1093.6 L176.3,1092.9 L177.8,1092.1 L179.3,1091.3 L180.8,1090.5 L182.3,1089.6 L183.8,1088.7 L185.3,1087.7 L186.8,1086.6 L188.3,1085.6 L189.8,1084.4 L191.3,1083.3 L192.8,1082.0 L194.3,1080.8 L195.8,1079.4 L197.3,1078.0 L198.8,1076.6 L200.3,1075.1 L201.8,1073.5 L203.3,1071.9 L204.8,1070.2 L206.3,1068.4 L207.8,1066.6 L209.3,1064.8 L210.8,1062.8 L212.3,1060.8 L213.8,1058.8 L215.3,1056.7 L216.8,1054.5 L218.3,1052.2 L219.8,1049.9 L221.3,1047.6 L222.8,1045.2 L224.3,1042.7 L225.8,1040.1 L227.3,1037.6 L228.8,1034.9 L230.3,1032.2 L231.8,1029.5 L233.3,1026.7 L234.8,1023.9 L236.3,1021.0 L237.8,1018.1 L239.3,1015.1 L240.8,1012.1 L242.3,1009.1 L243.8,1006.1 L245.3,1003.0 L246.8,1000.0 L248.3,996.9 L249.8,993.8 L251.3,990.7 L252.8,987.5 L254.3,984.4 L255.8,981.3 L257.3,978.3 L258.8,975.2 L260.3,972.1 L261.8,969.1 L263.3,966.1 L264.8,963.2 L266.3,960.3 L267.8,957.4 L269.3,954.6 L270.8,951.9 L272.3,949.2 L273.8,946.6 L275.3,944.0 L276.8,941.6 L278.3,939.2 L279.8,936.9 L281.3,934.7 L282.8,932.6 L284.3,930.6 L285.8,928.7 L287.3,926.9 L288.8,925.3 L290.3,923.7 L291.8,922.3 L293.3,921.0 L294.8,919.8 L296.3,918.7 L297.8,917.8 L299.3,917.0 L300.8,916.4 L302.3,915.8 L303.8,915.5 L305.3,915.2 L306.8,915.1 L308.3,915.1 L309.8,915.3 L311.3,915.6 L312.8,916.1 L314.3,916.6 L315.8,917.4 L317.3,918.2 L318.8,919.2 L320.3,920.3 L321.8,921.6 L323.3,922.9 L324.8,924.4 L326.3,926.0 L327.8,927.8 L329.3,929.6 L330.8,931.5 L332.3,933.6 L333.8,935.7 L335.3,938.0 L336.8,940.3 L338.3,942.7 L339.8,945.2 L341.3,947.8 L342.8,950.4 L344.3,953.1 L345.8,955.9 L347.3,958.7 L348.8,961.6 L350.3,964.6 L351.8,967.5 L353.3,970.5 L354.8,973.6 L356.3,976.6 L357.8,979.7 L359.3,982.8 L360.8,985.9 L362.3,989.0 L363.8,992.1 L365.3,995.2 L366.8,998.3 L368.3,1001.4 L369.8,1004.5 L371.3,1007.5 L372.8,1010.5 L374.3,1013.5 L375.8,1016.5 L377.3,1019.4 L378.8,1022.3 L380.3,1025.2 L381.8,1028.0 L383.3,1030.8 L384.8,1033.5 L386.3,1036.2 L387.8,1038.8 L389.3,1041.3 L390.8,1043.8 L392.3,1046.3 L393.8,1048.7 L395.3,1051.0 L396.8,1053.3 L398.3,1055.5 L399.8,1057.7 L401.3,1059.7 L402.8,1061.8 L404.3,1063.7 L405.8,1065.6 L407.3,1067.5 L408.8,1069.3 L410.3,1071.0 L411.8,1072.6 L413.3,1074.2 L414.8,1075.8 L416.3,1077.3 L417.8,1078.7 L419.3,1080.0 L420.8,1081.4 L422.3,1082.6 L423.8,1083.8 L425.3,1085.0 L426.8,1086.1 L428.3,1087.1 L429.8,1088.1 L431.3,1089.1 L432.8,1090.0 L434.3,1090.9 L435.8,1091.7 L437.3,1092.5 L438.8,1093.2 L440.3,1093.9 L441.8,1094.6 L443.3,1095.2 L444.8,1095.8 L446.3,1096.4 L447.8,1096.9 L449.3,1097.4 L450.8,1097.9 L452.3,1098.4 L453.8,1098.8 L455.3,1099.2 L456.8,1099.6 L458.3,1099.9 L459.8,1100.2 L461.3,1100.5 L462.8,1100.8 L464.3,1101.1 L465.8,1101.4 L467.3,1101.6 L468.8,1101.8 L470.3,1102.0 L471.8,1102.2 L473.3,1102.4 L474.8,1102.6 L476.3,1102.7 L477.8,1102.8 L479.3,1103.0 L480.8,1103.1 L482.3,1103.2 L483.8,1103.3 L485.3,1103.4 L486.8,1103.5 L488.3,1103.6 L489.8,1103.7 L491.3,1103.7 L492.8,1103.8 L494.3,1103.9 L495.8,1103.9 L497.3,1104.0 L498.8,1104.0 L500.3,1104.1 L501.8,1104.1 L503.3,1104.1 L504.8,1104.2 L506.3,1104.2 L507.8,1104.2 L509.3,1104.3 L510.8,1104.3 L512.3,1104.3 L513.8,1104.3" stroke="#00ffff" stroke-width="6.25"/>
<path d="M84.8,1104.4 L86.3,1104.4 L87.8,1104.4 L89.3,1104.4 L90.8,1104.4 L92.3,1104.3 L93.8,1104.3 L95.3,1104.3 L96.8,1104.3 L98.3,1104.3 L99.8,1104.2 L101.3,1104.2 L102.8,1104.2 L104.3,1104.2 L105.8,1104.1 L107.3,1104.1 L108.8,1104.0 L110.3,1104.0 L111.8,1103.9 L113.3,1103.9 L114.8,1103.8 L116.3,1103.8 L117.8,1103.7 L119.3,1103.6 L120.8,1103.5 L122.3,1103.5 L123.8,1103.4 L125.3,1103.3 L126.8,1103.1 L128.3,1103.0 L129.8,1102.9 L131.3,1102.8 L132.8,1102.6 L134.3,1102.5 L135.8,1102.3 L137.3,1102.1 L138.8,1101.9 L140.3,1101.7 L141.8,1101.5 L143.3,1101.2 L144.8,1100.9 L146.3,1100.7 L147.8,1100.4 L149.3,1100.0 L150.8,1099.7 L152.3,1099.3 L153.8,1098.9 L155.3,1098.5 L156.8,1098.1 L158.3,1097.6 L159.8,1097.1 L161.3,1096.6 L162.8,1096.1 L164.3,1095.5 L165.8,1094.9 L167.3,1094.2 L168.8,1093.5 L170.3,1092.8 L171.8,1092.0 L173.3,1091.2 L174.8,1090.4 L176.3,1089.5 L177.8,1088.5 L179.3,1087.5 L180.8,1086.5 L182.3,1085.4 L183.8,1084.3 L185.3,1083.1 L186.8,1081.9 L188.3,1080.6 L189.8,1079.2 L191.3,1077.8 L192.8,1076.4 L194.3,1074.9 L195.8,1073.3 L197.3,1071.6 L198.8,1070.0 L200.3,1068.2 L201.8,1066.4 L203.3,1064.5 L204.8,1062.6 L206.3,1060.6 L207.8,1058.5 L209.3,1056.4 L210.8,1054.2 L212.3,1051.9 L213.8,1049.6 L215.3,1047.3 L216.8,1044.8 L218.3,1042.3 L219.8,1039.8 L221.3,1037.2 L222.8,1034.6 L224.3,1031.9 L225.8,1029.1 L227.3,1026.3 L228.8,1023.5 L230.3,1020.6 L231.8,1017.7 L233.3,1014.7 L234.8,1011.7 L236.3,1008.7 L237.8,1005.7 L239.3,1002.6 L240.8,999.6 L242.3,996.5 L243.8,993.4 L245.3,990.2 L246.8,987.1 L248.3,984.0 L249.8,980.9 L251.3,977.8 L252.8,974.8 L254.3,971.7 L255.8,968.7 L257.3,965.7 L258.8,962.8 L260.3,959.9 L261.8,957.0 L263.3,954.2 L264.8,951.5 L266.3,948.8 L267.8,946.2 L269.3,943.7 L270.8,941.3 L272.3,938.9 L273.8,936.6 L275.3,934.4 L276.8,932.3 L278.3,930.4 L279.8,928.5 L281.3,926.7 L282.8,925.0 L284.3,923.5 L285.8,922.1 L287.3,920.8 L288.8,919.6 L290.3,918.6 L291.8,917.7 L293.3,916.9 L294.8,916.3 L296.3,915.8 L297.8,915.4 L299.3,915.2 L300.8,915.1 L302.3,915.2 L303.8,915.3 L305.3,915.7 L306.8,916.1 L308.3,916.7 L309.8,917.5 L311.3,918.3 L312.8,919.3 L314.3,920.5 L315.8,921.7 L317.3,923.1 L318.8,924.6 L320.3,926.3 L321.8,928.0 L323.3,929.8 L324.8,931.8 L326.3,933.9 L327.8,936.0 L329.3,938.3 L330.8,940.6 L332.3,943.0 L333.8,945.5 L335.3,948.1 L336.8,950.8 L338.3,953.5 L339.8,956.3 L341.3,959.1 L342.8,962.0 L344.3,965.0 L345.8,967.9 L347.3,970.9 L348.8,974.0 L350.3,977.0 L351.8,980.1 L353.3,983.2 L354.8,986.3 L356.3,989.4 L357.8,992.5 L359.3,995.6 L360.8,998.7 L362.3,1001.8 L363.8,1004.9 L365.3,1007.9 L366.8,1010.9 L368.3,1013.9 L369.8,1016.9 L371.3,1019.8 L372.8,1022.7 L374.3,1025.6 L375.8,1028.4 L377.3,1031.1 L378.8,1033.8 L380.3,1036.5 L381.8,1039.1 L383.3,1041.7 L384.8,1044.2 L386.3,1046.6 L387.8,1049.0 L389.3,1051.3 L390.8,1053.6 L392.3,1055.8 L393.8,1057.9 L395.3,1060.0 L396.8,1062.0 L398.3,1064.0 L399.8,1065.9 L401.3,1067.7 L402.8,1069.5 L404.3,1071.2 L405.8,1072.9 L407.3,1074.4 L408.8,1076.0 L410.3,1077.5 L411.8,1078.9 L413.3,1080.2 L414.8,1081.5 L416.3,1082.8 L417.8,1084.0 L419.3,1085.1 L420.8,1086.2 L422.3,1087.3 L423.8,1088.3 L425.3,1089.2 L426.8,1090.1 L428.3,1091.0 L429.8,1091.8 L431.3,1092.6 L432.8,1093.3 L434.3,1094.0 L435.8,1094.7 L437.3,1095.3 L438.8,1095.9 L440.3,1096.5 L441.8,1097.0 L443.3,1097.5 L444.8,1098.0 L446.3,1098.4 L447.8,1098.8 L449.3,1099.2 L450.8,1099.6 L452.3,1100.0 L453.8,1100.3 L455.3,1100.6 L456.8,1100.9 L458.3,1101.1 L459.8,1101.4 L461.3,1101.6 L462.8,1101.8 L464.3,1102.0 L465.8,1102.2 L467.3,1102.4 L468.8,1102.6 L470.3,1102.7 L471.8,1102.9 L473.3,1103.0 L474.8,1103.1 L476.3,1103.2 L477.8,1103.3 L479.3,1103.4 L480.8,1103.5 L482.3,1103.6 L483.8,1103.7 L485.3,1103.8 L486.8,1103.8 L488.3,1103.9 L489.8,1103.9 L491.3,1104.0 L492.8,1104.0 L494.3,1104.1 L495.8,1104.1 L497.3,1104.1 L498.8,1104.2 L500.3,1104.2 L501.8,1104.2 L503.3,1104.3 L504.8,1104.3 L506.3,1104.3 L507.8,1104.3 L509.3,1104.3 L510.8,1104.4 L512.3,1104.4 L513.8,1104.4" stroke="#008000" stroke-width="6.25"/>
<path d="M84.8,1104.4 L86.3,1104.4 L87.8,1104.3 L89.3,1104.3 L90.8,1104.3 L92.3,1104.3 L93.8,1104.3 L95.3,1104.2 L96.8,1104.2 L98.3,1104.2 L99.8,1104.2 L101.3,1104.1 L102.8,1104.1 L104.3,1104.0 L105.8,1104.0 L107.3,1104.0 L108.8,1103.9 L110.3,1103.8 L111.8,1103.8 L113.3,1103.7 L114.8,1103.6 L116.3,1103.6 L117.8,1103.5 L119.3,1103.4 L120.8,1103.3 L122.3,1103.2 L123.8,1103.0 L125.3,1102.9 L126.8,1102.8 L128.3,1102.6 L129.8,1102.5 L131.3,1102.3 L132.8,1102.1 L134.3,1101.9 L135.8,1101.7 L137.3,1101.5 L138.8,1101.2 L140.3,1101.0 L141.8,1100.7 L143.3,1100.4 L144.8,1100.1 L146.3,1099.7 L147.8,1099.4 L149.3,1099.0 L150.8,1098.6 L152.3,1098.2 L153.8,1097.7 L155.3,1097.2 L156.8,1096.7 L158.3,1096.1 L159.8,1095.6 L161.3,1094.9 L162.8,1094.3 L164.3,1093.6 L165.8,1092.9 L167.3,1092.1 L168.8,1091.3 L170.3,1090.5 L171.8,1089.6 L173.3,1088.7 L174.8,1087.7 L176.3,1086.6 L177.8,1085.6 L179.3,1084.4 L180.8,1083.3 L182.3,1082.0 L183.8,1080.8 L185.3,1079.4 L186.8,1078.0 L188.3,1076.6 L189.8,1075.1 L191.3,1073.5 L192.8,1071.9 L194.3,1070.2 L195.8,1068.4 L197.3,1066.6 L198.8,1064.8 L200.3,1062.8 L201.8,1060.8 L203.3,1058.8 L204.8,1056.7 L206.3,1054.5 L207.8,1052.2 L209.3,1049.9 L210.8,1047.6 L212.3,1045.2 L213.8,1042.7 L215.3,1040.1 L216.8,1037.6 L218.3,1034.9 L219.8,1032.2 L221.3,1029.5 L222.8,1026.7 L224.3,1023.9 L225.8,1021.0 L227.3,1018.1 L228.8,1015.1 L230.3,1012.1 L231.8,1009.1 L233.3,1006.1 L234.8,1003.0 L236.3,1000.0 L237.8,996.9 L239.3,993.8 L240.8,990.7 L242.3,987.5 L243.8,984.4 L245.3,981.3 L246.8,978.3 L248.3,975.2 L249.8,972.1 L251.3,969.1 L252.8,966.1 L254.3,963.2 L255.8,960.3 L257.3,957.4 L258.8,954.6 L260.3,951.9 L261.8,949.2 L263.3,946.6 L264.8,944.0 L266.3,941.6 L267.8,939.2 L269.3,936.9 L270.8,934.7 L272.3,932.6 L273.8,930.6 L275.3,928.7 L276.8,926.9 L278.3,925.3 L279.8,923.7 L281.3,922.3 L282.8,921.0 L284.3,919.8 L285.8,918.7 L287.3,917.8 L288.8,917.0 L290.3,916.4 L291.8,915.8 L293.3,915.5 L294.8,915.2 L296.3,915.1 L297.8,915.1 L299.3,915.3 L300.8,915.6 L302.3,916.1 L303.8,916.6 L305.3,917.4 L306.8,918.2 L308.3,919.2 L309.8,920.3 L311.3,921.6 L312.8,922.9 L314.3,924.4 L315.8,926.0 L317.3,927.8 L318.8,929.6 L320.3,931.5 L321.8,933.6 L323.3,935.7 L324.8,938.0 L326.3,940.3 L327.8,942.7 L329.3,945.2 L330.8,947.8 L332.3,950.4 L333.8,953.1 L335.3,955.9 L336.8,958.7 L338.3,961.6 L339.8,964.6 L341.3,967.5 L342.8,970.5 L344.3,973.6 L345.8,976.6 L347.3,979.7 L348.8,982.8 L350.3,985.9 L351.8,989.0 L353.3,992.1 L354.8,995.2 L356.3,998.3 L357.8,1001.4 L359.3,1004.5 L360.8,1007.5 L362.3,1010.5 L363.8,1013.5 L365.3,1016.5 L366.8,1019.4 L368.3,1022.3 L369.8,1025.2 L371.3,1028.0 L372.8,1030.8 L374.3,1033.5 L375.8,1036.2 L377.3,1038.8 L378.8,1041.3 L380.3,1043.8 L381.8,1046.3 L383.3,1048.7 L384.8,1051.0 L386.3,1053.3 L387.8,1055.5 L389.3,1057.7 L390.8,1059.7 L392.3,1061.8 L393.8,1063.7 L395.3,1065.6 L396.8,1067.5 L398.3,1069.3 L399.8,1071.0 L401.3,1072.6 L402.8,1074.2 L404.3,1075.8 L405.8,1077.3 L407.3,1078.7 L408.8,1080.0 L410.3,1081.4 L411.8,1082.6 L413.3,1083.8 L414.8,1085.0 L416.3,1086.1 L417.8,1087.1 L419.3,1088.1 L420.8,1089.1 L422.3,1090.0 L423.8,1090.9 L425.3,1091.7 L426.8,1092.5 L428.3,1093.2 L429.8,1093.9 L431.3,1094.6 L432.8,1095.2 L434.3,1095.8 L435.8,1096.4 L437.3,1096.9 L438.8,1097.4 L440.3,1097.9 L441.8,1098.4 L443.3,1098.8 L444.8,1099.2 L446.3,1099.6 L447.8,1099.9 L449.3,1100.2 L450.8,1100.5 L452.3,1100.8 L453.8,1101.1 L455.3,1101.4 L456.8,1101.6 L458.3,1101.8 L459.8,1102.0 L461.3,1102.2 L462.8,1102.4 L464.3,1102.6 L465.8,1102.7 L467.3,1102.8 L468.8,1103.0 L470.3,1103.1 L471.8,1103.2 L473.3,1103.3 L474.8,1103.4 L476.3,1103.5 L477.8,1103.6 L479.3,1103.7 L480.8,1103.7 L482.3,1103.8 L483.8,1103.9 L485.3,1103.9 L486.8,1104.0 L488.3,1104.0 L489.8,1104.1 L491.3,1104.1 L492.8,1104.1 L494.3,1104.2 L495.8,1104.2 L497.3,1104.2 L498.8,1104.3 L500.3,1104.3 L501.8,1104.3 L503.3,1104.3 L504.8,1104.3 L506.3,1104.4 L507.8,1104.4 L509.3,1104.4 L510.8,1104.4 L512.3,1104.4 L513.8,1104.4" stroke="#ffff00" stroke-width="6.25"/>
<path d="M84.8,1104.3 L86.3,1104.3 L87.8,1104.3 L89.3,1104.3 L90.8,1104.2 L92.3,1104.2 L93.8,1104.2 L95.3,1104.2 L96.8,1104.1 L98.3,1104.1 L99.8,1104.1 L101.3,1104.0 L102.8,1104.0 L104.3,1103.9 L105.8,1103.8 L107.3,1103.8 L108.8,1103.7 L110.3,1103.6 L111.8,1103.6 L113.3,1103.5 L114.8,1103.4 L116.3,1103.3 L117.8,1103.2 L119.3,1103.1 L120.8,1102.9 L122.3,1102.8 L123.8,1102.7 L125.3,1102.5 L126.8,1102.3 L128.3,1102.1 L129.8,1101.9 L131.3,1101.7 L132.8,1101.5 L134.3,1101.3 L135.8,1101.0 L137.3,1100.7 L138.8,1100.4 L140.3,1100.1 L141.8,1099.8 L143.3,1099.4 L144.8,1099.1 L146.3,1098.6 L147.8,1098.2 L149.3,1097.8 L150.8,1097.3 L152.3,1096.8 L153.8,1096.2 L155.3,1095.6 L156.8,1095.0 L158.3,1094.4 L159.8,1093.7 L161.3,1093.0 L162.8,1092.2 L164.3,1091.4 L165.8,1090.6 L167.3,1089.7 L168.8,1088.8 L170.3,1087.8 L171.8,1086.8 L173.3,1085.7 L174.8,1084.6 L176.3,1083.4 L177.8,1082.2 L179.3,1080.9 L180.8,1079.6 L182.3,1078.2 L183.8,1076.8 L185.3,1075.3 L186.8,1073.7 L188.3,1072.1 L189.8,1070.4 L191.3,1068.7 L192.8,1066.9 L194.3,1065.0 L195.8,1063.1 L197.3,1061.1 L198.8,1059.1 L200.3,1056.9 L201.8,1054.8 L203.3,1052.5 L204.8,1050.2 L206.3,1047.9 L207.8,1045.5 L209.3,1043.0 L210.8,1040.5 L212.3,1037.9 L213.8,1035.3 L215.3,1032.6 L216.8,1029.9 L218.3,1027.1 L219.8,1024.2 L221.3,1021.4 L222.8,1018.5 L224.3,1015.5 L225.8,1012.5 L227.3,1009.5 L228.8,1006.5 L230.3,1003.5 L231.8,1000.4 L233.3,997.3 L234.8,994.2 L236.3,991.1 L237.8,988.0 L239.3,984.9 L240.8,981.8 L242.3,978.7 L243.8,975.6 L245.3,972.5 L246.8,969.5 L248.3,966.5 L249.8,963.6 L251.3,960.7 L252.8,957.8 L254.3,955.0 L255.8,952.2 L257.3,949.5 L258.8,946.9 L260.3,944.4 L261.8,941.9 L263.3,939.5 L264.8,937.2 L266.3,935.0 L267.8,932.9 L269.3,930.9 L270.8,929.0 L272.3,927.2 L273.8,925.5 L275.3,923.9 L276.8,922.5 L278.3,921.1 L279.8,919.9 L281.3,918.9 L282.8,917.9 L284.3,917.1 L285.8,916.4 L287.3,915.9 L288.8,915.5 L290.3,915.2 L291.8,915.1 L293.3,915.1 L294.8,915.3 L296.3,915.6 L297.8,916.0 L299.3,916.6 L300.8,917.3 L302.3,918.1 L303.8,919.1 L305.3,920.2 L306.8,921.4 L308.3,922.7 L309.8,924.2 L311.3,925.8 L312.8,927.5 L314.3,929.3 L315.8,931.3 L317.3,933.3 L318.8,935.4 L320.3,937.7 L321.8,940.0 L323.3,942.4 L324.8,944.9 L326.3,947.4 L327.8,950.1 L329.3,952.8 L330.8,955.5 L332.3,958.4 L333.8,961.2 L335.3,964.2 L336.8,967.1 L338.3,970.1 L339.8,973.2 L341.3,976.2 L342.8,979.3 L344.3,982.4 L345.8,985.5 L347.3,988.6 L348.8,991.7 L350.3,994.8 L351.8,997.9 L353.3,1001.0 L354.8,1004.1 L356.3,1007.1 L357.8,1010.1 L359.3,1013.1 L360.8,1016.1 L362.3,1019.1 L363.8,1022.0 L365.3,1024.8 L366.8,1027.6 L368.3,1030.4 L369.8,1033.1 L371.3,1035.8 L372.8,1038.4 L374.3,1041.0 L375.8,1043.5 L377.3,1046.0 L378.8,1048.4 L380.3,1050.7 L381.8,1053.0 L383.3,1055.2 L384.8,1057.4 L386.3,1059.5 L387.8,1061.5 L389.3,1063.5 L390.8,1065.4 L392.3,1067.2 L393.8,1069.0 L395.3,1070.8 L396.8,1072.4 L398.3,1074.0 L399.8,1075.6 L401.3,1077.1 L402.8,1078.5 L404.3,1079.9 L405.8,1081.2 L407.3,1082.5 L408.8,1083.7 L410.3,1084.8 L411.8,1085.9 L413.3,1087.0 L414.8,1088.0 L416.3,1089.0 L417.8,1089.9 L419.3,1090.8 L420.8,1091.6 L422.3,1092.4 L423.8,1093.1 L425.3,1093.8 L426.8,1094.5 L428.3,1095.2 L429.8,1095.8 L431.3,1096.3 L432.8,1096.9 L434.3,1097.4 L435.8,1097.9 L437.3,1098.3 L438.8,1098.7 L440.3,1099.1 L441.8,1099.5 L443.3,1099.9 L444.8,1100.2 L446.3,1100.5 L447.8,1100.8 L449.3,1101.1 L450.8,1101.3 L452.3,1101.6 L453.8,1101.8 L455.3,1102.0 L456.8,1102.2 L458.3,1102.4 L459.8,1102.5 L461.3,1102.7 L462.8,1102.8 L464.3,1103.0 L465.8,1103.1 L467.3,1103.2 L468.8,1103.3 L470.3,1103.4 L471.8,1103.5 L473.3,1103.6 L474.8,1103.7 L476.3,1103.7 L477.8,1103.8 L479.3,1103.9 L480.8,1103.9 L482.3,1104.0 L483.8,1104.0 L485.3,1104.1 L486.8,1104.1 L488.3,1104.1 L489.8,1104.2 L491.3,1104.2 L492.8,1104.2 L494.3,1104.3 L495.8,1104.3 L497.3,1104.3 L498.8,1104.3 L500.3,1104.3 L501.8,1104.4 L503.3,1104.4 L504.8,1104.4 L506.3,1104.4 L507.8,1104.4 L509.3,1104.4 L510.8,1104.4 L512.3,1104.4 L513.8,1104.4" stroke="#ffa500" stroke-width="6.25"/>
<path d="M84.8,1104.3 L86.3,1104.3 L87.8,1104.2 L89.3,1104.2 L90.8,1104.2 L92.3,1104.1 L93.8,1104.1 L95.3,1104.1 L96.8,1104.0 L98.3,1104.0 L99.8,1103.9 L101.3,1103.9 L102.8,1103.8 L104.3,1103.7 L105.8,1103.7 L107.3,1103.6 L108.8,1103.5 L110.3,1103.4 L111.8,1103.3 L113.3,1103.2 L114.8,1103.1 L116.3,1103.0 L117.8,1102.9 L119.3,1102.7 L120.8,1102.6 L122.3,1102.4 L123.8,1102.2 L125.3,1102.0 L126.8,1101.8 L128.3,1101.6 L129.8,1101.4 L131.3,1101.1 L132.8,1100.9 L134.3,1100.6 L135.8,1100.3 L137.3,1099.9 L138.8,1099.6 L140.3,1099.2 L141.8,1098.8 L143.3,1098.4 L144.8,1097.9 L146.3,1097.5 L147.8,1097.0 L149.3,1096.4 L150.8,1095.9 L152.3,1095.3 L153.8,1094.6 L155.3,1094.0 L156.8,1093.3 L158.3,1092.5 L159.8,1091.8 L161.3,1090.9 L162.8,1090.1 L164.3,1089.2 L165.8,1088.2 L167.3,1087.2 L168.8,1086.1 L170.3,1085.1 L171.8,1083.9 L173.3,1082.7 L174.8,1081.4 L176.3,1080.1 L177.8,1078.8 L179.3,1077.4 L180.8,1075.9 L182.3,1074.3 L183.8,1072.7 L185.3,1071.1 L186.8,1069.4 L188.3,1067.6 L189.8,1065.8 L191.3,1063.9 L192.8,1061.9 L194.3,1059.9 L195.8,1057.8 L197.3,1055.6 L198.8,1053.4 L200.3,1051.2 L201.8,1048.8 L203.3,1046.5 L204.8,1044.0 L206.3,1041.5 L207.8,1038.9 L209.3,1036.3 L210.8,1033.7 L212.3,1031.0 L213.8,1028.2 L215.3,1025.4 L216.8,1022.5 L218.3,1019.6 L219.8,1016.7 L221.3,1013.7 L222.8,1010.7 L224.3,1007.7 L225.8,1004.7 L227.3,1001.6 L228.8,998.5 L230.3,995.4 L231.8,992.3 L233.3,989.2 L234.8,986.1 L236.3,983.0 L237.8,979.9 L239.3,976.8 L240.8,973.8 L242.3,970.7 L243.8,967.7 L245.3,964.8 L246.8,961.8 L248.3,958.9 L249.8,956.1 L251.3,953.3 L252.8,950.6 L254.3,948.0 L255.8,945.4 L257.3,942.9 L258.8,940.5 L260.3,938.1 L261.8,935.9 L263.3,933.7 L264.8,931.7 L266.3,929.7 L267.8,927.9 L269.3,926.1 L270.8,924.5 L272.3,923.0 L273.8,921.7 L275.3,920.4 L276.8,919.3 L278.3,918.3 L279.8,917.4 L281.3,916.7 L282.8,916.1 L284.3,915.6 L285.8,915.3 L287.3,915.1 L288.8,915.1 L290.3,915.2 L291.8,915.4 L293.3,915.8 L294.8,916.3 L296.3,917.0 L297.8,917.7 L299.3,918.7 L300.8,919.7 L302.3,920.9 L303.8,922.2 L305.3,923.6 L306.8,925.2 L308.3,926.8 L309.8,928.6 L311.3,930.5 L312.8,932.5 L314.3,934.6 L315.8,936.8 L317.3,939.0 L318.8,941.4 L320.3,943.9 L321.8,946.4 L323.3,949.0 L324.8,951.7 L326.3,954.4 L327.8,957.2 L329.3,960.1 L330.8,963.0 L332.3,965.9 L333.8,968.9 L335.3,971.9 L336.8,975.0 L338.3,978.1 L339.8,981.1 L341.3,984.2 L342.8,987.3 L344.3,990.5 L345.8,993.6 L347.3,996.7 L348.8,999.8 L350.3,1002.8 L351.8,1005.9 L353.3,1008.9 L354.8,1011.9 L356.3,1014.9 L357.8,1017.9 L359.3,1020.8 L360.8,1023.7 L362.3,1026.5 L363.8,1029.3 L365.3,1032.0 L366.8,1034.7 L368.3,1037.4 L369.8,1040.0 L371.3,1042.5 L372.8,1045.0 L374.3,1047.4 L375.8,1049.8 L377.3,1052.1 L378.8,1054.3 L380.3,1056.5 L381.8,1058.6 L383.3,1060.7 L384.8,1062.7 L386.3,1064.6 L387.8,1066.5 L389.3,1068.3 L390.8,1070.1 L392.3,1071.8 L393.8,1073.4 L395.3,1075.0 L396.8,1076.5 L398.3,1077.9 L399.8,1079.3 L401.3,1080.7 L402.8,1082.0 L404.3,1083.2 L405.8,1084.4 L407.3,1085.5 L408.8,1086.6 L410.3,1087.6 L411.8,1088.6 L413.3,1089.5 L414.8,1090.4 L416.3,1091.3 L417.8,1092.1 L419.3,1092.8 L420.8,1093.6 L422.3,1094.2 L423.8,1094.9 L425.3,1095.5 L426.8,1096.1 L428.3,1096.7 L429.8,1097.2 L431.3,1097.7 L432.8,1098.1 L434.3,1098.6 L435.8,1099.0 L437.3,1099.4 L438.8,1099.7 L440.3,1100.1 L441.8,1100.4 L443.3,1100.7 L444.8,1101.0 L446.3,1101.2 L447.8,1101.5 L449.3,1101.7 L450.8,1101.9 L452.3,1102.1 L453.8,1102.3 L455.3,1102.5 L456.8,1102.6 L458.3,1102.8 L459.8,1102.9 L461.3,1103.0 L462.8,1103.2 L464.3,1103.3 L465.8,1103.4 L467.3,1103.5 L468.8,1103.6 L470.3,1103.6 L471.8,1103.7 L473.3,1103.8 L474.8,1103.8 L476.3,1103.9 L477.8,1103.9 L479.3,1104.0 L480.8,1104.0 L482.3,1104.1 L483.8,1104.1 L485.3,1104.2 L486.8,1104.2 L488.3,1104.2 L489.8,1104.2 L491.3,1104.3 L492.8,1104.3 L494.3,1104.3 L495.8,1104.3 L497.3,1104.3 L498.8,1104.4 L500.3,1104.4 L501.8,1104.4 L503.3,1104.4 L504.8,1104.4 L506.3,1104.4 L507.8,1104.4 L509.3,1104.4 L510.8,1104.4 L512.3,1104.4 L513.8,1104.5" stroke="#ff0000" stroke-width="6.25"/>
</g>
<rect x="88.8" y="819.1" width="421.40" height="316.40" stroke="#000" stroke-width="4.17" fill="none"/>
<text transform="translate(222.98,1168.30) scale(1.1590,1)" font-size="34.92" style="">−</text><text transform="translate(250.70,1166.67) scale(0.9928,1)" font-size="33.74" style="stroke:#000;stroke-width:1.10px;stroke-linejoin:round;">1</text>
<text transform="translate(446.39,1167.07) scale(1.1549,1)" font-size="34.67" style="stroke:#000;stroke-width:0.60px;stroke-linejoin:round;">0</text>
<text transform="translate(58.38,1116.76) scale(1.1549,1)" font-size="34.67" style="stroke:#000;stroke-width:0.60px;stroke-linejoin:round;">0</text>
<text transform="translate(61.00,992.26) scale(0.9928,1)" font-size="33.74" style="stroke:#000;stroke-width:1.10px;stroke-linejoin:round;">1</text>
<text transform="translate(60.93,868.51) scale(1.0154,1)" font-size="34.74" style="stroke:#000;stroke-width:0.40px;stroke-linejoin:round;">2</text>
<path d="M671.84,1135.5 v-16 M671.84,819.1 v16 M825.00,1135.5 v-16 M825.00,819.1 v16 M978.16,1135.5 v-16 M978.16,819.1 v16 M595.1,1104.50 h16 M1016.5,1104.50 h-16 M595.1,980.40 h16 M1016.5,980.40 h-16 M595.1,856.30 h16 M1016.5,856.30 h-16" stroke="#000" stroke-width="4.17" fill="none"/>
<g clip-path="url(#clipf)" fill="none" stroke-linejoin="round">
<path d="M591.1,1104.5 L597.1,1104.5 L603.1,1104.5 L609.1,1104.5 L615.1,1104.5 L621.1,1104.5 L627.1,1104.5 L633.1,1104.5 L639.1,1104.5 L645.1,1104.5 L651.1,1104.5 L657.1,1104.5 L663.1,1104.5 L669.1,1104.5 L675.1,1104.5 L681.1,1104.5 L687.1,1104.5 L693.1,1104.5 L699.1,1104.5 L705.1,1104.5 L711.1,1104.5 L717.1,1104.5 L723.1,1104.5 L729.1,1104.5 L735.1,1104.5 L741.1,1104.5 L747.1,1104.5 L753.1,1104.5 L759.1,1104.5 L765.1,1104.5 L771.1,1104.5 L777.1,1104.5 L783.1,1104.5 L784.6,1104.5 L786.1,1104.5 L787.6,1104.5 L789.1,1104.5 L790.6,1104.5 L792.1,1104.4 L793.6,1104.4 L795.1,1104.4 L796.6,1104.3 L798.1,1104.3 L799.6,1104.2 L801.1,1104.2 L802.6,1104.0 L804.1,1103.9 L805.6,1103.8 L807.1,1103.5 L808.6,1103.3 L810.1,1103.0 L811.6,1102.6 L813.1,1102.1 L814.6,1101.5 L816.1,1100.8 L817.6,1100.0 L819.1,1099.0 L820.6,1097.8 L822.1,1096.4 L823.6,1094.8 L825.1,1092.9 L826.6,1090.7 L828.1,1088.2 L829.6,1085.4 L831.1,1082.2 L832.6,1078.5 L834.1,1074.5 L835.6,1070.0 L837.1,1065.0 L838.6,1059.6 L840.1,1053.7 L841.6,1047.4 L843.1,1040.6 L844.6,1033.4 L846.1,1025.9 L847.6,1018.0 L849.1,1009.8 L850.6,1001.4 L852.1,993.0 L853.6,984.4 L855.1,975.9 L856.6,967.6 L858.1,959.6 L859.6,951.9 L861.1,944.6 L862.6,938.0 L864.1,932.0 L865.6,926.8 L867.1,922.4 L868.6,918.9 L870.1,916.4 L871.6,915.0 L873.1,914.5 L874.6,915.1 L876.1,916.7 L877.6,919.3 L879.1,922.9 L880.6,927.4 L882.1,932.7 L883.6,938.8 L885.1,945.6 L886.6,952.9 L888.1,960.6 L889.6,968.7 L891.1,977.1 L892.6,985.6 L894.1,994.1 L895.6,1002.6 L897.1,1010.9 L898.6,1019.1 L900.1,1026.9 L901.6,1034.4 L903.1,1041.6 L904.6,1048.3 L906.1,1054.5 L907.6,1060.4 L909.1,1065.7 L910.6,1070.6 L912.1,1075.0 L913.6,1079.0 L915.1,1082.6 L916.6,1085.8 L918.1,1088.6 L919.6,1091.0 L921.1,1093.2 L922.6,1095.0 L924.1,1096.6 L925.6,1098.0 L927.1,1099.1 L928.6,1100.1 L930.1,1100.9 L931.6,1101.6 L933.1,1102.2 L934.6,1102.6 L936.1,1103.0 L937.6,1103.3 L939.1,1103.6 L940.6,1103.8 L942.1,1103.9 L943.6,1104.1 L945.1,1104.2 L946.6,1104.2 L948.1,1104.3 L949.6,1104.4 L951.1,1104.4 L952.6,1104.4 L954.1,1104.4 L955.6,1104.5 L957.1,1104.5 L958.6,1104.5 L960.1,1104.5 L961.6,1104.5 L963.1,1104.5 L964.6,1104.5 L970.6,1104.5 L976.6,1104.5 L982.6,1104.5 L988.6,1104.5 L994.6,1104.5 L1000.6,1104.5 L1006.6,1104.5 L1012.6,1104.5 L1018.6,1104.5" stroke="#800080" stroke-width="6.25"/>
<path d="M591.1,1104.5 L597.1,1104.5 L603.1,1104.5 L609.1,1104.5 L615.1,1104.5 L621.1,1104.5 L627.1,1104.5 L633.1,1104.5 L639.1,1104.5 L645.1,1104.5 L651.1,1104.5 L657.1,1104.5 L663.1,1104.5 L669.1,1104.5 L675.1,1104.5 L681.1,1104.5 L687.1,1104.5 L693.1,1104.5 L699.1,1104.5 L705.1,1104.5 L711.1,1104.5 L717.1,1104.5 L723.1,1104.5 L729.1,1104.5 L735.1,1104.5 L736.6,1104.5 L738.1,1104.5 L739.6,1104.5 L741.1,1104.5 L742.6,1104.5 L744.1,1104.4 L745.6,1104.4 L747.1,1104.4 L748.6,1104.4 L750.1,1104.3 L751.6,1104.3 L753.1,1104.2 L754.6,1104.1 L756.1,1104.0 L757.6,1103.9 L759.1,1103.7 L760.6,1103.5 L762.1,1103.2 L763.6,1102.9 L765.1,1102.5 L766.6,1102.0 L768.1,1101.4 L769.6,1100.6 L771.1,1099.7 L772.6,1098.7 L774.1,1097.5 L775.6,1096.0 L777.1,1094.3 L778.6,1092.4 L780.1,1090.1 L781.6,1087.5 L783.1,1084.6 L784.6,1081.2 L786.1,1077.5 L787.6,1073.3 L789.1,1068.7 L790.6,1063.6 L792.1,1058.1 L793.6,1052.1 L795.1,1045.6 L796.6,1038.7 L798.1,1031.5 L799.6,1023.8 L801.1,1015.8 L802.6,1007.6 L804.1,999.2 L805.6,990.7 L807.1,982.2 L808.6,973.7 L810.1,965.4 L811.6,957.5 L813.1,949.9 L814.6,942.8 L816.1,936.3 L817.6,930.5 L819.1,925.5 L820.6,921.4 L822.1,918.2 L823.6,915.9 L825.1,914.7 L826.6,914.6 L828.1,915.4 L829.6,917.3 L831.1,920.2 L832.6,924.0 L834.1,928.8 L835.6,934.3 L837.1,940.6 L838.6,947.5 L840.1,954.9 L841.6,962.7 L843.1,970.9 L844.6,979.3 L846.1,987.8 L847.6,996.4 L849.1,1004.8 L850.6,1013.1 L852.1,1021.2 L853.6,1028.9 L855.1,1036.4 L856.6,1043.4 L858.1,1050.0 L859.6,1056.1 L861.1,1061.8 L862.6,1067.1 L864.1,1071.8 L865.6,1076.2 L867.1,1080.0 L868.6,1083.5 L870.1,1086.6 L871.6,1089.3 L873.1,1091.6 L874.6,1093.7 L876.1,1095.5 L877.6,1097.0 L879.1,1098.3 L880.6,1099.4 L882.1,1100.3 L883.6,1101.1 L885.1,1101.8 L886.6,1102.3 L888.1,1102.7 L889.6,1103.1 L891.1,1103.4 L892.6,1103.6 L894.1,1103.8 L895.6,1104.0 L897.1,1104.1 L898.6,1104.2 L900.1,1104.3 L901.6,1104.3 L903.1,1104.4 L904.6,1104.4 L906.1,1104.4 L907.6,1104.4 L909.1,1104.5 L910.6,1104.5 L912.1,1104.5 L913.6,1104.5 L915.1,1104.5 L916.6,1104.5 L918.1,1104.5 L924.1,1104.5 L930.1,1104.5 L936.1,1104.5 L942.1,1104.5 L948.1,1104.5 L954.1,1104.5 L960.1,1104.5 L966.1,1104.5 L972.1,1104.5 L978.1,1104.5 L984.1,1104.5 L990.1,1104.5 L996.1,1104.5 L1002.1,1104.5 L1008.1,1104.5 L1014.1,1104.5 L1020.1,1104.5" stroke="#0000ff" stroke-width="6.25"/>
<path d="M591.1,1104.5 L597.1,1104.5 L603.1,1104.5 L609.1,1104.5 L615.1,1104.5 L621.1,1104.5 L627.1,1104.5 L633.1,1104.5 L639.1,1104.5 L645.1,1104.5 L651.1,1104.5 L657.1,1104.5 L663.1,1104.5 L669.1,1104.5 L675.1,1104.5 L681.1,1104.5 L687.1,1104.5 L693.1,1104.5 L699.1,1104.5 L700.6,1104.5 L702.1,1104.4 L703.6,1104.4 L705.1,1104.4 L706.6,1104.4 L708.1,1104.3 L709.6,1104.3 L711.1,1104.2 L712.6,1104.1 L714.1,1104.0 L715.6,1103.9 L717.1,1103.7 L718.6,1103.5 L720.1,1103.3 L721.6,1102.9 L723.1,1102.5 L724.6,1102.0 L726.1,1101.4 L727.6,1100.7 L729.1,1099.9 L730.6,1098.9 L732.1,1097.6 L733.6,1096.2 L735.1,1094.6 L736.6,1092.6 L738.1,1090.4 L739.6,1087.9 L741.1,1085.0 L742.6,1081.7 L744.1,1078.0 L745.6,1073.9 L747.1,1069.3 L748.6,1064.3 L750.1,1058.9 L751.6,1052.9 L753.1,1046.5 L754.6,1039.7 L756.1,1032.4 L757.6,1024.8 L759.1,1016.9 L760.6,1008.7 L762.1,1000.3 L763.6,991.8 L765.1,983.3 L766.6,974.8 L768.1,966.5 L769.6,958.5 L771.1,950.9 L772.6,943.7 L774.1,937.1 L775.6,931.3 L777.1,926.1 L778.6,921.9 L780.1,918.5 L781.6,916.2 L783.1,914.8 L784.6,914.5 L786.1,915.2 L787.6,917.0 L789.1,919.8 L790.6,923.5 L792.1,928.1 L793.6,933.5 L795.1,939.7 L796.6,946.5 L798.1,953.9 L799.6,961.7 L801.1,969.8 L802.6,978.2 L804.1,986.7 L805.6,995.2 L807.1,1003.7 L808.6,1012.0 L810.1,1020.1 L811.6,1027.9 L813.1,1035.4 L814.6,1042.5 L816.1,1049.1 L817.6,1055.3 L819.1,1061.1 L820.6,1066.4 L822.1,1071.2 L823.6,1075.6 L825.1,1079.5 L826.6,1083.1 L828.1,1086.2 L829.6,1088.9 L831.1,1091.4 L832.6,1093.4 L834.1,1095.3 L835.6,1096.8 L837.1,1098.2 L838.6,1099.3 L840.1,1100.2 L841.6,1101.0 L843.1,1101.7 L844.6,1102.2 L846.1,1102.7 L847.6,1103.1 L849.1,1103.4 L850.6,1103.6 L852.1,1103.8 L853.6,1104.0 L855.1,1104.1 L856.6,1104.2 L858.1,1104.3 L859.6,1104.3 L861.1,1104.4 L862.6,1104.4 L864.1,1104.4 L865.6,1104.4 L867.1,1104.5 L868.6,1104.5 L870.1,1104.5 L871.6,1104.5 L873.1,1104.5 L874.6,1104.5 L876.1,1104.5 L882.1,1104.5 L888.1,1104.5 L894.1,1104.5 L900.1,1104.5 L906.1,1104.5 L912.1,1104.5 L918.1,1104.5 L924.1,1104.5 L930.1,1104.5 L936.1,1104.5 L942.1,1104.5 L948.1,1104.5 L954.1,1104.5 L960.1,1104.5 L966.1,1104.5 L972.1,1104.5 L978.1,1104.5 L984.1,1104.5 L990.1,1104.5 L996.1,1104.5 L1002.1,1104.5 L1008.1,1104.5 L1014.1,1104.5 L1020.1,1104.5" stroke="#00ffff" stroke-width="6.25"/>
<path d="M591.1,1104.5 L597.1,1104.5 L603.1,1104.5 L609.1,1104.5 L615.1,1104.5 L621.1,1104.5 L627.1,1104.5 L633.1,1104.5 L639.1,1104.5 L645.1,1104.5 L651.1,1104.5 L657.1,1104.5 L663.1,1104.5 L664.6,1104.5 L666.1,1104.5 L667.6,1104.5 L669.1,1104.5 L670.6,1104.5 L672.1,1104.4 L673.6,1104.4 L675.1,1104.4 L676.6,1104.3 L678.1,1104.3 L679.6,1104.2 L681.1,1104.2 L682.6,1104.0 L684.1,1103.9 L685.6,1103.8 L687.1,1103.5 L688.6,1103.3 L690.1,1103.0 L691.6,1102.6 L693.1,1102.1 L694.6,1101.5 L696.1,1100.8 L697.6,1100.0 L699.1,1099.0 L700.6,1097.8 L702.1,1096.4 L703.6,1094.8 L705.1,1092.9 L706.6,1090.7 L708.1,1088.2 L709.6,1085.4 L711.1,1082.2 L712.6,1078.5 L714.1,1074.5 L715.6,1070.0 L717.1,1065.0 L718.6,1059.6 L720.1,1053.7 L721.6,1047.4 L723.1,1040.6 L724.6,1033.4 L726.1,1025.9 L727.6,1018.0 L729.1,1009.8 L730.6,1001.4 L732.1,993.0 L733.6,984.4 L735.1,975.9 L736.6,967.6 L738.1,959.6 L739.6,951.9 L741.1,944.6 L742.6,938.0 L744.1,932.0 L745.6,926.8 L747.1,922.4 L748.6,918.9 L750.1,916.4 L751.6,915.0 L753.1,914.5 L754.6,915.1 L756.1,916.7 L757.6,919.3 L759.1,922.9 L760.6,927.4 L762.1,932.7 L763.6,938.8 L765.1,945.6 L766.6,952.9 L768.1,960.6 L769.6,968.7 L771.1,977.1 L772.6,985.6 L774.1,994.1 L775.6,1002.6 L777.1,1010.9 L778.6,1019.1 L780.1,1026.9 L781.6,1034.4 L783.1,1041.6 L784.6,1048.3 L786.1,1054.5 L787.6,1060.4 L789.1,1065.7 L790.6,1070.6 L792.1,1075.0 L793.6,1079.0 L795.1,1082.6 L796.6,1085.8 L798.1,1088.6 L799.6,1091.0 L801.1,1093.2 L802.6,1095.0 L804.1,1096.6 L805.6,1098.0 L807.1,1099.1 L808.6,1100.1 L810.1,1100.9 L811.6,1101.6 L813.1,1102.2 L814.6,1102.6 L816.1,1103.0 L817.6,1103.3 L819.1,1103.6 L820.6,1103.8 L822.1,1103.9 L823.6,1104.1 L825.1,1104.2 L826.6,1104.2 L828.1,1104.3 L829.6,1104.4 L831.1,1104.4 L832.6,1104.4 L834.1,1104.4 L835.6,1104.5 L837.1,1104.5 L838.6,1104.5 L840.1,1104.5 L841.6,1104.5 L843.1,1104.5 L844.6,1104.5 L850.6,1104.5 L856.6,1104.5 L862.6,1104.5 L868.6,1104.5 L874.6,1104.5 L880.6,1104.5 L886.6,1104.5 L892.6,1104.5 L898.6,1104.5 L904.6,1104.5 L910.6,1104.5 L916.6,1104.5 L922.6,1104.5 L928.6,1104.5 L934.6,1104.5 L940.6,1104.5 L946.6,1104.5 L952.6,1104.5 L958.6,1104.5 L964.6,1104.5 L970.6,1104.5 L976.6,1104.5 L982.6,1104.5 L988.6,1104.5 L994.6,1104.5 L1000.6,1104.5 L1006.6,1104.5 L1012.6,1104.5 L1018.6,1104.5" stroke="#008000" stroke-width="6.25"/>
<path d="M591.1,1104.5 L597.1,1104.5 L603.1,1104.5 L609.1,1104.5 L615.1,1104.5 L621.1,1104.5 L627.1,1104.5 L633.1,1104.5 L639.1,1104.5 L640.6,1104.5 L642.1,1104.5 L643.6,1104.5 L645.1,1104.5 L646.6,1104.5 L648.1,1104.4 L649.6,1104.4 L651.1,1104.4 L652.6,1104.4 L654.1,1104.3 L655.6,1104.3 L657.1,1104.2 L658.6,1104.1 L660.1,1104.0 L661.6,1103.8 L663.1,1103.6 L664.6,1103.4 L666.1,1103.1 L667.6,1102.8 L669.1,1102.3 L670.6,1101.8 L672.1,1101.2 L673.6,1100.4 L675.1,1099.5 L676.6,1098.4 L678.1,1097.1 L679.6,1095.6 L681.1,1093.8 L682.6,1091.8 L684.1,1089.4 L685.6,1086.8 L687.1,1083.7 L688.6,1080.3 L690.1,1076.4 L691.6,1072.1 L693.1,1067.4 L694.6,1062.2 L696.1,1056.5 L697.6,1050.4 L699.1,1043.8 L700.6,1036.8 L702.1,1029.4 L703.6,1021.7 L705.1,1013.7 L706.6,1005.4 L708.1,996.9 L709.6,988.4 L711.1,979.9 L712.6,971.5 L714.1,963.3 L715.6,955.4 L717.1,947.9 L718.6,941.0 L720.1,934.7 L721.6,929.1 L723.1,924.3 L724.6,920.4 L726.1,917.5 L727.6,915.5 L729.1,914.6 L730.6,914.7 L732.1,915.8 L733.6,918.0 L735.1,921.1 L736.6,925.2 L738.1,930.2 L739.6,935.9 L741.1,942.3 L742.6,949.4 L744.1,956.9 L745.6,964.9 L747.1,973.2 L748.6,981.6 L750.1,990.1 L751.6,998.6 L753.1,1007.0 L754.6,1015.3 L756.1,1023.3 L757.6,1031.0 L759.1,1038.3 L760.6,1045.2 L762.1,1051.7 L763.6,1057.7 L765.1,1063.3 L766.6,1068.4 L768.1,1073.0 L769.6,1077.2 L771.1,1081.0 L772.6,1084.4 L774.1,1087.3 L775.6,1089.9 L777.1,1092.2 L778.6,1094.2 L780.1,1095.9 L781.6,1097.4 L783.1,1098.6 L784.6,1099.7 L786.1,1100.6 L787.6,1101.3 L789.1,1101.9 L790.6,1102.4 L792.1,1102.9 L793.6,1103.2 L795.1,1103.5 L796.6,1103.7 L798.1,1103.9 L799.6,1104.0 L801.1,1104.1 L802.6,1104.2 L804.1,1104.3 L805.6,1104.3 L807.1,1104.4 L808.6,1104.4 L810.1,1104.4 L811.6,1104.4 L813.1,1104.5 L814.6,1104.5 L816.1,1104.5 L817.6,1104.5 L819.1,1104.5 L820.6,1104.5 L822.1,1104.5 L828.1,1104.5 L834.1,1104.5 L840.1,1104.5 L846.1,1104.5 L852.1,1104.5 L858.1,1104.5 L864.1,1104.5 L870.1,1104.5 L876.1,1104.5 L882.1,1104.5 L888.1,1104.5 L894.1,1104.5 L900.1,1104.5 L906.1,1104.5 L912.1,1104.5 L918.1,1104.5 L924.1,1104.5 L930.1,1104.5 L936.1,1104.5 L942.1,1104.5 L948.1,1104.5 L954.1,1104.5 L960.1,1104.5 L966.1,1104.5 L972.1,1104.5 L978.1,1104.5 L984.1,1104.5 L990.1,1104.5 L996.1,1104.5 L1002.1,1104.5 L1008.1,1104.5 L1014.1,1104.5 L1020.1,1104.5" stroke="#ffff00" stroke-width="6.25"/>
<path d="M591.1,1104.5 L597.1,1104.5 L603.1,1104.5 L609.1,1104.5 L615.1,1104.5 L621.1,1104.5 L622.6,1104.5 L624.1,1104.5 L625.6,1104.5 L627.1,1104.5 L628.6,1104.4 L630.1,1104.4 L631.6,1104.4 L633.1,1104.3 L634.6,1104.3 L636.1,1104.2 L637.6,1104.2 L639.1,1104.0 L640.6,1103.9 L642.1,1103.8 L643.6,1103.5 L645.1,1103.3 L646.6,1103.0 L648.1,1102.6 L649.6,1102.1 L651.1,1101.5 L652.6,1100.8 L654.1,1100.0 L655.6,1099.0 L657.1,1097.8 L658.6,1096.4 L660.1,1094.8 L661.6,1092.9 L663.1,1090.7 L664.6,1088.2 L666.1,1085.4 L667.6,1082.2 L669.1,1078.5 L670.6,1074.5 L672.1,1070.0 L673.6,1065.0 L675.1,1059.6 L676.6,1053.7 L678.1,1047.4 L679.6,1040.6 L681.1,1033.4 L682.6,1025.9 L684.1,1018.0 L685.6,1009.8 L687.1,1001.4 L688.6,993.0 L690.1,984.4 L691.6,975.9 L693.1,967.6 L694.6,959.6 L696.1,951.9 L697.6,944.6 L699.1,938.0 L700.6,932.0 L702.1,926.8 L703.6,922.4 L705.1,918.9 L706.6,916.4 L708.1,915.0 L709.6,914.5 L711.1,915.1 L712.6,916.7 L714.1,919.3 L715.6,922.9 L717.1,927.4 L718.6,932.7 L720.1,938.8 L721.6,945.6 L723.1,952.9 L724.6,960.6 L726.1,968.7 L727.6,977.1 L729.1,985.6 L730.6,994.1 L732.1,1002.6 L733.6,1010.9 L735.1,1019.1 L736.6,1026.9 L738.1,1034.4 L739.6,1041.6 L741.1,1048.3 L742.6,1054.5 L744.1,1060.4 L745.6,1065.7 L747.1,1070.6 L748.6,1075.0 L750.1,1079.0 L751.6,1082.6 L753.1,1085.8 L754.6,1088.6 L756.1,1091.0 L757.6,1093.2 L759.1,1095.0 L760.6,1096.6 L762.1,1098.0 L763.6,1099.1 L765.1,1100.1 L766.6,1100.9 L768.1,1101.6 L769.6,1102.2 L771.1,1102.6 L772.6,1103.0 L774.1,1103.3 L775.6,1103.6 L777.1,1103.8 L778.6,1103.9 L780.1,1104.1 L781.6,1104.2 L783.1,1104.2 L784.6,1104.3 L786.1,1104.4 L787.6,1104.4 L789.1,1104.4 L790.6,1104.4 L792.1,1104.5 L793.6,1104.5 L795.1,1104.5 L796.6,1104.5 L798.1,1104.5 L799.6,1104.5 L801.1,1104.5 L807.1,1104.5 L813.1,1104.5 L819.1,1104.5 L825.1,1104.5 L831.1,1104.5 L837.1,1104.5 L843.1,1104.5 L849.1,1104.5 L855.1,1104.5 L861.1,1104.5 L867.1,1104.5 L873.1,1104.5 L879.1,1104.5 L885.1,1104.5 L891.1,1104.5 L897.1,1104.5 L903.1,1104.5 L909.1,1104.5 L915.1,1104.5 L921.1,1104.5 L927.1,1104.5 L933.1,1104.5 L939.1,1104.5 L945.1,1104.5 L951.1,1104.5 L957.1,1104.5 L963.1,1104.5 L969.1,1104.5 L975.1,1104.5 L981.1,1104.5 L987.1,1104.5 L993.1,1104.5 L999.1,1104.5 L1005.1,1104.5 L1011.1,1104.5 L1017.1,1104.5" stroke="#ffa500" stroke-width="6.25"/>
<path d="M591.1,1104.5 L597.1,1104.5 L598.6,1104.5 L600.1,1104.5 L601.6,1104.5 L603.1,1104.5 L604.6,1104.4 L606.1,1104.4 L607.6,1104.4 L609.1,1104.4 L610.6,1104.3 L612.1,1104.2 L613.6,1104.2 L615.1,1104.1 L616.6,1103.9 L618.1,1103.8 L619.6,1103.6 L621.1,1103.3 L622.6,1103.0 L624.1,1102.7 L625.6,1102.2 L627.1,1101.7 L628.6,1101.0 L630.1,1100.2 L631.6,1099.2 L633.1,1098.1 L634.6,1096.7 L636.1,1095.2 L637.6,1093.3 L639.1,1091.2 L640.6,1088.8 L642.1,1086.0 L643.6,1082.8 L645.1,1079.3 L646.6,1075.3 L648.1,1070.9 L649.6,1066.1 L651.1,1060.7 L652.6,1054.9 L654.1,1048.7 L655.6,1042.0 L657.1,1034.9 L658.6,1027.4 L660.1,1019.6 L661.6,1011.5 L663.1,1003.1 L664.6,994.7 L666.1,986.1 L667.6,977.6 L669.1,969.3 L670.6,961.1 L672.1,953.4 L673.6,946.0 L675.1,939.3 L676.6,933.1 L678.1,927.8 L679.6,923.2 L681.1,919.5 L682.6,916.9 L684.1,915.2 L685.6,914.5 L687.1,914.9 L688.6,916.3 L690.1,918.7 L691.6,922.1 L693.1,926.5 L694.6,931.6 L696.1,937.6 L697.6,944.2 L699.1,951.4 L700.6,959.0 L702.1,967.1 L703.6,975.4 L705.1,983.9 L706.6,992.4 L708.1,1000.9 L709.6,1009.3 L711.1,1017.4 L712.6,1025.4 L714.1,1032.9 L715.6,1040.2 L717.1,1047.0 L718.6,1053.3 L720.1,1059.2 L721.6,1064.7 L723.1,1069.7 L724.6,1074.2 L726.1,1078.3 L727.6,1081.9 L729.1,1085.2 L730.6,1088.1 L732.1,1090.6 L733.6,1092.8 L735.1,1094.7 L736.6,1096.3 L738.1,1097.7 L739.6,1098.9 L741.1,1099.9 L742.6,1100.8 L744.1,1101.5 L745.6,1102.1 L747.1,1102.6 L748.6,1103.0 L750.1,1103.3 L751.6,1103.5 L753.1,1103.7 L754.6,1103.9 L756.1,1104.0 L757.6,1104.1 L759.1,1104.2 L760.6,1104.3 L762.1,1104.3 L763.6,1104.4 L765.1,1104.4 L766.6,1104.4 L768.1,1104.5 L769.6,1104.5 L771.1,1104.5 L772.6,1104.5 L774.1,1104.5 L775.6,1104.5 L777.1,1104.5 L783.1,1104.5 L789.1,1104.5 L795.1,1104.5 L801.1,1104.5 L807.1,1104.5 L813.1,1104.5 L819.1,1104.5 L825.1,1104.5 L831.1,1104.5 L837.1,1104.5 L843.1,1104.5 L849.1,1104.5 L855.1,1104.5 L861.1,1104.5 L867.1,1104.5 L873.1,1104.5 L879.1,1104.5 L885.1,1104.5 L891.1,1104.5 L897.1,1104.5 L903.1,1104.5 L909.1,1104.5 L915.1,1104.5 L921.1,1104.5 L927.1,1104.5 L933.1,1104.5 L939.1,1104.5 L945.1,1104.5 L951.1,1104.5 L957.1,1104.5 L963.1,1104.5 L969.1,1104.5 L975.1,1104.5 L981.1,1104.5 L987.1,1104.5 L993.1,1104.5 L999.1,1104.5 L1005.1,1104.5 L1011.1,1104.5 L1017.1,1104.5" stroke="#ff0000" stroke-width="6.25"/>
</g>
<rect x="595.1" y="819.1" width="421.40" height="316.40" stroke="#000" stroke-width="4.17" fill="none"/>
<text transform="translate(648.26,1168.30) scale(1.1590,1)" font-size="34.92" style="">−</text><text transform="translate(675.43,1167.02) scale(1.0154,1)" font-size="34.74" style="stroke:#000;stroke-width:0.40px;stroke-linejoin:round;">2</text>
<text transform="translate(813.89,1167.07) scale(1.1549,1)" font-size="34.67" style="stroke:#000;stroke-width:0.60px;stroke-linejoin:round;">0</text>
<text transform="translate(968.46,1167.02) scale(1.0154,1)" font-size="34.74" style="stroke:#000;stroke-width:0.40px;stroke-linejoin:round;">2</text>
<text transform="translate(564.68,1116.76) scale(1.1549,1)" font-size="34.67" style="stroke:#000;stroke-width:0.60px;stroke-linejoin:round;">0</text>
<text transform="translate(567.30,992.26) scale(0.9928,1)" font-size="33.74" style="stroke:#000;stroke-width:1.10px;stroke-linejoin:round;">1</text>
<text transform="translate(567.23,868.51) scale(1.0154,1)" font-size="34.74" style="stroke:#000;stroke-width:0.40px;stroke-linejoin:round;">2</text>
<path d="M349.7,127.05 H396.2" stroke="#800080" stroke-width="6"/>
<text transform="translate(408.91,134.14) scale(1.1838,1)" font-size="21.20" style="stroke:#000;stroke-width:0.20px;stroke-linejoin:round;">0</text><text transform="translate(430.40,133.93) scale(1.1165,1)" font-size="20.07" style="stroke:#000;stroke-width:0.50px;stroke-linejoin:round;">p</text><text transform="translate(444.85,134.05) scale(0.9910,1)" font-size="20.39" style="stroke:#000;stroke-width:0.40px;stroke-linejoin:round;">s</text>
<path d="M349.7,156.65 H396.2" stroke="#0000ff" stroke-width="6"/>
<text transform="translate(408.91,163.74) scale(1.1838,1)" font-size="21.20" style="stroke:#000;stroke-width:0.20px;stroke-linejoin:round;">0</text><text transform="translate(423.06,163.75) scale(1.0150,1)" font-size="25.59" style="">.</text><text transform="translate(431.73,163.50) scale(1.0210,1)" font-size="20.65" style="stroke:#000;stroke-width:0.50px;stroke-linejoin:round;">1</text><text transform="translate(452.13,163.53) scale(1.1165,1)" font-size="20.07" style="stroke:#000;stroke-width:0.50px;stroke-linejoin:round;">p</text><text transform="translate(466.58,163.65) scale(0.9910,1)" font-size="20.39" style="stroke:#000;stroke-width:0.40px;stroke-linejoin:round;">s</text>
<path d="M349.7,186.25 H396.2" stroke="#00ffff" stroke-width="6"/>
<text transform="translate(408.91,193.34) scale(1.1838,1)" font-size="21.20" style="stroke:#000;stroke-width:0.20px;stroke-linejoin:round;">0</text><text transform="translate(423.06,193.35) scale(1.0150,1)" font-size="25.59" style="">.</text><text transform="translate(431.71,193.05) scale(1.0272,1)" font-size="20.50" style="stroke:#000;stroke-width:0.60px;stroke-linejoin:round;">2</text><text transform="translate(445.54,193.34) scale(1.0286,1)" font-size="21.21" style="stroke:#000;stroke-width:0.20px;stroke-linejoin:round;">5</text><text transform="translate(466.18,193.13) scale(1.1165,1)" font-size="20.07" style="stroke:#000;stroke-width:0.50px;stroke-linejoin:round;">p</text><text transform="translate(480.63,193.25) scale(0.9910,1)" font-size="20.39" style="stroke:#000;stroke-width:0.40px;stroke-linejoin:round;">s</text>
<path d="M349.7,215.85 H396.2" stroke="#008000" stroke-width="6"/>
<text transform="translate(408.91,222.94) scale(1.1838,1)" font-size="21.20" style="stroke:#000;stroke-width:0.20px;stroke-linejoin:round;">0</text><text transform="translate(423.06,222.95) scale(1.0150,1)" font-size="25.59" style="">.</text><text transform="translate(431.49,222.94) scale(1.0286,1)" font-size="21.21" style="stroke:#000;stroke-width:0.20px;stroke-linejoin:round;">5</text><text transform="translate(444.69,222.94) scale(1.1838,1)" font-size="21.20" style="stroke:#000;stroke-width:0.20px;stroke-linejoin:round;">0</text><text transform="translate(466.18,222.73) scale(1.1165,1)" font-size="20.07" style="stroke:#000;stroke-width:0.50px;stroke-linejoin:round;">p</text><text transform="translate(480.63,222.85) scale(0.9910,1)" font-size="20.39" style="stroke:#000;stroke-width:0.40px;stroke-linejoin:round;">s</text>
<path d="M349.7,245.45 H396.2" stroke="#ffff00" stroke-width="6"/>
<text transform="translate(410.00,252.30) scale(1.0210,1)" font-size="20.65" style="stroke:#000;stroke-width:0.50px;stroke-linejoin:round;">1</text><text transform="translate(430.40,252.33) scale(1.1165,1)" font-size="20.07" style="stroke:#000;stroke-width:0.50px;stroke-linejoin:round;">p</text><text transform="translate(444.85,252.45) scale(0.9910,1)" font-size="20.39" style="stroke:#000;stroke-width:0.40px;stroke-linejoin:round;">s</text>
<path d="M349.7,275.05 H396.2" stroke="#ffa500" stroke-width="6"/>
<text transform="translate(409.98,281.85) scale(1.0272,1)" font-size="20.50" style="stroke:#000;stroke-width:0.60px;stroke-linejoin:round;">2</text><text transform="translate(430.40,281.93) scale(1.1165,1)" font-size="20.07" style="stroke:#000;stroke-width:0.50px;stroke-linejoin:round;">p</text><text transform="translate(444.85,282.05) scale(0.9910,1)" font-size="20.39" style="stroke:#000;stroke-width:0.40px;stroke-linejoin:round;">s</text>
<path d="M349.7,304.65 H396.2" stroke="#ff0000" stroke-width="6"/>
<text transform="translate(409.76,311.74) scale(1.0286,1)" font-size="21.21" style="stroke:#000;stroke-width:0.20px;stroke-linejoin:round;">5</text><text transform="translate(430.40,311.53) scale(1.1165,1)" font-size="20.07" style="stroke:#000;stroke-width:0.50px;stroke-linejoin:round;">p</text><text transform="translate(444.85,311.65) scale(0.9910,1)" font-size="20.39" style="stroke:#000;stroke-width:0.40px;stroke-linejoin:round;">s</text>
<text transform="translate(448.05,33.20) scale(0.8979,1)" font-size="44.68" style="stroke:#000;stroke-width:1.30px;stroke-linejoin:round;">C</text><text transform="translate(480.10,33.26) scale(1.1044,1)" font-size="43.55" style="stroke:#000;stroke-width:1.20px;stroke-linejoin:round;">o</text><text transform="translate(511.31,32.99) scale(1.1120,1)" font-size="42.95" style="stroke:#000;stroke-width:1.30px;stroke-linejoin:round;">n</text><text transform="translate(541.99,33.34) scale(1.2705,1)" font-size="45.03" style="stroke:#000;stroke-width:0.60px;stroke-linejoin:round;">f</text><text transform="translate(561.46,33.64) scale(1.0323,1)" font-size="55.41" style="">.</text><text transform="translate(593.21,33.29) scale(1.0535,1)" font-size="45.24" style="stroke:#000;stroke-width:0.70px;stroke-linejoin:round;">2</text>
<g transform="translate(30.80,340.80) rotate(-90)"><text transform="translate(-1.71,-1.38) scale(1.0097,1)" font-size="38.27" style="stroke:#000;stroke-width:1.60px;stroke-linejoin:round;">P</text><text transform="translate(25.74,-0.88) scale(1.2800,1)" font-size="38.67" style="stroke:#000;stroke-width:0.60px;stroke-linejoin:round;">r</text><text transform="translate(45.24,-0.83) scale(1.1145,1)" font-size="38.47" style="stroke:#000;stroke-width:0.90px;stroke-linejoin:round;">o</text><text transform="translate(72.60,-0.74) scale(1.1196,1)" font-size="39.50" style="stroke:#000;stroke-width:0.70px;stroke-linejoin:round;">b</text><text transform="translate(100.36,-0.58) scale(1.0417,1)" font-size="48.59" style="">.</text><text transform="translate(130.02,-1.18) scale(1.0869,1)" font-size="38.85" style="stroke:#000;stroke-width:1.20px;stroke-linejoin:round;">D</text><text transform="translate(162.40,-1.23) scale(1.0777,1)" font-size="38.42" style="stroke:#000;stroke-width:1.30px;stroke-linejoin:round;">i</text><text transform="translate(175.85,-0.83) scale(1.0174,1)" font-size="38.47" style="stroke:#000;stroke-width:0.90px;stroke-linejoin:round;">s</text><text transform="translate(198.59,-1.27) scale(1.3665,1)" font-size="39.48" style="stroke:#000;stroke-width:0.60px;stroke-linejoin:round;">t</text><text transform="translate(217.49,-0.88) scale(1.2800,1)" font-size="38.67" style="stroke:#000;stroke-width:0.60px;stroke-linejoin:round;">r</text><text transform="translate(236.87,-0.58) scale(1.0417,1)" font-size="48.59" style="">.</text></g>
<g transform="translate(30.80,720.70) rotate(-90)"><text transform="translate(-1.71,-1.38) scale(1.0097,1)" font-size="38.27" style="stroke:#000;stroke-width:1.60px;stroke-linejoin:round;">P</text><text transform="translate(25.74,-0.88) scale(1.2800,1)" font-size="38.67" style="stroke:#000;stroke-width:0.60px;stroke-linejoin:round;">r</text><text transform="translate(45.24,-0.83) scale(1.1145,1)" font-size="38.47" style="stroke:#000;stroke-width:0.90px;stroke-linejoin:round;">o</text><text transform="translate(72.60,-0.74) scale(1.1196,1)" font-size="39.50" style="stroke:#000;stroke-width:0.70px;stroke-linejoin:round;">b</text><text transform="translate(100.36,-0.58) scale(1.0417,1)" font-size="48.59" style="">.</text><text transform="translate(130.02,-1.18) scale(1.0869,1)" font-size="38.85" style="stroke:#000;stroke-width:1.20px;stroke-linejoin:round;">D</text><text transform="translate(162.40,-1.23) scale(1.0777,1)" font-size="38.42" style="stroke:#000;stroke-width:1.30px;stroke-linejoin:round;">i</text><text transform="translate(175.85,-0.83) scale(1.0174,1)" font-size="38.47" style="stroke:#000;stroke-width:0.90px;stroke-linejoin:round;">s</text><text transform="translate(198.59,-1.27) scale(1.3665,1)" font-size="39.48" style="stroke:#000;stroke-width:0.60px;stroke-linejoin:round;">t</text><text transform="translate(217.49,-0.88) scale(1.2800,1)" font-size="38.67" style="stroke:#000;stroke-width:0.60px;stroke-linejoin:round;">r</text><text transform="translate(236.87,-0.58) scale(1.0417,1)" font-size="48.59" style="">.</text></g>
<g transform="translate(30.80,1100.60) rotate(-90)"><text transform="translate(-1.71,-1.38) scale(1.0097,1)" font-size="38.27" style="stroke:#000;stroke-width:1.60px;stroke-linejoin:round;">P</text><text transform="translate(25.74,-0.88) scale(1.2800,1)" font-size="38.67" style="stroke:#000;stroke-width:0.60px;stroke-linejoin:round;">r</text><text transform="translate(45.24,-0.83) scale(1.1145,1)" font-size="38.47" style="stroke:#000;stroke-width:0.90px;stroke-linejoin:round;">o</text><text transform="translate(72.60,-0.74) scale(1.1196,1)" font-size="39.50" style="stroke:#000;stroke-width:0.70px;stroke-linejoin:round;">b</text><text transform="translate(100.36,-0.58) scale(1.0417,1)" font-size="48.59" style="">.</text><text transform="translate(130.02,-1.18) scale(1.0869,1)" font-size="38.85" style="stroke:#000;stroke-width:1.20px;stroke-linejoin:round;">D</text><text transform="translate(162.40,-1.23) scale(1.0777,1)" font-size="38.42" style="stroke:#000;stroke-width:1.30px;stroke-linejoin:round;">i</text><text transform="translate(175.85,-0.83) scale(1.0174,1)" font-size="38.47" style="stroke:#000;stroke-width:0.90px;stroke-linejoin:round;">s</text><text transform="translate(198.59,-1.27) scale(1.3665,1)" font-size="39.48" style="stroke:#000;stroke-width:0.60px;stroke-linejoin:round;">t</text><text transform="translate(217.49,-0.88) scale(1.2800,1)" font-size="38.67" style="stroke:#000;stroke-width:0.60px;stroke-linejoin:round;">r</text><text transform="translate(236.87,-0.58) scale(1.0417,1)" font-size="48.59" style="">.</text></g>
<text transform="translate(111.17,102.16) scale(1.0191,1)" font-size="34.01" style="stroke:#000;stroke-width:1.00px;stroke-linejoin:round;">(</text><text transform="translate(127.43,104.50) scale(0.9818,1)" font-size="35.98" style="stroke:#000;stroke-width:1.40px;stroke-linejoin:round;">a</text><text transform="translate(154.27,102.19) scale(1.0263,1)" font-size="34.12" style="stroke:#000;stroke-width:0.90px;stroke-linejoin:round;">)</text>
<text transform="translate(181.96,104.44) scale(0.9794,1)" font-size="36.11" style="font-style:italic;stroke:#000;stroke-width:1.60px;stroke-linejoin:round;">π</text><text transform="translate(210.74,104.44) scale(0.9794,1)" font-size="36.11" style="font-style:italic;stroke:#000;stroke-width:1.60px;stroke-linejoin:round;">π</text>
<text transform="translate(243.63,95.33) scale(1.1250,1)" font-size="32.00" style="font-weight:normal;stroke:#000;stroke-width:0.10px;stroke-linejoin:round;">*</text>
<path d="M265.70,91.47 L286.95,91.47 L283.02,87.69 L285.50,85.20 L292.60,93.50 L285.50,101.80 L283.02,99.31 L286.95,95.89 L265.70,95.89Z" fill="#000"/>
<text transform="translate(295.24,104.67) scale(0.8649,1)" font-size="37.75" style="stroke:#000;stroke-width:1.10px;stroke-linejoin:round;">C</text><text transform="translate(321.09,104.55) scale(1.0488,1)" font-size="37.65" style="stroke:#000;stroke-width:1.00px;stroke-linejoin:round;">T</text><text transform="translate(347.70,104.60) scale(1.0012,1)" font-size="37.79" style="stroke:#000;stroke-width:0.90px;stroke-linejoin:round;">1</text>
<text transform="translate(617.49,102.16) scale(1.0062,1)" font-size="34.01" style="stroke:#000;stroke-width:1.00px;stroke-linejoin:round;">(</text><text transform="translate(633.07,104.83) scale(1.0786,1)" font-size="37.91" style="stroke:#000;stroke-width:0.70px;stroke-linejoin:round;">b</text><text transform="translate(661.59,102.19) scale(1.0136,1)" font-size="34.12" style="stroke:#000;stroke-width:0.90px;stroke-linejoin:round;">)</text>
<text transform="translate(688.02,104.67) scale(0.8812,1)" font-size="37.75" style="stroke:#000;stroke-width:1.10px;stroke-linejoin:round;">C</text><text transform="translate(714.43,104.45) scale(1.0677,1)" font-size="37.36" style="stroke:#000;stroke-width:1.20px;stroke-linejoin:round;">T</text><text transform="translate(741.48,104.55) scale(1.0184,1)" font-size="37.65" style="stroke:#000;stroke-width:1.00px;stroke-linejoin:round;">1</text>
<path d="M765.70,91.47 L786.95,91.47 L783.02,87.69 L785.50,85.20 L792.60,93.50 L785.50,101.80 L783.02,99.31 L786.95,95.89 L765.70,95.89Z" fill="#000"/>
<text transform="translate(797.40,104.63) scale(0.9268,1)" font-size="36.85" style="font-style:italic;stroke:#000;stroke-width:1.20px;stroke-linejoin:round;">π</text><text transform="translate(824.81,104.63) scale(0.9268,1)" font-size="36.85" style="font-style:italic;stroke:#000;stroke-width:1.20px;stroke-linejoin:round;">π</text>
<text transform="translate(857.91,94.73) scale(1.1518,1)" font-size="32.00" style="font-weight:normal;stroke:#000;stroke-width:0.10px;stroke-linejoin:round;">*</text>
<text transform="translate(111.17,482.16) scale(1.0151,1)" font-size="34.01" style="stroke:#000;stroke-width:1.00px;stroke-linejoin:round;">(</text><text transform="translate(126.69,484.84) scale(0.9384,1)" font-size="37.26" style="stroke:#000;stroke-width:0.70px;stroke-linejoin:round;">c</text><text transform="translate(151.11,482.19) scale(1.0224,1)" font-size="34.12" style="stroke:#000;stroke-width:0.90px;stroke-linejoin:round;">)</text>
<text transform="translate(179.16,484.44) scale(0.9794,1)" font-size="36.11" style="font-style:italic;stroke:#000;stroke-width:1.60px;stroke-linejoin:round;">π</text><text transform="translate(207.94,484.44) scale(0.9794,1)" font-size="36.11" style="font-style:italic;stroke:#000;stroke-width:1.60px;stroke-linejoin:round;">π</text>
<text transform="translate(240.63,475.33) scale(1.1250,1)" font-size="32.00" style="font-weight:normal;stroke:#000;stroke-width:0.10px;stroke-linejoin:round;">*</text>
<path d="M262.30,471.47 L283.55,471.47 L279.62,467.69 L282.10,465.20 L289.20,473.50 L282.10,481.80 L279.62,479.31 L283.55,475.89 L262.30,475.89Z" fill="#000"/>
<text transform="translate(291.21,484.67) scale(0.8883,1)" font-size="37.75" style="stroke:#000;stroke-width:1.10px;stroke-linejoin:round;">C</text><text transform="translate(317.72,484.55) scale(1.0770,1)" font-size="37.65" style="stroke:#000;stroke-width:1.00px;stroke-linejoin:round;">T</text><text transform="translate(344.81,484.65) scale(1.0391,1)" font-size="37.92" style="stroke:#000;stroke-width:0.80px;stroke-linejoin:round;">2</text>
<text transform="translate(617.49,482.16) scale(1.0062,1)" font-size="34.01" style="stroke:#000;stroke-width:1.00px;stroke-linejoin:round;">(</text><text transform="translate(632.63,484.83) scale(1.0786,1)" font-size="37.91" style="stroke:#000;stroke-width:0.70px;stroke-linejoin:round;">d</text><text transform="translate(661.59,482.19) scale(1.0136,1)" font-size="34.12" style="stroke:#000;stroke-width:0.90px;stroke-linejoin:round;">)</text>
<text transform="translate(688.01,484.67) scale(0.8883,1)" font-size="37.75" style="stroke:#000;stroke-width:1.10px;stroke-linejoin:round;">C</text><text transform="translate(714.52,484.55) scale(1.0770,1)" font-size="37.65" style="stroke:#000;stroke-width:1.00px;stroke-linejoin:round;">T</text><text transform="translate(741.61,484.65) scale(1.0391,1)" font-size="37.92" style="stroke:#000;stroke-width:0.80px;stroke-linejoin:round;">2</text>
<path d="M765.70,471.47 L786.95,471.47 L783.02,467.69 L785.50,465.20 L792.60,473.50 L785.50,481.80 L783.02,479.31 L786.95,475.89 L765.70,475.89Z" fill="#000"/>
<text transform="translate(797.40,484.63) scale(0.9268,1)" font-size="36.85" style="font-style:italic;stroke:#000;stroke-width:1.20px;stroke-linejoin:round;">π</text><text transform="translate(824.81,484.63) scale(0.9268,1)" font-size="36.85" style="font-style:italic;stroke:#000;stroke-width:1.20px;stroke-linejoin:round;">π</text>
<text transform="translate(857.91,474.73) scale(1.1518,1)" font-size="32.00" style="font-weight:normal;stroke:#000;stroke-width:0.10px;stroke-linejoin:round;">*</text>
<text transform="translate(111.19,861.96) scale(1.0057,1)" font-size="34.01" style="stroke:#000;stroke-width:1.00px;stroke-linejoin:round;">(</text><text transform="translate(126.24,864.64) scale(1.1540,1)" font-size="37.26" style="stroke:#000;stroke-width:0.70px;stroke-linejoin:round;">e</text><text transform="translate(153.90,861.99) scale(1.0130,1)" font-size="34.12" style="stroke:#000;stroke-width:0.90px;stroke-linejoin:round;">)</text>
<text transform="translate(181.64,864.47) scale(0.8649,1)" font-size="37.75" style="stroke:#000;stroke-width:1.10px;stroke-linejoin:round;">C</text><text transform="translate(207.49,864.35) scale(1.0488,1)" font-size="37.65" style="stroke:#000;stroke-width:1.00px;stroke-linejoin:round;">T</text><text transform="translate(234.10,864.40) scale(1.0012,1)" font-size="37.79" style="stroke:#000;stroke-width:0.90px;stroke-linejoin:round;">1</text>
<path d="M258.00,851.27 L279.25,851.27 L275.32,847.49 L277.80,845.00 L284.90,853.30 L277.80,861.60 L275.32,859.11 L279.25,855.69 L258.00,855.69Z" fill="#000"/>
<text transform="translate(287.52,864.47) scale(0.8819,1)" font-size="37.75" style="stroke:#000;stroke-width:1.10px;stroke-linejoin:round;">C</text><text transform="translate(314.00,864.20) scale(1.0682,1)" font-size="37.21" style="stroke:#000;stroke-width:1.30px;stroke-linejoin:round;">T</text><text transform="translate(340.75,864.45) scale(1.0317,1)" font-size="37.92" style="stroke:#000;stroke-width:0.80px;stroke-linejoin:round;">2</text>
<text transform="translate(617.67,861.96) scale(1.0152,1)" font-size="34.01" style="stroke:#000;stroke-width:1.00px;stroke-linejoin:round;">(</text><text transform="translate(632.70,864.71) scale(1.2574,1)" font-size="38.36" style="stroke:#000;stroke-width:0.20px;stroke-linejoin:round;">f</text><text transform="translate(651.81,861.99) scale(1.0225,1)" font-size="34.12" style="stroke:#000;stroke-width:0.90px;stroke-linejoin:round;">)</text>
<text transform="translate(678.43,864.47) scale(0.8718,1)" font-size="37.75" style="stroke:#000;stroke-width:1.10px;stroke-linejoin:round;">C</text><text transform="translate(704.47,864.35) scale(1.0571,1)" font-size="37.65" style="stroke:#000;stroke-width:1.00px;stroke-linejoin:round;">T</text><text transform="translate(730.85,864.65) scale(1.0264,1)" font-size="38.49" style="stroke:#000;stroke-width:0.40px;stroke-linejoin:round;">2</text>
<path d="M755.20,851.27 L776.45,851.27 L772.52,847.49 L775.00,845.00 L782.10,853.30 L775.00,861.60 L772.52,859.11 L776.45,855.69 L755.20,855.69Z" fill="#000"/>
<text transform="translate(784.84,864.47) scale(0.8674,1)" font-size="37.75" style="stroke:#000;stroke-width:1.10px;stroke-linejoin:round;">C</text><text transform="translate(810.91,864.20) scale(1.0505,1)" font-size="37.21" style="stroke:#000;stroke-width:1.30px;stroke-linejoin:round;">T</text><text transform="translate(837.44,864.40) scale(1.0041,1)" font-size="37.79" style="stroke:#000;stroke-width:0.90px;stroke-linejoin:round;">1</text>
<text transform="translate(181.53,1211.69) scale(1.0114,1)" font-size="40.71" style="font-style:italic;stroke:#000;stroke-width:1.40px;stroke-linejoin:round;">U</text>
<text transform="translate(213.83,1219.35) scale(1.0185,1)" font-size="30.29" style="font-style:italic;stroke:#000;stroke-width:0.90px;stroke-linejoin:round;">D</text><text transform="translate(236.32,1219.25) scale(1.0120,1)" font-size="30.00" style="font-style:italic;stroke:#000;stroke-width:1.10px;stroke-linejoin:round;">A</text>
<text transform="translate(261.50,1209.32) scale(1.0311,1)" font-size="37.75" style="stroke:#000;stroke-width:1.30px;stroke-linejoin:round;">(</text>
<text transform="translate(277.68,1211.88) scale(1.3191,1)" font-size="42.41" style="font-style:italic;stroke:#000;stroke-width:0.60px;stroke-linejoin:round;">t</text>
<text transform="translate(301.36,1209.32) scale(1.0217,1)" font-size="37.75" style="stroke:#000;stroke-width:1.30px;stroke-linejoin:round;">)</text>
<path d="M329.6,1216 L334.0,1216 L344.3,1182.8 L339.9,1182.8Z" fill="#000"/>
<text transform="translate(358.54,1212.14) scale(1.1705,1)" font-size="40.83" style="stroke:#000;stroke-width:0.70px;stroke-linejoin:round;">e</text><text transform="translate(386.03,1211.70) scale(1.1186,1)" font-size="40.86" style="stroke:#000;stroke-width:1.20px;stroke-linejoin:round;">V</text>
<text transform="translate(687.93,1211.69) scale(1.0114,1)" font-size="40.71" style="font-style:italic;stroke:#000;stroke-width:1.40px;stroke-linejoin:round;">U</text>
<text transform="translate(720.23,1219.35) scale(1.0185,1)" font-size="30.29" style="font-style:italic;stroke:#000;stroke-width:0.90px;stroke-linejoin:round;">D</text><text transform="translate(742.72,1219.25) scale(1.0120,1)" font-size="30.00" style="font-style:italic;stroke:#000;stroke-width:1.10px;stroke-linejoin:round;">A</text>
<text transform="translate(767.90,1209.32) scale(1.0311,1)" font-size="37.75" style="stroke:#000;stroke-width:1.30px;stroke-linejoin:round;">(</text>
<text transform="translate(784.08,1211.88) scale(1.3191,1)" font-size="42.41" style="font-style:italic;stroke:#000;stroke-width:0.60px;stroke-linejoin:round;">t</text>
<text transform="translate(807.76,1209.32) scale(1.0217,1)" font-size="37.75" style="stroke:#000;stroke-width:1.30px;stroke-linejoin:round;">)</text>
<path d="M836.0,1216 L840.4,1216 L850.7,1182.8 L846.3,1182.8Z" fill="#000"/>
<text transform="translate(864.94,1212.14) scale(1.1705,1)" font-size="40.83" style="stroke:#000;stroke-width:0.70px;stroke-linejoin:round;">e</text><text transform="translate(892.43,1211.70) scale(1.1186,1)" font-size="40.86" style="stroke:#000;stroke-width:1.20px;stroke-linejoin:round;">V</text>
</svg>
</body></html>
